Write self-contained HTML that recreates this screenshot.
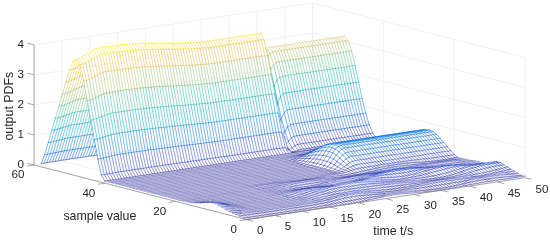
<!DOCTYPE html>
<html><head><meta charset="utf-8"><title>output PDFs</title>
<style>
html,body{margin:0;padding:0;background:#fff;}
body{width:550px;height:240px;overflow:hidden;}
svg{display:block;}
.f0,.f10{stroke-width:0.30}.f1,.f11{stroke-width:0.36}.f2,.f12{stroke-width:0.52}.f3,.f13{stroke-width:0.5}
text{font-family:"Liberation Sans",Arial,Helvetica,sans-serif;fill:#262626;}
</style></head><body>
<svg width="550" height="240" viewBox="0 0 550 240">
<path fill="none" stroke="#efefef" stroke-width="0.8" d="M246.62 219.58 L34.09 165.03M34.09 165.03 L34.09 44.87M274.47 215.39 L61.94 160.84M61.94 160.84 L61.94 40.68M302.31 211.2 L89.78 156.65M89.78 156.65 L89.78 36.49M330.16 207.01 L117.63 152.46M117.63 152.46 L117.63 32.3M358.01 202.82 L145.48 148.27M145.48 148.27 L145.48 28.11M385.86 198.63 L173.32 144.08M173.32 144.08 L173.32 23.92M413.7 194.44 L201.17 139.89M201.17 139.89 L201.17 19.73M441.55 190.25 L229.02 135.7M229.02 135.7 L229.02 15.54M469.4 186.06 L256.86 131.51M256.86 131.51 L256.86 11.35M497.24 181.87 L284.71 127.32M284.71 127.32 L284.71 7.16M525.09 177.68 L312.56 123.13M312.56 123.13 L312.56 2.97M246.62 219.58 L525.09 177.68M525.09 177.68 L525.09 57.52M175.78 201.4 L454.25 159.5M454.25 159.5 L454.25 39.34M104.93 183.21 L383.4 141.31M383.4 141.31 L383.4 21.15M34.09 165.03 L312.56 123.13M312.56 123.13 L312.56 2.97M34.09 165.03 L312.56 123.13M312.56 123.13 L525.09 177.68M34.09 134.99 L312.56 93.09M312.56 93.09 L525.09 147.64M34.09 104.95 L312.56 63.05M312.56 63.05 L525.09 117.6M34.09 74.91 L312.56 33.01M312.56 33.01 L525.09 87.56M34.09 44.87 L312.56 2.97M312.56 2.97 L525.09 57.52"/>
<g fill="none" stroke-linecap="round">
<path class="f0" stroke="#3637a0" d="M189.9 202.5 L186.4 201.8L182.9 201L179.3 200.2L175.8 199.3L172.2 198.4L168.7 197.5L165.1 196.6L161.6 195.7L158.1 194.7L154.5 193.8L151 192.9L147.4 192L143.9 191.1L140.4 190.2L136.8 189.3L133.3 188.4L129.7 187.5L126.2 186.6L122.6 185.7L119.1 184.7L115.6 183.8L112 182.9L108.5 182L104.9 181.1M196.3 202.5 L192.7 202.1L189.2 201.4L185.6 200.6L182.1 199.8L178.6 198.9L175 198L171.5 197.1L167.9 196.1L164.4 195.2L160.8 194.3L157.3 193.4L153.8 192.5L150.2 191.6L146.7 190.7L143.1 189.8L139.6 188.9L136.1 188L132.5 187.1L129 186.1L125.4 185.2L121.9 184.3L118.3 183.4L114.8 182.5L111.3 181.6L107.7 180.6M199.1 202.2 L195.5 201.7L192 201L188.4 200.2L184.9 199.3L181.3 198.4L177.8 197.5L174.3 196.6L170.7 195.7L167.2 194.8L163.6 193.9L160.1 193L156.6 192.1L153 191.2L149.5 190.3L145.9 189.4L142.4 188.5L138.8 187.5L135.3 186.6L131.8 185.7L128.2 184.8L124.7 183.9L121.1 183L117.6 182.1L114 181.2L110.5 180.2M244.3 213.2 L240.8 212M201.8 201.9 L198.3 201.4L194.8 200.6L191.2 199.8L187.7 198.9L184.1 198L180.6 197.1L177 196.2L173.5 195.3L170 194.4L166.4 193.5L162.9 192.6L159.3 191.7L155.8 190.8L152.3 189.9L148.7 188.9L145.2 188L141.6 187.1L138.1 186.2L134.5 185.3L131 184.4L127.5 183.5L123.9 182.6L120.4 181.7L116.8 180.8L113.3 179.8M247.1 212.8 L243.6 211.7L240 210.4M204.6 201.7 L201.1 201L197.5 200.3L194 199.4L190.5 198.5L186.9 197.6L183.4 196.7L179.8 195.8L176.3 194.9L172.7 194L169.2 193.1L165.7 192.2L162.1 191.3L158.6 190.3L155 189.4L151.5 188.5L148 187.6L144.4 186.7L140.9 185.8L137.3 184.9L133.8 184L130.2 183.1L126.7 182.2L123.2 181.3L119.6 180.3L116.1 179.4M249.9 212.5 L246.4 211.4L242.8 210.2L239.3 208.9M210.8 202 L207.4 201.4L203.9 200.7L200.3 199.9L196.8 199L193.2 198.1L189.7 197.2L186.2 196.3L182.6 195.4L179.1 194.5L175.5 193.6L172 192.7L168.4 191.7L164.9 190.8L161.4 189.9L157.8 189L154.3 188.1L150.7 187.2L147.2 186.3L143.7 185.4L140.1 184.5L136.6 183.6L133 182.7L129.5 181.7L125.9 180.8L122.4 179.9L118.9 179M252.7 212.1 L249.2 211.1L245.6 210L242.1 208.8L238.5 207.6M217.3 202.5 L213.7 201.8L210.2 201.1L206.7 200.3L203.1 199.5L199.6 198.6L196 197.7L192.5 196.8L188.9 195.9L185.4 195L181.9 194.1L178.3 193.1L174.8 192.2L171.2 191.3L167.7 190.4L164.1 189.5L160.6 188.6L157.1 187.7L153.5 186.8L150 185.9L146.4 185L142.9 184.1L139.4 183.1L135.8 182.2L132.3 181.3L128.7 180.4L125.2 179.5L121.6 178.5M255.5 211.8 L251.9 210.8L248.4 209.8L244.9 208.7L241.3 207.6L237.8 206.5L234.2 205.5L230.7 204.6L227.1 203.8L223.6 203.1L220.1 202.3L216.5 201.6L213 200.8L209.4 199.9L205.9 199.1L202.4 198.2L198.8 197.3L195.3 196.4L191.7 195.5L188.2 194.5L184.6 193.6L181.1 192.7L177.6 191.8L174 190.9L170.5 190L166.9 189.1L163.4 188.2L159.8 187.3L156.3 186.4L152.8 185.4L149.2 184.5L145.7 183.6L142.1 182.7L138.6 181.8L135.1 180.9L131.5 180L128 179.1L124.4 178.1M258.3 211.4 L254.7 210.4L251.2 209.4L247.6 208.5L244.1 207.4L240.6 206.4L237 205.5L233.5 204.6L229.9 203.7L226.4 202.9L222.8 202.1L219.3 201.3L215.8 200.4L212.2 199.5L208.7 198.7L205.1 197.8L201.6 196.8L198.1 195.9L194.5 195L191 194.1L187.4 193.2L183.9 192.3L180.3 191.4L176.8 190.5L173.3 189.6L169.7 188.7L166.2 187.8L162.6 186.8L159.1 185.9L155.5 185L152 184.1L148.5 183.2L144.9 182.3L141.4 181.4L137.8 180.5L134.3 179.6L130.8 178.7L127.2 177.7M261.1 211 L257.5 210L254 209.1L250.4 208.1L246.9 207.2L243.3 206.2L239.8 205.3L236.3 204.4L232.7 203.5L229.2 202.6L225.6 201.8L222.1 200.9L218.5 200L215 199.1L211.5 198.2L207.9 197.3L204.4 196.4L200.8 195.5L197.3 194.6L193.8 193.7L190.2 192.8L186.7 191.9L183.1 191L179.6 190.1L176 189.2L172.5 188.2L169 187.3L165.4 186.4L161.9 185.5L158.3 184.6L154.8 183.7L151.2 182.8L147.7 181.9L144.2 181L140.6 180.1L137.1 179.2L133.5 178.2L130 177.3M263.8 210.6 L260.3 209.6L256.8 208.7L253.2 207.8L249.7 206.8L246.1 205.9L242.6 205L239 204.1L235.5 203.2L232 202.3L228.4 201.4L224.9 200.5L221.3 199.6L217.8 198.7L214.2 197.8L210.7 196.9L207.2 196L203.6 195.1L200.1 194.2L196.5 193.3L193 192.4L189.5 191.5L185.9 190.6L182.4 189.6L178.8 188.7L175.3 187.8L171.7 186.9L168.2 186L164.7 185.1L161.1 184.2L157.6 183.3L154 182.4L150.5 181.5L146.9 180.6L143.4 179.6L139.9 178.7L136.3 177.8L132.8 176.9M266.6 210.1 L263.1 209.2L259.5 208.3L256 207.4L252.5 206.5L248.9 205.6L245.4 204.6L241.8 203.7L238.3 202.8L234.7 201.9L231.2 201L227.7 200.1L224.1 199.2L220.6 198.3L217 197.4L213.5 196.5L209.9 195.6L206.4 194.7L202.9 193.8L199.3 192.9L195.8 192L192.2 191L188.7 190.1L185.2 189.2L181.6 188.3L178.1 187.4L174.5 186.5L171 185.6L167.4 184.7L163.9 183.8L160.4 182.9L156.8 182L153.3 181L149.7 180.1L146.2 179.2L142.6 178.3L139.1 177.4L135.6 176.4M269.4 209.7 L265.9 208.8L262.3 207.9L258.8 207L255.2 206.1L251.7 205.2L248.2 204.2L244.6 203.3L241.1 202.4L237.5 201.5L234 200.6L230.4 199.7L226.9 198.8L223.4 197.9L219.8 197L216.3 196.1L212.7 195.2L209.2 194.3L205.7 193.4L202.1 192.4L198.6 191.5L195 190.6L191.5 189.7L187.9 188.8L184.4 187.9L180.9 187L177.3 186.1L173.8 185.2L170.2 184.3L166.7 183.4L163.1 182.4L159.6 181.5L156.1 180.6L152.5 179.7L149 178.8L145.4 177.9L141.9 177L138.3 176M272.2 209.3 L268.7 208.4L265.1 207.5L261.6 206.6L258 205.7L254.5 204.8L250.9 203.8L247.4 202.9L243.9 202L240.3 201.1L236.8 200.2L233.2 199.3L229.7 198.4L226.1 197.5L222.6 196.6L219.1 195.7L215.5 194.8L212 193.8L208.4 192.9L204.9 192L201.4 191.1L197.8 190.2L194.3 189.3L190.7 188.4L187.2 187.5L183.6 186.6L180.1 185.7L176.6 184.8L173 183.8L169.5 182.9L165.9 182L162.4 181.1L158.8 180.2L155.3 179.3L151.8 178.4L148.2 177.5L144.7 176.6L141.1 175.6M275 208.9 L271.4 208L267.9 207.1L264.4 206.2L260.8 205.2L257.3 204.3L253.7 203.4L250.2 202.5L246.6 201.6L243.1 200.7L239.6 199.8L236 198.9L232.5 198L228.9 197.1L225.4 196.2L221.8 195.2L218.3 194.3L214.8 193.4L211.2 192.5L207.7 191.6L204.1 190.7L200.6 189.8L197.1 188.9L193.5 188L190 187.1L186.4 186.2L182.9 185.2L179.3 184.3L175.8 183.4L172.3 182.5L168.7 181.6L165.2 180.7L161.6 179.8L158.1 178.9L154.5 178L151 177.1L147.5 176.2L143.9 175.2M277.8 208.5 L274.2 207.6L270.7 206.6L267.1 205.7L263.6 204.8L260.1 203.9L256.5 203L253 202.1L249.4 201.2L245.9 200.3L242.3 199.4L238.8 198.5L235.3 197.6L231.7 196.6L228.2 195.7L224.6 194.8L221.1 193.9L217.5 193L214 192.1L210.5 191.2L206.9 190.3L203.4 189.4L199.8 188.5L196.3 187.6L192.8 186.6L189.2 185.7L185.7 184.8L182.1 183.9L178.6 183L175 182.1L171.5 181.2L168 180.3L164.4 179.4L160.9 178.5L157.3 177.6L153.8 176.6L150.2 175.7L146.7 174.8M280.5 208 L277 207.1L273.5 206.2L269.9 205.3L266.4 204.4L262.8 203.5L259.3 202.6L255.8 201.7L252.2 200.8L248.7 199.9L245.1 199L241.6 198L238 197.1L234.5 196.2L231 195.3L227.4 194.4L223.9 193.5L220.3 192.6L216.8 191.7L213.2 190.8L209.7 189.9L206.2 189L202.6 188L199.1 187.1L195.5 186.2L192 185.3L188.5 184.4L184.9 183.5L181.4 182.6L177.8 181.7L174.3 180.8L170.7 179.9L167.2 179L163.7 178L160.1 177.1L156.6 176.2L153 175.3L149.5 174.3M283.3 207.6 L279.8 206.7L276.2 205.8L272.7 204.9L269.2 204L265.6 203.1L262.1 202.2L258.5 201.3L255 200.4L251.5 199.4L247.9 198.5L244.4 197.6L240.8 196.7L237.3 195.8L233.7 194.9L230.2 194L226.7 193.1L223.1 192.2L219.6 191.3L216 190.4L212.5 189.4L208.9 188.5L205.4 187.6L201.9 186.7L198.3 185.8L194.8 184.9L191.2 184L187.7 183.1L184.2 182.2L180.6 181.3L177.1 180.4L173.5 179.4L170 178.5L166.4 177.6L162.9 176.7L159.4 175.8L155.8 174.9L152.3 173.9M286.1 207.2 L282.6 206.3L279 205.4L275.5 204.5L271.9 203.6L268.4 202.7L264.9 201.8L261.3 200.8L257.8 199.9L254.2 199L250.7 198.1L247.2 197.2L243.6 196.3L240.1 195.4L236.5 194.5L233 193.6L229.4 192.7L225.9 191.8L222.4 190.8L218.8 189.9L215.3 189L211.7 188.1L208.2 187.2L204.6 186.3L201.1 185.4L197.6 184.5L194 183.6L190.5 182.7L186.9 181.8L183.4 180.8L179.9 179.9L176.3 179L172.8 178.1L169.2 177.2L165.7 176.3L162.1 175.4L158.6 174.5L155.1 173.5M288.9 206.8 L285.4 205.9L281.8 205L278.3 204.1L274.7 203.2L271.2 202.2L267.6 201.3L264.1 200.4L260.6 199.5L257 198.6L253.5 197.7L249.9 196.8L246.4 195.9L242.9 195L239.3 194.1L235.8 193.2L232.2 192.2L228.7 191.3L225.1 190.4L221.6 189.5L218.1 188.6L214.5 187.7L211 186.8L207.4 185.9L203.9 185L200.3 184.1L196.8 183.1L193.3 182.2L189.7 181.3L186.2 180.4L182.6 179.5L179.1 178.6L175.6 177.7L172 176.8L168.5 175.9L164.9 175L161.4 174.1L157.8 173.1M291.7 206.4 L288.1 205.5L284.6 204.6L281.1 203.6L277.5 202.7L274 201.8L270.4 200.9L266.9 200L263.3 199.1L259.8 198.2L256.3 197.3L252.7 196.4L249.2 195.5L245.6 194.5L242.1 193.6L238.6 192.7L235 191.8L231.5 190.9L227.9 190L224.4 189.1L220.8 188.2L217.3 187.3L213.8 186.4L210.2 185.5L206.7 184.5L203.1 183.6L199.6 182.7L196 181.8L192.5 180.9L189 180L185.4 179.1L181.9 178.2L178.3 177.3L174.8 176.4L171.3 175.5L167.7 174.5L164.2 173.6L160.6 172.7M294.5 206 L290.9 205L287.4 204.1L283.8 203.2L280.3 202.3L276.8 201.4L273.2 200.5L269.7 199.6L266.1 198.7L262.6 197.8L259.1 196.9L255.5 195.9L252 195L248.4 194.1L244.9 193.2L241.3 192.3L237.8 191.4L234.3 190.5L230.7 189.6L227.2 188.7L223.6 187.8L220.1 186.9L216.5 185.9L213 185L209.5 184.1L205.9 183.2L202.4 182.3L198.8 181.4L195.3 180.5L191.7 179.6L188.2 178.7L184.7 177.8L181.1 176.9L177.6 175.9L174 175L170.5 174.1L167 173.2L163.4 172.3M297.3 205.5 L293.7 204.6L290.2 203.7L286.6 202.8L283.1 201.9L279.5 201L276 200.1L272.5 199.2L268.9 198.3L265.4 197.3L261.8 196.4L258.3 195.5L254.8 194.6L251.2 193.7L247.7 192.8L244.1 191.9L240.6 191L237 190.1L233.5 189.2L230 188.3L226.4 187.3L222.9 186.4L219.3 185.5L215.8 184.6L212.2 183.7L208.7 182.8L205.2 181.9L201.6 181L198.1 180.1L194.5 179.2L191 178.3L187.4 177.3L183.9 176.4L180.4 175.5L176.8 174.6L173.3 173.7L169.7 172.8L166.2 171.8M300 205.1 L296.5 204.2L293 203.3L289.4 202.4L285.9 201.5L282.3 200.5L278.8 199.6L275.2 198.7L271.7 197.8L268.2 196.9L264.6 196L261.1 195.1L257.5 194.2L254 193.3L250.5 192.4L246.9 191.5L243.4 190.6L239.8 189.6L236.3 188.7L232.7 187.8L229.2 186.9L225.7 186L222.1 185.1L218.6 184.2L215 183.3L211.5 182.4L207.9 181.5L204.4 180.6L200.9 179.7L197.3 178.7L193.8 177.8L190.2 176.9L186.7 176L183.1 175.1L179.6 174.2L176.1 173.3L172.5 172.4L169 171.4M302.8 204.7 L299.3 203.7L295.7 202.8L292.2 201.9L288.7 201L285.1 200.1L281.6 199.1M267.4 195.4 L263.9 194.6L260.3 193.7L256.8 192.8L253.2 192L249.7 191L246.2 190.1L242.6 189.2L239.1 188.3L235.5 187.4L232 186.5L228.4 185.6L224.9 184.7L221.4 183.8L217.8 182.9L214.3 182L210.7 181.1L207.2 180.1L203.6 179.2L200.1 178.3L196.6 177.4L193 176.5L189.5 175.6L185.9 174.7L182.4 173.8L178.8 172.9L175.3 172L171.8 171M305.6 204.2 L302.1 203.2L298.5 202.3L295 201.4L291.4 200.5L287.9 199.6M270.2 194.9 L266.6 194L263.1 193.2L259.6 192.4L256 191.5L252.5 190.6L248.9 189.6L245.4 188.7L241.9 187.9L238.3 187L234.8 186.1L231.2 185.2L227.7 184.3L224.1 183.4L220.6 182.5L217.1 181.5L213.5 180.6L210 179.7L206.4 178.8L202.9 177.9L199.3 177L195.8 176.1L192.3 175.2L188.7 174.3L185.2 173.4L181.6 172.5L178.1 171.5L174.5 170.6M308.4 203.8 L304.9 202.7M301.3 201.8 L297.8 200.9L294.2 200M273 194.3 L269.4 193.4L265.9 192.7L262.3 191.9L258.8 191.1L255.3 190.1L251.7 189.1L248.2 188.2L244.6 187.4L241.1 186.6L237.6 185.7L234 184.8L230.5 183.9L226.9 182.9L223.4 182L219.8 181.1L216.3 180.2L212.8 179.3L209.2 178.4L205.7 177.5L202.1 176.6L198.6 175.7L195 174.8L191.5 173.9L188 172.9L184.4 172L180.9 171.1L177.3 170.2M275.8 193.7 L272.2 192.9L268.7 192.2L265.1 191.5L261.6 190.7L258 189.7M254.5 188.6 L251 187.7L247.4 187L243.9 186.2L240.3 185.3L236.8 184.3L233.3 183.4L229.7 182.5L226.2 181.6L222.6 180.7L219.1 179.8L215.5 178.9L212 178L208.5 177.1L204.9 176.2L201.4 175.3L197.8 174.3L194.3 173.4L190.7 172.5L187.2 171.6L183.7 170.7L180.1 169.7M278.5 193.1 L275 192.4L271.5 191.7L267.9 191L264.4 190.2L260.8 189.2M257.3 188.1 L253.7 187.2L250.2 186.5L246.7 185.7L243.1 184.8L239.6 183.9L236 183L232.5 182.1L229 181.2L225.4 180.3L221.9 179.4L218.3 178.5L214.8 177.6L211.2 176.7L207.7 175.7L204.2 174.8L200.6 173.9L197.1 173L193.5 172.1L190 171.2L186.4 170.3L182.9 169.3M277.8 191.9 L274.2 191.2L270.7 190.5L267.2 189.8L263.6 188.7M260.1 187.5 L256.5 186.6L253 186.1L249.4 185.3L245.9 184.4L242.4 183.5L238.8 182.6L235.3 181.7L231.7 180.8L228.2 179.9L224.7 179L221.1 178.1L217.6 177.1L214 176.2L210.5 175.3L206.9 174.4L203.4 173.5L199.9 172.6L196.3 171.7L192.8 170.8L189.2 169.9L185.7 168.9M280.6 191.4 L277 190.7L273.5 190L269.9 189.3M262.9 187 L259.3 186.1L255.8 185.6L252.2 184.9L248.7 184L245.1 183.1L241.6 182.2L238.1 181.3L234.5 180.4L231 179.4L227.4 178.5L223.9 177.6L220.4 176.7L216.8 175.8L213.3 174.9L209.7 174L206.2 173.1L202.6 172.2L199.1 171.3L195.6 170.4L192 169.4L188.5 168.5M283.4 191 L279.8 190.3L276.3 189.5L272.7 188.8M265.6 186.5 L262.1 185.6L258.6 185.2L255 184.5L251.5 183.6L247.9 182.7L244.4 181.8L240.8 180.8L237.3 179.9L233.8 179L230.2 178.1L226.7 177.2L223.1 176.3L219.6 175.4L216.1 174.5L212.5 173.6L209 172.7L205.4 171.8L201.9 170.8L198.3 169.9L194.8 169L191.3 168.1M286.1 190.6 L282.6 189.9L279.1 189L275.5 188.2M268.4 185.9 L264.9 185L261.3 184.7L257.8 184.1L254.3 183.2L250.7 182.2L247.2 181.3L243.6 180.4L240.1 179.5L236.5 178.6L233 177.7L229.5 176.8L225.9 175.9L222.4 175L218.8 174.1L215.3 173.2L211.8 172.2L208.2 171.3L204.7 170.4L201.1 169.5L197.6 168.6L194 167.6M288.9 190.3 L285.4 189.5L281.8 188.5L278.3 187.6M264.1 184.3 L260.6 183.6L257 182.7L253.5 181.8L250 180.9L246.4 180L242.9 179.1L239.3 178.2L235.8 177.3L232.2 176.4L228.7 175.5L225.2 174.6L221.6 173.6L218.1 172.7L214.5 171.8L211 170.9L207.5 170L203.9 169.1L200.4 168.2L196.8 167.2M291.7 190 L288.2 189.1L284.6 188M266.9 183.9 L263.4 183.2L259.8 182.3L256.3 181.4L252.7 180.5L249.2 179.6L245.7 178.7L242.1 177.8L238.6 176.9L235 176L231.5 175L227.9 174.1L224.4 173.2L220.9 172.3L217.3 171.4L213.8 170.5L210.2 169.6L206.7 168.7L203.2 167.8L199.6 166.8M294.5 189.6 L291 188.7M269.7 183.4 L266.2 182.8L262.6 181.9L259.1 181L255.5 180.1L252 179.2L248.4 178.3L244.9 177.4L241.4 176.4L237.8 175.5L234.3 174.6L230.7 173.7L227.2 172.8L223.6 171.9L220.1 171L216.6 170.1L213 169.2L209.5 168.3L205.9 167.4L202.4 166.4M297.3 189.3 L293.7 188.4M272.5 183 L268.9 182.4L265.4 181.5L261.9 180.6L258.3 179.7L254.8 178.8L251.2 177.8L247.7 176.9L244.1 176L240.6 175.1L237.1 174.2L233.5 173.3L230 172.4L226.4 171.5L222.9 170.6L219.3 169.7L215.8 168.8L212.3 167.8L208.7 166.9L205.2 166M300.1 188.9 L296.5 188M275.3 182.6 L271.7 182L268.2 181.1L264.6 180.2L261.1 179.2L257.6 178.3L254 177.4L250.5 176.5L246.9 175.6L243.4 174.7L239.8 173.8L236.3 172.9L232.8 172L229.2 171.1L225.7 170.2L222.1 169.2L218.6 168.3L215.1 167.4L211.5 166.5L208 165.6M302.8 188.6 L299.3 187.6M281.6 182.5 L278.1 182.2L274.5 181.6L271 180.6L267.4 179.7L263.9 178.8L260.3 177.9L256.8 177L253.3 176.1L249.7 175.2L246.2 174.3L242.6 173.4L239.1 172.5L235.5 171.6L232 170.6L228.5 169.7L224.9 168.8L221.4 167.9L217.8 167L214.3 166.1L210.8 165.1M305.6 188.1 L302.1 187.2M284.4 182.2 L280.8 181.8L277.3 181.1L273.8 180.2L270.2 179.3L266.7 178.4L263.1 177.5L259.6 176.6L256 175.7L252.5 174.8L249 173.9L245.4 173L241.9 172L238.3 171.1L234.8 170.2L231.2 169.3L227.7 168.4L224.2 167.5L220.6 166.6L217.1 165.7L213.5 164.7M308.4 187.7 L304.9 186.8M287.2 181.9 L283.6 181.4L280.1 180.7L276.5 179.8L273 178.9L269.5 178L265.9 177.1L262.4 176.2L258.8 175.3L255.3 174.4L251.7 173.4L248.2 172.5L244.7 171.6L241.1 170.7L237.6 169.8L234 168.9L230.5 168L226.9 167.1L223.4 166.2L219.9 165.3L216.3 164.3M311.2 187.2 L307.7 186.3M289.9 181.6 L286.4 181L282.9 180.3L279.3 179.4L275.8 178.5L272.2 177.6L268.7 176.7L265.2 175.7L261.6 174.8L258.1 173.9L254.5 173L251 172.1L247.4 171.2L243.9 170.3L240.4 169.4L236.8 168.5L233.3 167.6L229.7 166.7L226.2 165.7L222.6 164.8L219.1 163.9M314 186.7 L310.4 185.8M292.7 181.3 L289.2 180.6L285.6 179.9L282.1 179L278.6 178.1L275 177.1L271.5 176.2L267.9 175.3L264.4 174.4L260.9 173.5L257.3 172.6L253.8 171.7L250.2 170.8L246.7 169.9L243.1 169L239.6 168.1L236.1 167.1L232.5 166.2L229 165.3L225.4 164.4L221.9 163.5M316.8 186.1 L313.2 185.3M295.5 181 L292 180.3L288.4 179.5L284.9 178.5L281.3 177.6L277.8 176.7L274.3 175.8L270.7 174.9L267.2 174L263.6 173.1L260.1 172.2L256.6 171.3L253 170.4L249.5 169.5L245.9 168.5L242.4 167.6L238.8 166.7L235.3 165.8L231.8 164.9L228.2 164L224.7 163M319.6 185.5 L316 184.8M298.3 180.6 L294.8 179.9L291.2 179L287.7 178.1L284.1 177.2L280.6 176.3L277 175.4L273.5 174.5L270 173.6L266.4 172.7L262.9 171.8L259.3 170.9L255.8 169.9L252.3 169L248.7 168.1L245.2 167.2L241.6 166.3L238.1 165.4L234.5 164.5L231 163.6L227.5 162.6M301.1 180.2 L297.5 179.5L294 178.6L290.5 177.7L286.9 176.8L283.4 175.9L279.8 175L276.3 174.1L272.7 173.2L269.2 172.3L265.7 171.3L262.1 170.4L258.6 169.5L255 168.6L251.5 167.7L248 166.8L244.4 165.9L240.9 165L237.3 164.1L233.8 163.2L230.2 162.2M303.9 179.8 L300.3 179.1L296.8 178.2L293.2 177.3L289.7 176.4L286.2 175.5L282.6 174.6L279.1 173.7L275.5 172.7L272 171.8L268.5 170.9L264.9 170L261.4 169.1L257.8 168.2L254.3 167.3L250.7 166.4L247.2 165.5L243.7 164.6L240.1 163.7L236.6 162.7L233 161.8M306.7 179.4 L303.1 178.7L299.6 177.8L296 176.9L292.5 176L288.9 175.1L285.4 174.1L281.9 173.2L278.3 172.3L274.8 171.4L271.2 170.5L267.7 169.6L264.2 168.7L260.6 167.8L257.1 166.9L253.5 166L250 165.1L246.4 164.1L242.9 163.2L239.4 162.3L235.8 161.4M309.4 179 L305.9 178.3L302.4 177.4L298.8 176.5L295.3 175.5L291.7 174.6L288.2 173.7L284.6 172.8L281.1 171.9L277.6 171L274 170.1L270.5 169.2L266.9 168.3L263.4 167.4L259.9 166.5L256.3 165.5L252.8 164.6L249.2 163.7L245.7 162.8L242.1 161.9L238.6 160.9M312 178.5 L308.7 177.8L305.1 176.9L301.6 176L298.1 175.1L294.5 174.2L291 173.3L287.4 172.4L283.9 171.5L280.3 170.6L276.8 169.7L273.3 168.8L269.7 167.9L266.2 166.9L262.6 166L259.1 165.1L255.6 164.2L252 163.3L248.5 162.4L244.9 161.5L241.4 160.5M385.9 196.4 L382.3 195.4M315 178 L311.5 177.4L307.9 176.5L304.4 175.6L300.8 174.7L297.3 173.8L293.8 172.9L290.2 172L286.7 171.1L283.1 170.2L279.6 169.3L276 168.3L272.5 167.4L269 166.5L265.4 165.6L261.9 164.7L258.3 163.8L254.8 162.9L251.3 162L247.7 161.1L244.2 160.1M388.6 195.9 L385.1 195M317.8 177.5 L314.3 176.9L310.7 176.1L307.2 175.2L303.6 174.3L300.1 173.4L296.5 172.5L293 171.6L289.5 170.7L285.9 169.7L282.4 168.8L278.8 167.9L275.3 167L271.7 166.1L268.2 165.2L264.7 164.3L261.1 163.4L257.6 162.5L254 161.6L250.5 160.6L247 159.7M391.4 195.4 L387.9 194.6L384.3 193.5M320.6 177 L317 176.5L313.5 175.7L310 174.8L306.4 173.9L302.9 173L299.3 172.1L295.8 171.1L292.2 170.2L288.7 169.3L285.2 168.4L281.6 167.5L278.1 166.6L274.5 165.7L271 164.8L267.4 163.9L263.9 163L260.4 162L256.8 161.1L253.3 160.2L249.7 159.3M394.2 195 L390.7 194.1L387.1 193.2L383.6 192M323.4 176.5 L319.8 176L316.3 175.3L312.7 174.4L309.2 173.4L305.7 172.5L302.1 171.6L298.6 170.7L295 169.8L291.5 168.9L287.9 168L284.4 167.1L280.9 166.2L277.3 165.3L273.8 164.4L270.2 163.4L266.7 162.5L263.1 161.6L259.6 160.7L256.1 159.8L252.5 158.9M397 194.6 L393.5 193.7L389.9 192.9L386.4 191.7M333.2 177.8 L329.7 176.7L326.1 176L322.6 175.5L319.1 174.8L315.5 173.9L312 173L308.4 172.1L304.9 171.2L301.4 170.3L297.8 169.4L294.3 168.5L290.7 167.6L287.2 166.7L283.6 165.8L280.1 164.8L276.6 163.9L273 163L269.5 162.1L265.9 161.2L262.4 160.3L258.8 159.4L255.3 158.4M399.8 194.2 L396.2 193.3L392.7 192.5L389.2 191.5M336 177.5 L332.5 176.4L328.9 175.5L325.4 175.1L321.9 174.4L318.3 173.5L314.8 172.6L311.2 171.7L307.7 170.8L304.1 169.9L300.6 169L297.1 168.1L293.5 167.2L290 166.2L286.4 165.3L282.9 164.4L279.3 163.5L275.8 162.6L272.3 161.7L268.7 160.8L265.2 159.9L261.6 159L258.1 158M402.6 193.9 L399 192.9L395.5 192.1L391.9 191.1M342.3 177.7 L338.8 177.3L335.3 176.1L331.7 175L328.2 174.6L324.6 174L321.1 173.1L317.6 172.2L314 171.3L310.5 170.4L306.9 169.5L303.4 168.6L299.8 167.6L296.3 166.7L292.8 165.8L289.2 164.9L285.7 164L282.1 163.1L278.6 162.2L275 161.3L271.5 160.4L268 159.5L264.4 158.6L260.9 157.6M405.3 193.6 L401.8 192.6L398.3 191.7L394.7 190.8M344.6 177.3 L341.6 177M338 175.7 L334.5 174.5M331 174.1 L327.4 173.6L323.9 172.7L320.3 171.8L316.8 170.9L313.3 170L309.7 169L306.2 168.1L302.6 167.2L299.1 166.3L295.5 165.4L292 164.5L288.5 163.6L284.9 162.7L281.4 161.8L277.8 160.9L274.3 160L270.7 159L267.2 158.1L263.7 157.2M408.1 193.4 L404.6 192.2L401 191.2L397.5 190.4M347.9 176.9 L344.4 176.7M333.7 173.6 L330.2 173.2L326.7 172.3L323.1 171.4L319.6 170.4L316 169.5L312.5 168.6L309 167.7L305.4 166.8L301.9 165.9L298.3 165L294.8 164.1L291.2 163.2L287.7 162.3L284.2 161.4L280.6 160.4L277.1 159.5L273.5 158.6L270 157.7L266.4 156.8M410.9 193.1 L407.4 191.9L403.8 190.8L400.3 189.9M350.7 176.5 L347.2 176.3M336.5 173.2 L333 172.8M286.9 160.9 L283.4 160L279.9 159.1L276.3 158.2L272.8 157.3L269.2 156.3M413.7 192.9 L410.2 191.6L406.6 190.3L403.1 189.4M282.6 158.7 L279.1 157.8L275.6 156.9L272 155.9M416.5 192.7 L412.9 191.3M409.4 189.9 L405.9 188.9M285.4 158.2 L281.9 157.4L278.3 156.5L274.8 155.5M419.3 192.5 L415.7 191.1M291.8 158 L288.2 157.6L284.7 156.9L281.1 156L277.6 155.1M291 157 L287.5 156.5L283.9 155.6L280.4 154.7M293.8 156.4 L290.2 156L286.7 155.2L283.2 154.2M296.6 155.9 L293 155.6L289.5 154.8L285.9 153.8M299.3 155.3 L295.8 155.2L292.3 154.4L288.7 153.4M302.1 154.9 L298.6 154.8L295 153.9L291.5 153M304.2 154.4 L301.4 154.3L297.8 153.5L294.3 152.6L291.1 152.3M305.6 154 L304.2 153.9L300.6 153.1L297.1 152.2L295.8 152.2M294.4 152.3 L293.5 152.3L293.4 152.3M306.9 153.5 L303.4 152.7L299.9 151.8L296.3 151.9L292.8 152M308.1 152.7 L306.2 152.3L302.6 151.4L299.3 151.5M298.9 151.5 L295.6 151.2M309.9 152.1 L309 151.9L305.4 150.9L303.7 151M302.4 151 L301.9 151.1L298.3 150.1M311.4 151.3 L308.2 150.5L307.5 150.5M307.2 150.5 L304.7 150.6M431.4 180.2 L427.9 179.2M312.9 150.6 L311 150.1L307.5 150.2M434.2 179.9 L430.7 178.9M314.1 149.8 L313.8 149.7L310.2 149.7M436.8 179.5 L433.5 178.6M315.2 149.3 L313 149.3M439.8 179.1 L436.2 178.2M316.2 148.9 L315.8 148.9M442.6 178.7 L439 177.7M519.5 177 L516 175.9M522.3 176.6 L518.8 175.7M525.1 176.2 L521.5 175.4"/>
<path class="f0" stroke="#353dad" d="M200.6 202.9 L197 203.1L193.5 202.9L189.9 202.5M203.4 202.6 L203 202.6M202.6 202.6 L199.8 202.7L196.3 202.5M205.1 202.4 L202.6 202.5L199.8 202.3M199.2 202.2 L199.1 202.2M233.7 208.8 L230.2 207L226.6 205.3M204.7 202.2 L202.5 202M202.2 202 L201.8 201.9M240 210.4 L236.5 208.9L233 207.3L229.4 205.8L225.9 204.5M208.9 202.2 L208.2 202.2L204.6 201.7M239.3 208.9 L235.7 207.5L232.2 206.2L228.7 205L228.1 204.9M227.4 204.7 L227.1 204.6M226.5 204.5 L226 204.3M225.5 204.2 L225.1 204.1M224.4 204 L224.1 203.9M223 203.7 L222.6 203.7M221.8 203.5 L221.6 203.5L221.4 203.4M212.4 202.2 L212 202.2M238.5 207.6 L235 206.5L231.4 205.4L230.2 205.1M229.9 205 L228.3 204.6M227.9 204.5 L227.4 204.4M226.8 204.2 L226.1 204.1M225.6 204 L224.9 203.8M224.4 203.7 L223.7 203.6M222.9 203.5 L222.1 203.3M221.7 203.2 L220.8 203.1L220.6 203.1M220.3 203 L219.1 202.8M218.7 202.7 L217.6 202.5M282.1 193.7 L278.5 193.1M284.9 193 L281.3 192.5L277.8 191.9M291.2 192.7 L287.7 192.3L284.1 192L280.6 191.4M294 191.9 L290.4 191.6L286.9 191.5L283.4 191M293.2 191 L289.7 191L286.1 190.6M296 190.4 L292.5 190.5L288.9 190.3M271.2 185.4 L267.7 184.6L264.1 184.3M298.8 189.8 L296.5 190M296 190 L295.3 190.1L291.7 190M274 184.9 L270.5 184.1L266.9 183.9M301.6 189.2 L301.2 189.3M300.9 189.3 L299.6 189.5M298.9 189.6 L298 189.7L294.5 189.6M276.8 184.4 L273.2 183.7L269.7 183.4M303.5 188.9 L302.6 189M301.7 189.1 L301 189.2M298.9 189.3 L298.7 189.3M298.3 189.3 L297.3 189.3M279.6 183.9 L276 183.3L272.5 183M306.6 188.4 L305.7 188.5M304.8 188.6 L304.1 188.7M303.1 188.8 L300.1 188.9M285.9 184.2 L282.4 183.5L278.8 182.9L275.3 182.6M341.8 196.3 L338.3 195.5M309.9 187.9 L309 188M308 188.1 L307.5 188.2M306.4 188.4 L304.3 188.5M292.2 184.4 L288.7 183.5L285.1 183L281.6 182.5M344.6 195.6 L341.1 194.9M311.5 187.7 L310.8 187.7M309.7 187.9 L309.2 188L308.5 188M307.4 188.1 L305.6 188.1M295 183.7 L291.5 182.9L287.9 182.6L284.4 182.2M315.5 187.2 L314.8 187.2M313.4 187.4 L312.3 187.5M311.4 187.6 L308.4 187.7M297.8 183.2 L294.2 182.3L290.7 182.1L287.2 181.9M318.3 186.9 L316.5 187M314.9 187.1 L314.7 187.1L311.2 187.2M300.6 182.6 L297 181.8L293.5 181.7L289.9 181.6M321.1 186.6 L317.5 186.7L314 186.7M303.4 182.2 L299.8 181.3L296.3 181.3L292.7 181.3M323.9 186.4 L320.3 186.3L316.8 186.1M306.1 181.8 L302.6 180.8L299.1 180.9L295.5 181M358.5 193.5 L355 192.5M329.7 186.2 L326.6 186.2L323.1 185.9L319.6 185.5M308.9 181.4 L305.4 180.4L301.8 180.5L301.1 180.5M299.7 180.6 L298.3 180.6M361.3 193.2 L357.8 192.1L354.2 191M331.4 185.9 L329.4 185.9L325.9 185.5L322.3 185L318.8 184.2M311.7 181 L308.2 180L304.6 180.1L301.1 180.2M364.1 193 L360.5 191.8L357 190.6M332.9 185.6 L332.2 185.6L328.7 185L325.1 184.4L321.6 183.6M314.5 180.7 L311 179.7L307.4 179.7L305.6 179.7M304.4 179.8 L303.9 179.8M366.9 192.9 L363.3 191.6L359.8 190.2M334.6 185.2 L331.5 184.6L327.9 183.8L324.4 182.9M317.3 180.4 L313.7 179.4L310.7 179.3M309 179.3 L306.7 179.4M369.7 192.7 L366.1 191.3M336.9 184.7 L334.2 184.2L330.7 183.1L327.2 182.3M320.1 180.1 L316.5 179.1L313 178.9L309.4 179M372.4 192.6 L368.9 191.1M339.3 184.2 L337 183.7M333.5 182.5 L329.9 181.7L326.4 180.9L322.9 179.8L319.3 178.9L315.8 178.5L312.9 178.5M342.1 183.7 L339.8 183.2M332.7 181 L329.2 180.4L325.6 179.6L322.1 178.6L318.6 178.1L315 178M344.9 183.2 L342.6 182.7M335.5 180.4 L332 179.9L328.4 179.3L324.9 178.4L321.3 177.8L317.8 177.5M347.3 182.5 L345.4 182.1M338.3 179.8 L334.7 179.4L331.2 179L327.7 178.2L324.1 177.4L320.6 177M350.8 182 L348.2 181.5M341.1 179.2 L337.5 178.9L334 178.7L330.4 178L326.9 177.1L323.4 176.5M354 181.3 L350.9 180.9M343.9 178.6 L340.3 178.4L336.8 178.4L333.2 177.8M346.6 178 L343.1 177.9L341.3 178M340.1 178 L339.6 178.1L336 177.5M345.9 177.4 L345.2 177.5M344.1 177.6 L342.3 177.7M348.7 177 L348.3 177M347.4 177.1 L345.8 177.2M334.5 174.5 L331 174.1M351.5 176.5 L351.3 176.5M350.4 176.6 L349.2 176.7M348.1 176.9 L347.9 176.9M337.3 174 L333.7 173.6M353.4 176.1 L352.3 176.2M351.4 176.4 L350.7 176.5M340.1 173.5 L336.5 173.2M356.8 175.5 L355.4 175.7M354.4 175.9 L353.5 176L349.9 175.9M342.9 173 L339.3 172.5M359.8 175.1 L358.4 175.2M357.3 175.4 L356.3 175.5L352.7 175.4M398 183.2 L394.5 182M362.6 174.6 L361.4 174.7M360.5 174.8 L359.1 175L355.5 174.9M400.8 182.9 L397.3 181.8M393.7 181.1 L390.2 179.9M365.4 174.2 L364.3 174.2M363.1 174.3 L361.8 174.5L358.3 174.4M298.1 157 L294.5 157.2L291 157M403.6 182.7 L400 181.5L396.5 180.9L393 179.8M368.2 173.7 L367.8 173.7M366.7 173.8 L364.6 173.9L361.1 173.8M297.3 156.3 L293.8 156.4M406.4 182.4 L402.8 181.3L399.3 180.7L395.7 179.6M371 173.3 L367.4 173.4L363.9 173.2M300.1 155.5 L299.9 155.5M299.6 155.5 L296.6 155.9M409.2 182.2 L405.6 181.1L402.1 180.4L398.5 179.3M373.7 172.9 L370.2 172.8L366.7 172.6M302.4 154.9 L301.7 155M301.1 155.1 L300.1 155.2M411.9 182 L408.4 180.8L404.9 180.1L401.3 179M376.2 172.5 L373 172.3L369.4 172M303.4 154.7 L303 154.7M421.8 183.7 L418.3 182.9L414.7 181.8L411.2 180.6L407.6 179.7L404.1 178.6M379.3 172.2 L375.8 171.8L372.2 171.3M424.6 183.1 L421.1 182.5L417.5 181.5L414 180.4L410.4 179.4L406.9 178.2M382.1 171.8 L378.5 171.3L375 170.7M430.9 183.5 L427.4 182.6L423.8 182.1L420.3 181.3L416.8 180.2L413.2 179M384.9 171.5 L381.3 170.8L377.8 170M433.7 183 L430.2 182L426.6 181.6L423.1 181.1L419.5 180L416 178.6M386.8 171 L384.1 170.4L380.6 169.4M436.5 182.5 L432.9 181.5L429.4 181.2L425.9 180.8L422.3 179.7M389 170.5 L386.9 170L383.4 168.9M439.3 182 L435.7 181L432.2 180.8L428.6 180.5L425.1 179.5M391.3 170 L389.7 169.6M442.1 181.6 L438.5 180.5L435 180.4L431.4 180.2M394 169.6 L392.5 169.2M444.8 181.2 L441.3 180.1L437.8 179.9L434.2 179.9M396.6 169.2 L395.3 168.8M447.6 180.8 L444.1 179.7L440.5 179.5L440.2 179.5M438.4 179.5 L438.2 179.5M437.9 179.5 L437.7 179.5M437.4 179.5 L437.2 179.5M398.9 168.7 L398 168.5M450.4 180.5 L446.9 179.3L443.3 179.1L439.8 179.1M402.2 168.5 L400.8 168.1M453.2 180.1 L449.7 179L446.1 178.7L442.6 178.7M405.2 168.2 L403.6 167.8M456 179.8 L452.4 178.7L448.9 178.3L445.4 178.2M408 167.8 L406.4 167.4M458.8 179.5 L455.2 178.4L451.7 177.9L448.1 177.6M411.5 167.5 L409.2 167M461.6 179.2 L458 178.1L454.5 177.5L450.9 177.1M417.1 167.4 L415.5 167.4L412 166.6M464.3 178.9 L460.8 177.9L457.3 177.1L453.7 176.5M421.8 167.1 L418.3 166.9L414.7 166.1M467.1 178.6 L463.6 177.7L460 176.7L456.5 175.8M427.8 167.2 L426.2 167M425.9 167 L424.6 166.8L421.1 166.4L417.5 165.7M473.5 179.2 L469.9 178.3L466.4 177.4L462.8 176.3M429.9 167 L427.4 166.5L423.9 165.8L420.3 165.2L416.8 164.3M476.2 178.7 L472.7 177.9L469.2 177.2L465.6 175.9M432.9 166.9 L430.2 166.1L426.6 165.3L423.1 164.7L419.6 164M479 178.2 L475.5 177.5L471.9 176.9M435 166.5 L433 165.8L429.4 164.8L425.9 164.2L422.3 163.7M481.8 177.7 L478.3 177.2L474.7 176.5M437.8 166.2 L435.8 165.4L432.2 164.2L428.7 163.7L425.1 163.3M484.6 177.3 L481 176.7L477.5 176.2M435 163.7 L431.5 163.2L427.9 163L424.4 161.8M487.4 176.8 L483.8 176.3L480.3 175.8M437.8 163.3 L434.2 162.7L430.7 162.7L427.2 161.6M490.2 176.4 L486.6 175.8L483.1 175.3M440.6 162.8 L437 162.3L433.5 162.3L429.9 161.3M492.9 176 L489.4 175.4L485.9 174.8M443.4 162.4 L439.8 161.8L436.3 161.9L432.7 161.1M495.7 175.6 L492.2 174.9L488.6 174.2M446.1 162 L442.6 161.4L440.1 161.5M438.7 161.5 L435.5 160.8M498.5 175.3 L495 174.4L491.4 173.7M456.7 164.8 L456 164.7M448.9 161.6 L445.4 161L445 161M443.6 161.1 L441.8 161.1L438.3 160.4M501.3 174.9 L497.8 173.8L494.2 173M461.8 164.7 L458.8 164.2M451.7 161.3 L448.2 160.6L444.6 160.7L441.1 160.1M504.1 174.6 L500.5 173.3L497 172.4M470.3 164.7 L468.7 164.6L465.1 164.3L461.6 163.7M454.5 161 L450.9 160.3L450.4 160.3M448.6 160.3 L447.4 160.3L443.9 159.7M472.9 164.5 L471.4 164.3L467.9 163.7L464.4 163.1M457.3 160.7 L453.7 159.9L450.2 159.9L446.6 159.3M475.8 164.2 L474.2 163.9L470.7 163.2L467.1 162.5L463.6 161.6M460.1 160.5 L456.5 159.6L453.7 159.5M453 159.5 L449.4 158.8M479 164 L477 163.6L473.5 162.6L469.9 161.9L466.4 161.2L462.8 160.2L459.3 159.4L455.8 159.1L452.2 158.3M481.2 163.5 L479.8 163.2L476.3 162.1L472.7 161.3L469.2 160.8L465.6 160L462.1 159.1L458.5 158.7L455 157.8M484.4 163.2 L482.6 162.8M479 161.5 L475.5 160.8L472 160.4L468.4 159.8L464.9 158.9L461.3 158.3L457.8 157.2"/>
<path class="f0" stroke="#3243ba" d="M204.1 202.5 L200.6 202.9M206.9 202.2 L206 202.3M205.5 202.4 L203.4 202.6M227.4 206.8 L223.9 204.9L220.3 203.4M213.2 202.2 L212.2 202.2M209.3 202.3 L206.7 202.4M226.6 205.3 L223.1 203.9L221.9 203.6M221.3 203.5 L220.8 203.3M220.4 203.2 L219.9 203.1M219.4 203 L218.8 202.9M225.9 204.5 L225.3 204.4M224.8 204.2 L224.3 204.1M223.9 204 L223.4 203.9M222.9 203.7 L222.3 203.6M221.6 203.5 L221.3 203.4M296.8 191.1 L293.2 191M299.6 190.4 L296 190.4M305.9 190.4 L302.3 189.8L298.8 189.8M308.7 189.8 L305.1 189.2L301.6 189.2M311.4 189.2 L307.9 188.6L304.4 188.7M317.8 189.3 L314.2 188.6L310.7 188.2L307.9 188.2M320.6 188.6 L317 188.1L313.5 187.8L312.9 187.8M311.9 187.8 L309.9 187.9M319.8 187.7 L316.3 187.4L312.7 187.5M347.4 195 L343.8 194.3M322.6 187.2 L319 187.1L315.5 187.2M350.2 194.5 L346.6 193.8M325.4 186.8 L321.8 186.9L318.3 186.9M353 194.1 L349.4 193.3L345.9 192.3M328.2 186.4 L326.7 186.5M325.7 186.6 L324.6 186.7L321.1 186.6M355.7 193.8 L352.2 192.9L348.7 191.8M329.9 186.1 L329 186.2M327.9 186.4 L327.4 186.4L323.9 186.4M355 192.5 L351.4 191.4M332.8 185.7 L332.7 185.7M331.4 185.9 L331.2 186M360.8 179.9 L360.6 180M360.1 180.1 L359 180.2M358.7 180.3 L357.6 180.5M357.1 180.5 L353.7 180.2M363.6 179.2 L363.2 179.2M362.9 179.3 L361.5 179.5M361.1 179.5 L360.1 179.7L356.5 179.4M349.4 177.5 L345.9 177.4M377 181.5 L373.5 179.8M362.8 178.8 L359.3 178.7M355.8 177.8 L352.2 177L348.7 177M383.3 182.9 L379.8 181.5L376.3 179.9M365.6 177.9 L362.1 177.8M358.5 177.1 L355 176.4L351.5 176.5M386.1 182.7 L382.6 181.5L379 179.9L375.5 178.1M368.4 177 L364.9 177L361.3 176.5L357.8 175.9L354.2 176M392.4 183.8 L388.9 182.5L385.4 181.5L381.8 179.9M367.7 176.1 L364.1 175.9L360.6 175.5L358.1 175.5M357.4 175.5 L357.2 175.5M395.2 183.5 L391.7 182.3L388.1 181.4L384.6 179.9M370.4 175.3 L366.9 175.2L363.4 175L362.3 175M361.4 175 L359.8 175.1M394.5 182 L390.9 181.3L387.4 179.9M369.7 174.6 L366.1 174.5L365.4 174.5M365.1 174.5 L362.6 174.6M397.3 181.8 L393.7 181.1M372.5 174 L368.9 174.1L365.4 174.2M375.2 173.3 L373.3 173.5M372.6 173.6 L371.7 173.6L368.2 173.7M304.4 154.9 L300.9 155.8L297.3 156.3M377.3 172.8 L376.1 173M375.4 173.1 L374.5 173.2L373.1 173.2M371.7 173.3 L371 173.3M303.6 154.6 L300.1 155.5M376.7 172.8 L373.7 172.9M304.9 154.2 L304.7 154.2M304.2 154.4 L303.9 154.5M303.4 154.6 L303.2 154.7M379.7 172.4 L377.6 172.5M380.9 172.1 L379.3 172.2M423.6 167.2 L421.8 167.1"/>
<path class="f0" stroke="#2c4ac7" d="M214.7 203.4 L211.2 202.5L207.7 202.3L204.1 202.5M221.1 204.8 L217.5 203.2L214 202.3L210.4 202L210.3 202.1M209.2 202.1 L206.9 202.2M220.3 203.4 L218.9 203.1M218.5 203 L216.8 202.5L215.4 202.4M213.8 202.2 L213.2 202.2M324.1 189.1 L320.6 188.6M326.9 188.3 L323.3 187.8L319.8 187.7M329.7 187.5 L326.1 187.2L322.6 187.2M332.5 186.8 L328.9 186.5L325.4 186.8M335.2 186.2 L331.7 185.9L331.2 186M330.6 186.1 L329.4 186.2M328.7 186.3 L328.2 186.4M338 185.6 L334.5 185.4L333.8 185.5M332.9 185.6 L332.4 185.7M331.6 185.9 L330.9 186M340.8 185.1 L337.3 184.8L336.4 185M335.5 185.2 L335.1 185.2M334.1 185.5 L333.9 185.5M343.6 184.6 L340.1 184.2L339.7 184.3M339 184.4 L338.8 184.5M337.9 184.7 L337.7 184.7M346.4 184.1 L342.8 183.6L342.3 183.7M345.6 183 L344.9 183.2M348.4 182.5 L347.7 182.7M351.2 182 L350.7 182.1M350.1 182.2 L350 182.2M357.5 182.5 L354 181.5M360.3 182.2 L356.8 181M363.1 182 L359.5 180.7L358.7 180.7M357.4 180.9 L356 181M365.9 181.8 L362.3 180.4L358.8 180.4L358.6 180.5M368.7 181.7 L365.1 180.1L363.5 180M363.2 180 L361.6 179.9L361 180M360.2 180.2 L360 180.2M371.4 181.6 L367.9 180L364.4 179.4L363.8 179.5M362.9 179.6 L362.2 179.7M361.2 179.9 L360.8 179.9M374.2 181.6 L370.7 179.9L367.1 179L366.8 179M365.7 179.1 L363.6 179.2M373.5 179.8 L369.9 178.6L367.4 178.5M367.1 178.5 L366.4 178.5L363.5 178.7M363.2 178.8 L362.8 178.8M376.3 179.9 L372.7 178.4L369.2 177.8L365.6 177.9M375.5 178.1 L372 177.1L368.4 177M378.3 178 L374.7 176.6M371.2 176.1 L367.7 176.1M373.2 174.5 L369.7 174.6M380.8 172.2 L380.5 172.2M379.6 172.4 L379 172.5M378.3 172.6 L377.6 172.7M383.6 171.6 L383.2 171.7M382.4 171.9 L382 172M380.9 172.2 L380.8 172.2M420.6 167.3 L420.4 167.3M432.5 167 L432.1 167"/>
<path class="f0" stroke="#2053d4" d="M349.2 183.6 L345.6 183M351.9 183.2 L348.4 182.5M354.7 182.8 L351.2 182M354 181.5 L353.4 181.6M352.9 181.7 L352.7 181.7M356.8 181 L355.5 181.2M354.5 181.4 L353.7 181.5"/>
<path class="f0" stroke="#0268e1" d="M284.4 136.9 L280.9 120.3"/>
<path class="f0" stroke="#25b5a9" d="M274.6 93.8 L271 74.7"/>
<path class="f0" stroke="#87bf77" d="M271 74.7 L267.5 55.6"/>
<path class="f0" stroke="#d9ba56" d="M267.5 55.6 L263.9 39.4"/>
<path class="f0" stroke="#e1b952" d="M266.5 47.9 L266.3 48M269.3 47.4 L268.6 47.7M272 47 L271.6 47.2M274.8 46.6 L274.3 46.8M277.6 46.1 L277.1 46.4M280.4 45.7 L279.9 46M283.2 45.3 L282.7 45.5M286 44.9 L285.5 45.1M288.7 44.5 L288.3 44.7M291.5 44 L291 44.3M294.3 43.6 L293.8 43.9M297.1 43.2 L296.6 43.4M299.9 42.8 L299.4 43M302.7 42.4 L302.2 42.6M305.5 42 L305 42.2M308.2 41.5 L307.8 41.8M311 41.1 L310.5 41.4M313.8 40.7 L313.3 40.9M316.6 40.3 L316.1 40.5M319.4 39.9 L318.9 40.1M322.2 39.4 L321.7 39.7M324.9 39 L324.5 39.3M327.7 38.6 L327.2 38.8M330.5 38.2 L330 38.4M333.3 37.8 L332.8 38M336.1 37.3 L335.6 37.6M338.9 36.9 L338.4 37.2M341.7 36.5 L341.2 36.7M344.4 36.1 L344 36.3"/>
<path class="f0" stroke="#f5de21" d="M204.7 41.5 L204.2 41.8M207.5 41.2 L207 41.5M210.3 40.8 L209.8 41.1M213 40.4 L212.6 40.6M215.8 39.9 L215.4 40.2M218.6 39.5 L218 39.9M221.4 39.1 L220.8 39.5M224.2 38.7 L223.7 39M227 38.3 L226.5 38.5M229.8 37.8 L229.3 38.1M232.5 37.4 L232.1 37.7M235.3 37 L234.9 37.3M238.1 36.6 L237.5 37M240.9 36.2 L240.4 36.5M243.7 35.7 L243.2 36M246.5 35.3 L246 35.6M249.2 34.9 L248.8 35.2M252 34.5 L251.6 34.8M254.8 34.1 L254.4 34.4M257.6 33.7 L257.2 33.9"/>
<path class="f0" stroke="#f5e41d" d="M76.6 58.8 L73.1 61.1M79.4 58 L78.8 58.4M76.9 59.7 L75.8 60.4M82.2 56.7 L81.6 57.1"/>
<path class="f0" stroke="#f5eb18" d="M84.9 55.1 L84.4 55.5"/>
<path class="f0" stroke="#f6f313" d="M87.7 53.3 L87.1 53.7M90.5 51.5 L90 51.9"/>
<path class="f0" stroke="#f9fb0e" d="M93.3 49.9 L92.7 50.3M96.1 48.7 L95.5 49.1"/>
<path class="f1" stroke="#363093" d="M246.6 219.6 L243.1 218.1L239.5 216M249.4 219.1 L245.9 217.6L242.3 215.6M252.2 218.7 L248.6 217.2L245.1 215.2M255 218.3 L251.4 216.8L247.9 214.8M257.8 217.9 L254.2 216.4L250.7 214.4M260.5 217.5 L257 216L253.5 214M263.3 217.1 L259.8 215.6L256.2 213.6M266.1 216.6 L262.6 215.2L259 213.2M268.9 216.2 L265.4 214.8L261.8 212.8M271.7 215.8 L268.1 214.4L264.6 212.4M274.5 215.4 L270.9 213.9L267.4 212M277.3 215 L273.7 213.5L270.2 211.6M280 214.6 L276.5 213.1L273 211.2M282.8 214.1 L279.3 212.7L275.7 210.8M285.6 213.7 L282.1 212.3L278.5 210.3M288.4 213.3 L284.8 211.8L281.3 209.9M291.2 212.9 L287.6 211.4L284.1 209.5M294 212.5 L290.4 211L286.9 209.1M296.7 212 L293.2 210.6L289.7 208.7M299.5 211.6 L296 210.2L292.4 208.2M302.3 211.2 L298.8 209.7L295.2 207.8M305.1 210.8 L301.6 209.3L298 207.4M307.9 210.4 L304.3 208.9L300.8 207M310.7 209.9 L307.1 208.5L303.6 206.6M313.5 209.5 L309.9 208.1L306.4 206.1M316.2 209 L312.7 207.6L309.2 205.7M319 208.6 L315.5 207.2L311.9 205.3M321.8 208.1 L318.3 206.7L314.7 204.8M324.6 207.6 L321 206.2L317.5 204.3M327.4 207.2 L323.8 205.7L320.3 203.8M330.2 206.8 L326.6 205.2M332.9 206.3 L329.4 204.7M335.7 205.9 L332.2 204.1M338.5 205.5 L335 203.6M341.3 205.1 L337.8 203M422.1 192.3 L418.5 190.8M424.8 192 L421.3 190.5M427.6 191.8 L424.1 190.3M430.4 191.5 L426.9 190M433.2 191.2 L429.7 189.7M436 190.9 L432.4 189.4M438.8 190.5 L435.2 189M441.5 190.1 L438 188.7M444.3 189.6 L440.8 188.3M447.1 189.2 L443.6 187.8M449.9 188.7 L446.4 187.3M452.7 188.1 L449.1 186.8M455.5 187.6 L451.9 186.3M458.3 187.1 L454.7 185.7M461 186.5 L457.5 185.1M463.8 185.9 L460.3 184.5"/>
<path class="f1" stroke="#3637a0" d="M239.5 216 L236 214.3L232.5 212.9M242.3 215.6 L238.8 213.9L235.2 212.5L231.7 210.9M245.1 215.2 L241.6 213.5L238 212.2L234.5 210.6M247.9 214.8 L244.3 213.2M240.8 212 L237.3 210.5M250.7 214.4 L247.1 212.8M253.5 214 L249.9 212.5M256.2 213.6 L252.7 212.1M259 213.2 L255.5 211.8M261.8 212.8 L258.3 211.4M264.6 212.4 L261.1 211M267.4 212 L263.8 210.6M270.2 211.6 L266.6 210.1M273 211.2 L269.4 209.7M275.7 210.8 L272.2 209.3M278.5 210.3 L275 208.9M281.3 209.9 L277.8 208.5M284.1 209.5 L280.5 208M286.9 209.1 L283.3 207.6M289.7 208.7 L286.1 207.2M292.4 208.2 L288.9 206.8M295.2 207.8 L291.7 206.4M298 207.4 L294.5 206M300.8 207 L297.3 205.5M303.6 206.6 L300 205.1M306.4 206.1 L302.8 204.7M281.6 199.1 L278 198.2L274.5 197.3L270.9 196.3L267.4 195.4M309.2 205.7 L305.6 204.2M287.9 199.6 L284.4 198.6L280.8 197.6L277.3 196.6L273.7 195.7L270.2 194.9M311.9 205.3 L308.4 203.8M304.9 202.7 L301.3 201.8M294.2 200 L290.7 199L287.1 197.9L283.6 196.9L280.1 196L276.5 195.1L273 194.3M314.7 204.8 L311.2 203.3L307.6 202.2L304.1 201.2L300.6 200.3L297 199.4L293.5 198.4L289.9 197.2L286.4 196.1M279.3 194.4 L275.8 193.7M258 189.7 L254.5 188.6M317.5 204.3 L314 202.8L310.4 201.7L306.9 200.6L303.3 199.7L299.8 198.8L296.3 197.7L292.7 196.5M260.8 189.2 L257.3 188.1M320.3 203.8 L316.7 202.3L313.2 201.1L309.7 200L306.1 199M302.6 198.1 L299 197M263.6 188.7 L260.1 187.5M323.1 203.2 L319.5 201.7L316 200.5L312.4 199.3M269.9 189.3 L266.4 188.2L262.9 187M325.9 202.6 L322.3 201.1L318.8 200M272.7 188.8 L269.2 187.7L265.6 186.5M328.6 202 L325.1 200.5L321.6 199.4M275.5 188.2 L272 187.2L268.4 185.9M331.4 201.3 L327.9 199.8M278.3 187.6 L274.8 186.6L271.2 185.4M334.2 200.7 L330.7 199.1M284.6 188 L281.1 187L277.5 186L274 184.9M291 188.7 L287.4 187.4L283.9 186.3M293.7 188.4 L290.2 186.9M296.5 188 L293 186.4M299.3 187.6 L295.8 185.9M302.1 187.2 L298.5 185.4M304.9 186.8 L301.3 184.9M307.7 186.3 L304.1 184.5M310.4 185.8 L306.9 184M313.2 185.3 L309.7 183.6M316 184.8 L312.5 183.2M371.9 199.3 L368.4 197.7M318.8 184.2 L315.3 182.7M374.7 198.7 L371.2 197.2M377.5 198.1 L374 196.8L370.4 194.8M380.3 197.5 L376.7 196.3L373.2 194.5M383.1 196.9 L379.5 195.9L376 194.3L372.4 192.6M382.3 195.4 L378.8 194.1L375.2 192.5M385.1 195 L381.6 193.8L378 192.3M384.3 193.5 L380.8 192.2L377.3 190.5M383.6 192 L380 190.3M386.4 191.7 L382.8 190M389.2 191.5 L385.6 189.8M391.9 191.1 L388.4 189.5L384.9 187.2M394.7 190.8 L391.2 189.2M341.6 177 L338 175.7M397.5 190.4 L394 188.8M344.4 176.7 L340.8 175.4L337.3 174M400.3 189.9 L396.7 188.5M347.2 176.3 L343.6 175L340.1 173.5M333 172.8 L329.4 171.8L325.9 170.9L322.4 170L318.8 169.1L315.3 168.2L311.7 167.3L308.2 166.4L304.7 165.5L301.1 164.6L297.6 163.7L294 162.8L290.5 161.8L286.9 160.9M403.1 189.4 L399.5 188M349.9 175.9 L346.4 174.6L342.9 173M339.3 172.5 L335.8 172.1M293.3 161.2 L289.7 160.4L286.2 159.5L282.6 158.7M412.9 191.3 L409.4 189.9M405.9 188.9 L402.3 187.6M352.7 175.4 L349.2 174.1L345.6 172.3M292.5 159.5 L289 158.9L285.4 158.2M415.7 191.1 L412.2 189.4L408.6 188.3L405.1 187.1M355.5 174.9 L352 173.6M418.5 190.8 L415 188.9L411.4 187.7L407.9 186.6L404.3 184.8M358.3 174.4 L354.8 173M421.3 190.5 L417.8 188.5L414.2 187.1L410.7 186M361.1 173.8 L357.5 172.4M424.1 190.3 L420.5 188L417 186.5M363.9 173.2 L360.3 171.7M423.3 187.6 L419.8 185.9M366.7 172.6 L363.1 171.1M426.1 187.1 L422.6 185.3M428.9 186.7 L425.4 184.7M304.7 150.6 L301.1 149.4M307.5 150.2 L303.9 148.9M430.7 178.9 L427.1 176.9M310.2 149.7 L306.7 148.5M433.5 178.6 L429.9 176.4M313 149.3 L309.5 148.1M315.8 148.9 L312.3 147.6M317.6 148.1 L315.1 147.2M466.6 185.4 L463.1 183.9M459.5 181.8 L456 179.8M445.4 178.2 L441.8 177.2M319.2 147.3 L317.8 146.8M469.4 184.8 L465.9 183.2M462.3 181.3 L458.8 179.5M448.1 177.6 L444.6 176.6M321 146.5 L320.6 146.4M472.2 184.3 L468.6 182.6M475 183.8 L471.4 182L467.9 180.2M477.8 183.3 L474.2 181.4L470.7 179.7M480.5 182.8 L477 180.8L473.5 179.2M483.3 182.3 L479.8 180.3L476.2 178.7M486.1 181.9 L482.6 179.8L479 178.2M485.3 179.3 L481.8 177.7M474.7 176.5 L471.2 175M488.1 178.9 L484.6 177.3M477.5 176.2 L474 174.5M494.5 180.6 L490.9 178.5L487.4 176.8M480.3 175.8 L476.7 174M497.2 180.2 L493.7 178.1L490.2 176.4M483.1 175.3 L479.5 173.4M500 179.8 L496.5 177.8L492.9 176M502.8 179.4 L499.3 177.5L495.7 175.6M505.6 179.1 L502.1 177.2L498.5 175.3M508.4 178.7 L504.8 176.9L501.3 174.9M511.2 178.2 L507.6 176.7L504.1 174.6M514 177.8 L510.4 176.4L506.9 174.3M516.7 177.4 L513.2 176.2L509.7 174.1M516 175.9 L512.4 173.8L508.9 171.9M518.8 175.7 L515.2 173.5L511.7 171.5M521.5 175.4 L518 173.3L514.5 171"/>
<path class="f1" stroke="#353dad" d="M232.5 212.9 L228.9 211.2L225.4 209.2L221.8 207M231.7 210.9 L228.2 208.9L224.6 206.8M234.5 210.6 L230.9 208.8L227.4 206.8M237.3 210.5 L233.7 208.8M286.4 196.1 L282.8 195.2L279.3 194.4M292.7 196.5 L289.2 195.3L285.6 194.4L282.1 193.7M306.1 199 L302.6 198.1M299 197 L295.5 195.7L292 194.5L288.4 193.6L284.9 193M312.4 199.3 L308.9 198.3L305.4 197.3L301.8 196.3L298.3 194.9L294.7 193.6L291.2 192.7M318.8 200 L315.2 198.7L311.7 197.5L308.2 196.5L304.6 195.4M301.1 194.1 L297.5 192.8L294 191.9M321.6 199.4 L318 198L314.5 196.7L310.9 195.7L307.4 194.6M303.9 193.2 L300.3 191.9M327.9 199.8 L324.3 198.7L320.8 197.4L317.3 195.9L313.7 194.8L310.2 193.7M330.7 199.1 L327.1 198.1L323.6 196.7L320 195.2L316.5 193.8M337 200 L333.5 198.4L329.9 197.5L326.4 196.1L322.8 194.4M283.9 186.3 L280.3 185.4L276.8 184.4M339.8 199.3 L336.2 197.7L332.7 196.8L329.2 195.4M290.2 186.9 L286.7 185.7L283.1 184.8L279.6 183.9M342.6 198.6 L339 197L335.5 196.2L331.9 194.8M293 186.4 L289.4 185L285.9 184.2M345.4 198 L341.8 196.3M338.3 195.5 L334.7 194.2M295.8 185.9 L292.2 184.4M348.1 197.4 L344.6 195.6M341.1 194.9 L337.5 193.7M298.5 185.4 L295 183.7M350.9 196.9 L347.4 195M343.8 194.3 L340.3 193.2M301.3 184.9 L297.8 183.2M353.7 196.4 L350.2 194.5M304.1 184.5 L300.6 182.6M356.5 196.1 L353 194.1M306.9 184 L303.4 182.2M359.3 195.7 L355.7 193.8M309.7 183.6 L306.1 181.8M362.1 195.5 L358.5 193.5M312.5 183.2 L308.9 181.4M364.8 195.2 L361.3 193.2M315.3 182.7 L311.7 181M367.6 195 L364.1 193M321.6 183.6 L318 182.3L314.5 180.7M370.4 194.8 L366.9 192.9M324.4 182.9 L320.8 181.8L317.3 180.4M373.2 194.5 L369.7 192.7M366.1 191.3 L362.6 189.9M327.2 182.3 L323.6 181.4L320.1 180.1M368.9 191.1 L365.4 189.5M337 183.7 L333.5 182.5M375.2 192.5 L371.7 190.9L368.1 189.1L364.6 187.2M339.8 183.2 L336.3 181.9L332.7 181M378 192.3 L374.5 190.7L370.9 188.8L367.4 186.8M342.6 182.7 L339 181.3L335.5 180.4M377.3 190.5 L373.7 188.5L370.2 186.4M345.4 182.1 L341.8 180.8L338.3 179.8M380 190.3 L376.5 188.1L373 186.1M348.2 181.5 L344.6 180.2L341.1 179.2M382.8 190 L379.3 187.8L375.7 185.7M350.9 180.9 L347.4 179.6L343.9 178.6M385.6 189.8 L382.1 187.5L378.5 185.4M353.7 180.2 L350.2 179L346.6 178M384.9 187.2 L381.3 185.1M356.5 179.4 L353 178.4M387.6 186.8 L384.1 184.7M390.4 186.5 L386.9 184.4M393.2 186.2 L389.7 184.1M396 185.8 L392.4 183.8M398.8 185.5 L395.2 183.5M345.6 172.3 L342.1 171.5M401.6 185.1 L398 183.2M295.3 158.3 L291.8 158M404.3 184.8 L400.8 182.9M410.7 186 L407.1 184.4L403.6 182.7M393 179.8 L389.4 177.5M417 186.5 L413.5 185.5L409.9 184L406.4 182.4M395.7 179.6 L392.2 177.3M419.8 185.9 L416.2 184.9L412.7 183.7L409.2 182.2M398.5 179.3 L395 177.1M422.6 185.3 L419 184.3L415.5 183.3L411.9 182M401.3 179 L397.8 176.8M369.4 172 L365.9 170.5M425.4 184.7 L421.8 183.7M372.2 171.3 L368.7 169.9M428.1 184.1 L424.6 183.1M375 170.7 L371.5 169.3M413.2 179 L409.7 177.7M377.8 170 L374.2 168.7M416 178.6 L412.5 177.1M380.6 169.4 L377 168.1M422.3 179.7 L418.8 178.2L415.2 176.6M383.4 168.9 L379.8 167.5M425.1 179.5 L421.6 177.8L418 175.9M389.7 169.6 L386.1 168.3L382.6 166.9L379.1 165.1M427.9 179.2 L424.4 177.4M392.5 169.2 L388.9 167.8L385.4 166.4L381.8 164.6M395.3 168.8 L391.7 167.3L388.2 165.9M398 168.5 L394.5 166.9L391 165.4M400.8 168.1 L397.3 166.5L393.7 164.9M403.6 167.8 L400.1 166.1L396.5 164.5M406.4 167.4 L402.9 165.8L399.3 164.1M409.2 167 L405.6 165.5L402.1 163.7M465.1 180.8 L461.6 179.2M450.9 177.1 L447.4 176M412 166.6 L408.4 165.2L404.9 163.4M467.9 180.2 L464.3 178.9M453.7 176.5 L450.2 175.2M414.7 166.1 L411.2 164.9L407.7 163.1L404.1 161.3M470.7 179.7 L467.1 178.6M456.5 175.8 L453 174.5M417.5 165.7 L414 164.6L410.4 162.8L406.9 161M462.8 176.3 L459.3 175.1L455.7 173.6M416.8 164.3 L413.2 162.6L409.7 160.6M465.6 175.9 L462.1 174.4M419.6 164 L416 162.4L412.5 160.2M471.9 176.9 L468.4 175.4L464.9 173.7M422.3 163.7 L418.8 162.2L415.3 159.9M425.1 163.3 L421.6 162L418 159.6M440.5 165.9 L438.5 165.1L435 163.7M424.4 161.8 L420.8 159.2M442.9 165.4 L441.3 164.7L437.8 163.3M446 165.2 L444.1 164.3L440.6 162.8M449.6 165.2 L446.9 164L443.4 162.4M452.7 165 L449.7 163.6L446.1 162M456 164.7 L452.5 163.2L448.9 161.6M458.8 164.2 L455.2 162.8L451.7 161.3M461.6 163.7 L458 162.4L454.5 161M506.9 174.3 L503.3 172.8L499.8 171.7M464.4 163.1 L460.8 162L457.3 160.7M509.7 174.1 L506.1 172.4L502.6 171.1M463.6 161.6 L460.1 160.5M508.9 171.9 L505.4 170.4M511.7 171.5 L508.1 169.8M514.5 171 L510.9 169.2M482.6 162.8 L479 161.5"/>
<path class="f1" stroke="#3243ba" d="M221.8 207 L218.3 205M224.6 206.8 L221.1 204.8M300.3 191.9 L296.8 191.1M306.6 192.4 L303.1 191.2L299.6 190.4M316.5 193.8 L313 192.7L309.4 191.6L305.9 190.4M322.8 194.4 L319.3 192.9L315.7 191.8L312.2 190.8L308.7 189.8M322.1 192 L318.5 190.9L315 190L311.4 189.2M324.9 191.1 L321.3 190L317.8 189.3M346.6 193.8 L343.1 192.7L339.5 190.7M345.9 192.3 L342.3 190.3M348.7 191.8 L345.1 189.9M351.4 191.4 L347.9 189.5M354.2 191 L350.7 189.1M357 190.6 L353.5 188.7M359.8 190.2 L356.2 188.3M362.6 189.9 L359 187.9M365.4 189.5 L361.8 187.5M370.2 186.4 L366.6 184.2M373 186.1 L369.4 183.9M375.7 185.7 L372.2 183.7L368.7 181.7M378.5 185.4 L375 183.5L371.4 181.6M381.3 185.1 L377.8 183.3L374.2 181.6M353 178.4 L349.4 177.5M384.1 184.7 L380.6 183.1L377 181.5M359.3 178.7 L355.8 177.8M386.9 184.4 L383.3 182.9M362.1 177.8 L358.5 177.1M389.7 184.1 L386.1 182.7M381.8 179.9 L378.3 178M384.6 179.9 L381.1 177.8M387.4 179.9 L383.8 177.7L380.3 175.6M390.2 179.9 L386.6 177.6L383.1 175.2M301.6 156.7 L298.1 157M388.2 165.9 L384.6 164.2M391 165.4 L387.4 163.8M393.7 164.9 L390.2 163.4M396.5 164.5 L393 162.9M399.3 164.1 L395.8 162.5M402.1 163.7 L398.6 162.1M404.9 163.4 L401.3 161.7"/>
<path class="f1" stroke="#2c4ac7" d="M218.3 205 L214.7 203.4M327.6 190.3 L324.1 189.1M330.4 189.5 L326.9 188.3M333.2 188.9 L329.7 187.5M336 188.3 L332.5 186.8M338.8 187.8 L335.2 186.2M341.6 187.4 L338 185.6M344.4 187 L340.8 185.1M347.1 186.5 L343.6 184.6M349.9 186.2 L346.4 184.1M352.7 185.8 L349.2 183.6M355.5 185.4 L351.9 183.2M358.3 185.1 L354.7 182.8M361.1 184.7 L357.5 182.5M363.8 184.5 L360.3 182.2M366.6 184.2 L363.1 182M369.4 183.9 L365.9 181.8M381.1 177.8 L377.5 176"/>
<path class="f1" stroke="#1389d3" d="M280.9 120.3 L277.3 103.2"/>
<path class="f1" stroke="#079ccf" d="M278.1 112.9 L274.6 93.8"/>
<path class="f1" stroke="#f5de21" d="M188 42.8 L187.5 43.1M190.8 42.7 L190.3 42.9M193.6 42.5 L193.1 42.8M196.3 42.3 L195.9 42.6M199.1 42.1 L198.5 42.5M201.9 41.8 L201.5 42.1"/>
<path class="f1" stroke="#f5e41d" d="M171.3 43.1 L170.8 43.4M174.1 43.1 L173.6 43.4M176.8 43.1 L176.4 43.4M179.6 43 L179.2 43.3M182.4 43 L182 43.3M185.2 42.9 L184.8 43.2"/>
<path class="f1" stroke="#f5eb18" d="M160.1 43.1 L159.7 43.4M162.9 43.1 L162.5 43.4M165.7 43.1 L165.3 43.4M168.5 43.1 L168 43.4"/>
<path class="f1" stroke="#f6f313" d="M143.4 43.2 L143 43.5M146.2 43.2 L145.8 43.5M149 43.1 L148.6 43.4M151.8 43.1 L151.3 43.4M154.6 43.1 L154.1 43.4M157.4 43.1 L156.9 43.4"/>
<path class="f1" stroke="#f9fb0e" d="M98.9 47.9 L98.3 48.3M101.7 47.5 L101.1 47.9M104.4 47.1 L103.9 47.5M107.2 46.7 L106.8 47M110 46.2 L109.6 46.6M112.8 45.8 L112.4 46.1M115.6 45.4 L115.2 45.7M118.4 45 L117.8 45.4M121.1 44.7 L120.7 45M123.9 44.4 L123.5 44.7M126.7 44.1 L126.3 44.4M129.5 43.9 L129.1 44.2M132.3 43.7 L131.9 44M135.1 43.5 L134.5 43.9M137.9 43.4 L137.4 43.7M140.6 43.3 L140.2 43.6"/>
<path class="f2" stroke="#363093" d="M326.6 205.2 L323.1 203.2M344.1 204.7 L340.5 202.5M346.9 204.3 L343.3 201.9M349.7 203.8 L346.1 201.4M352.4 203.3 L348.9 200.9M355.2 202.8 L351.7 200.4M358 202.2 L354.5 199.9M360.8 201.7 L357.3 199.4M363.6 201.1 L360 199M429.7 189.7 L426.1 187.1M432.4 189.4 L428.9 186.7M435.2 189 L431.7 186.3M438 188.7 L434.5 185.8M292.8 152 L289.2 149.5M440.8 188.3 L437.2 185.4M295.6 151.2 L292 147.8M443.6 187.8 L440 185M446.4 187.3 L442.8 184.5M449.1 186.8 L445.6 184.1M451.9 186.3 L448.4 183.7"/>
<path class="f2" stroke="#3637a0" d="M104.9 181.1 L101.4 175M107.7 180.6 L104.2 174.5M110.5 180.2 L107 174.1M113.3 179.8 L109.7 173.6M116.1 179.4 L112.5 173.1M118.9 179 L115.3 172.6M121.6 178.5 L118.1 172.1M124.4 178.1 L120.9 171.6M127.2 177.7 L123.7 171.2M130 177.3 L126.5 170.8M132.8 176.9 L129.2 170.4M135.6 176.4 L132 169.9M138.3 176 L134.8 169.5M141.1 175.6 L137.6 169.1M143.9 175.2 L140.4 168.7M146.7 174.8 L143.2 168.3M149.5 174.3 L145.9 167.9M152.3 173.9 L148.7 167.4M155.1 173.5 L151.5 167M157.8 173.1 L154.3 166.6M160.6 172.7 L157.1 166.2M163.4 172.3 L159.9 165.8M166.2 171.8 L162.7 165.4M169 171.4 L165.4 165M171.8 171 L168.2 164.6M174.5 170.6 L171 164.2M177.3 170.2 L173.8 163.8M180.1 169.7 L176.6 163.4M182.9 169.3 L179.4 163M185.7 168.9 L182.1 162.6M188.5 168.5 L184.9 162.2M329.4 204.7 L325.9 202.6M191.3 168.1 L187.7 161.8M332.2 204.1 L328.6 202M194 167.6 L190.5 161.4M335 203.6 L331.4 201.3M196.8 167.2 L193.3 161M337.8 203 L334.2 200.7M199.6 166.8 L196.1 160.6M340.5 202.5 L337 200M202.4 166.4 L198.9 160.2M343.3 201.9 L339.8 199.3M205.2 166 L201.6 159.8M346.1 201.4 L342.6 198.6M208 165.6 L204.4 159.4M348.9 200.9 L345.4 198M210.8 165.1 L207.2 159M351.7 200.4 L348.1 197.4M213.5 164.7 L210 158.6M354.5 199.9 L350.9 196.9M216.3 164.3 L212.8 158.2M357.3 199.4 L353.7 196.4M219.1 163.9 L215.6 157.8M360 199 L356.5 196.1M221.9 163.5 L218.3 157.4M366.4 200.5 L362.8 198.5L359.3 195.7M224.7 163 L221.1 157M369.1 199.9 L365.6 198.1L362.1 195.5M227.5 162.6 L223.9 156.6M368.4 197.7 L364.8 195.2M230.2 162.2 L226.7 156.2M371.2 197.2 L367.6 195M233 161.8 L229.5 155.8M235.8 161.4 L232.3 155.4M238.6 160.9 L235.1 155M241.4 160.5 L237.8 154.5M244.2 160.1 L240.6 154.1M247 159.7 L243.4 153.7M249.7 159.3 L246.2 153.3M252.5 158.9 L249 152.9M255.3 158.4 L251.8 152.4M258.1 158 L254.5 152M260.9 157.6 L257.3 151.6M391.2 189.2 L387.6 186.8M263.7 157.2 L260.1 151.2M394 188.8 L390.4 186.5M266.4 156.8 L262.9 150.8M396.7 188.5 L393.2 186.2M269.2 156.3 L265.7 150.3M399.5 188 L396 185.8M335.8 172.1 L332.2 171L328.7 170L325.1 169L321.6 168.1L318.1 167.1L314.5 166.2L311 165.4L307.4 164.5L303.9 163.7L300.4 162.9L296.8 162L293.3 161.2M272 155.9 L268.5 149.9M402.3 187.6 L398.8 185.5M274.8 155.5 L271.3 149.5M405.1 187.1 L401.6 185.1M352 173.6 L348.4 171.4M277.6 155.1 L274 149.1M354.8 173 L351.2 170.5M280.4 154.7 L276.8 148.7M283.2 154.2 L279.6 148.3M285.9 153.8 L282.4 147.9M426.9 190 L423.3 187.6M288.7 153.4 L285.2 147.6M291.5 153 L288 149.2M431.7 186.3 L428.1 184.1M434.5 185.8 L430.9 183.5M289.2 149.5 L287.3 146.7M437.2 185.4 L433.7 183M292 147.8 L288.5 141.4M440 185 L436.5 182.5M298.3 150.1 L294.8 145.7M442.8 184.5 L439.3 182M301.1 149.4 L297.6 144.5M445.6 184.1 L442.1 181.6M303.9 148.9 L300.4 144M448.4 183.7 L444.8 181.2M306.7 148.5 L303.2 143.5M454.7 185.7 L451.2 183.2L447.6 180.8M309.5 148.1 L305.9 143.1M457.5 185.1 L454 182.7L450.4 180.5M436.2 178.2 L432.7 175.9M312.3 147.6 L308.7 142.7M460.3 184.5 L456.7 182.3L453.2 180.1M439 177.7 L435.5 175.4M315.1 147.2 L311.5 142.3M463.1 183.9 L459.5 181.8M441.8 177.2 L438.3 174.8M317.8 146.8 L314.3 141.9M465.9 183.2 L462.3 181.3M320.6 146.4 L317.1 141.4M468.6 182.6 L465.1 180.8M323.2 145.7 L319.9 141M325.7 144.8 L322.7 140.6M328.2 144 L325.4 140.2M330.9 143.4 L328.2 139.8M333.5 142.9 L331 139.3M336.4 142.6 L333.8 138.9M488.9 181.5 L485.3 179.3M339.2 142.2 L336.6 138.5M491.7 181 L488.1 178.9M341.9 141.6 L339.4 138.1M344.7 141.2 L342.1 137.7M347.6 140.9 L344.9 137.3M350.2 140.4 L347.7 136.8M353 139.9 L350.5 136.4M438.3 160.4 L434.8 157.6M355.9 139.7 L353.3 136M441.1 160.1 L437.5 157.2M358.6 139.1 L356.1 135.6M443.9 159.7 L440.3 156.8M361.5 138.8 L358.9 135.2M446.6 159.3 L443.1 156.4M364.3 138.4 L361.6 134.7M449.4 158.8 L445.9 156M367.1 138 L364.4 134.3M452.2 158.3 L448.7 155.6M369.7 137.4 L367.2 133.9M372.6 137.2 L370 133.5M375.4 136.7 L372.8 133.1"/>
<path class="f2" stroke="#353dad" d="M304.6 195.4 L301.1 194.1M307.4 194.6 L303.9 193.2M310.2 193.7 L306.6 192.4M329.2 195.4 L325.6 193.6M331.9 194.8 L328.4 192.9M334.7 194.2 L331.2 192.3M342.1 171.5 L338.6 170.7L335 169.3L331.5 167.9L327.9 166.6L324.4 165.4M313.8 162.8 L310.2 162.1L306.7 161.6L303.1 161L299.6 160.5L296.1 160L292.5 159.5M348.4 171.4 L344.9 170.1L341.3 168.8L337.8 166.8M298.8 158.4 L295.3 158.3M351.2 170.5 L347.7 168.6M357.5 172.4 L354 169.6M360.3 171.7 L356.8 168.8M363.1 171.1 L359.6 168.1M365.9 170.5 L362.4 167.6M404.1 178.6 L400.6 176.5M368.7 169.9 L365.1 167.2M406.9 178.2 L403.3 176.1M371.5 169.3 L367.9 166.8M409.7 177.7 L406.1 175.6M374.2 168.7 L370.7 166.3M412.5 177.1 L408.9 175.1M377 168.1 L373.5 165.9M415.2 176.6 L411.7 174.5M379.8 167.5 L376.3 165.5M294.8 145.7 L291.3 138M418 175.9 L414.5 173.9M424.4 177.4 L420.8 175.3M427.1 176.9 L423.6 174.6M429.9 176.4 L426.4 173.9M432.7 175.9 L429.2 173.2M435.5 175.4 L431.9 172.5M438.3 174.8 L434.7 171.7M444.6 176.6 L441.1 174.1L437.5 171M447.4 176 L443.8 173.5L440.3 170.3M450.2 175.2 L446.6 172.7M453 174.5 L449.4 172M455.7 173.6 L452.2 171.2M462.1 174.4 L458.5 172.7L455 170.4M464.9 173.7 L461.3 171.8M471.2 175 L467.6 172.9L464.1 170.9M474 174.5 L470.4 172.2M476.7 174 L473.2 171.4M427.2 161.6 L423.6 158.9M479.5 173.4 L476 170.6M429.9 161.3 L426.4 158.6M485.9 174.8 L482.3 172.8L478.8 169.9M432.7 161.1 L429.2 158.3M488.6 174.2 L485.1 172.2L481.6 169.2M435.5 160.8 L432 157.9L428.4 154M491.4 173.7 L487.9 171.6L484.3 168.5M434.8 157.6 L431.2 153.6M494.2 173 L490.7 171L487.1 167.9M437.5 157.2 L434 153.2M497 172.4 L493.5 170.3L489.9 167.2M440.3 156.8 L436.8 152.8M499.8 171.7 L496.2 169.7M443.1 156.4 L439.6 152.3M502.6 171.1 L499 169M445.9 156 L442.3 151.9M505.4 170.4 L501.8 168.4M448.7 155.6 L445.1 151.5M508.1 169.8 L504.6 167.7M455 157.8 L451.5 155.1L447.9 151.1M510.9 169.2 L507.4 167.1M457.8 157.2 L454.2 154.6L450.7 150.6"/>
<path class="f2" stroke="#3243ba" d="M325.6 193.6 L322.1 192M328.4 192.9 L324.9 191.1M331.2 192.3 L327.6 190.3M337.5 193.7 L334 191.7L330.4 189.5M340.3 193.2 L336.8 191.1L333.2 188.9M339.5 190.7 L336 188.3M342.3 190.3 L338.8 187.8M345.1 189.9 L341.6 187.4M347.9 189.5 L344.4 187M350.7 189.1 L347.1 186.5M353.5 188.7 L349.9 186.2M356.2 188.3 L352.7 185.8M359 187.9 L355.5 185.4M361.8 187.5 L358.3 185.1M364.6 187.2 L361.1 184.7M367.4 186.8 L363.8 184.5M324.4 165.4 L320.8 164.4L317.3 163.5L313.8 162.8M337.8 166.8 L334.3 164.9L330.7 163.1M309.5 158.6 L305.9 158.5L302.4 158.5L298.8 158.4M347.7 168.6 L344.1 166.7L340.6 164.1M389.4 177.5 L385.9 174.8M354 169.6 L350.5 167.1L346.9 164.5M392.2 177.3 L388.7 174.5M356.8 168.8 L353.2 165.8M395 177.1 L391.4 174.2M359.6 168.1 L356 164.8M397.8 176.8 L394.2 173.8M362.4 167.6 L358.8 164.2M288 149.2 L284.4 136.9M400.6 176.5 L397 173.5M365.1 167.2 L361.6 163.8M403.3 176.1 L399.8 173.2M367.9 166.8 L364.4 163.5M406.1 175.6 L402.6 172.8M370.7 166.3 L367.2 163.1M408.9 175.1 L405.4 172.4M373.5 165.9 L369.9 162.7M411.7 174.5 L408.2 171.9M376.3 165.5 L372.7 162.3M414.5 173.9 L410.9 171.5M379.1 165.1 L375.5 162M297.6 144.5 L294 136.4M420.8 175.3 L417.3 173.2L413.7 171M381.8 164.6 L378.3 161.6M300.4 144 L296.8 135.7M423.6 174.6 L420.1 172.5L416.5 170.4M384.6 164.2 L381.1 161.2M303.2 143.5 L299.6 135.3M426.4 173.9 L422.8 171.7L419.3 169.9M387.4 163.8 L383.9 160.8M305.9 143.1 L302.4 134.9M429.2 173.2 L425.6 170.9M390.2 163.4 L386.7 160.4M308.7 142.7 L305.2 134.4M431.9 172.5 L428.4 170.1M393 162.9 L389.4 160M311.5 142.3 L308 134M434.7 171.7 L431.2 169.4M395.8 162.5 L392.2 159.6M314.3 141.9 L310.8 133.6M437.5 171 L434 168.6M398.6 162.1 L395 159.2M317.1 141.4 L313.5 133.2M401.3 161.7 L397.8 158.8M319.9 141 L316.3 132.8M446.6 172.7 L443.1 169.6M404.1 161.3 L400.6 158.4M322.7 140.6 L319.1 132.3M449.4 172 L445.9 168.9M406.9 161 L403.4 158M325.4 140.2 L321.9 131.9M452.2 171.2 L448.7 168.2M409.7 160.6 L406.1 157.5M328.2 139.8 L324.7 131.5M455 170.4 L451.4 167.6M412.5 160.2 L408.9 157.1M331 139.3 L327.5 131.1M461.3 171.8 L457.8 169.5L454.2 167M415.3 159.9 L411.7 156.7M333.8 138.9 L330.2 130.7M464.1 170.9 L460.6 168.7M418 159.6 L414.5 156.2M336.6 138.5 L333 130.2M470.4 172.2 L466.9 169.9L463.3 167.9M420.8 159.2 L417.3 155.8M339.4 138.1 L335.8 129.8M473.2 171.4 L469.7 169L466.1 167.1M423.6 158.9 L420.1 155.4M342.1 137.7 L338.6 129.4M476 170.6 L472.4 168.1M426.4 158.6 L422.9 154.9M344.9 137.3 L341.4 129M478.8 169.9 L475.2 167.2M429.2 158.3 L425.6 154.5M347.7 136.8 L344.2 128.6M481.6 169.2 L478 166.5M350.5 136.4 L347 128.1M484.3 168.5 L480.8 165.7M353.3 136 L349.7 127.7M487.1 167.9 L483.6 165.1M356.1 135.6 L352.5 127.3M358.9 135.2 L355.3 126.9M496.2 169.7 L492.7 166.7M361.6 134.7 L358.1 126.5M499 169 L495.5 166.1M364.4 134.3 L360.9 126.1M501.8 168.4 L498.3 165.6M367.2 133.9 L363.7 125.6M504.6 167.7 L501.1 165.2M370 133.5 L366.4 125.2M507.4 167.1 L503.8 164.7M372.8 133.1 L369.2 124.8"/>
<path class="f2" stroke="#2c4ac7" d="M101.4 175 L97.8 159M104.2 174.5 L100.6 158.5M107 174.1 L103.4 157.9M109.7 173.6 L106.2 157.3M112.5 173.1 L109 156.6M115.3 172.6 L111.8 155.9M118.1 172.1 L114.6 155.2M120.9 171.6 L117.3 154.7M123.7 171.2 L120.1 154.2M126.5 170.8 L122.9 153.8M129.2 170.4 L125.7 153.3M132 169.9 L128.5 152.9M134.8 169.5 L131.3 152.5M137.6 169.1 L134 152.1M140.4 168.7 L136.8 151.7M143.2 168.3 L139.6 151.3M145.9 167.9 L142.4 150.9M148.7 167.4 L145.2 150.5M151.5 167 L148 150.1M154.3 166.6 L150.8 149.7M157.1 166.2 L153.5 149.3M159.9 165.8 L156.3 148.9M162.7 165.4 L159.1 148.6M165.4 165 L161.9 148.2M168.2 164.6 L164.7 147.9M171 164.2 L167.5 147.5M173.8 163.8 L170.2 147.2M176.6 163.4 L173 146.8M179.4 163 L175.8 146.5M182.1 162.6 L178.6 146.1M184.9 162.2 L181.4 145.8M187.7 161.8 L184.2 145.5M190.5 161.4 L187 145.1M193.3 161 L189.7 144.8M196.1 160.6 L192.5 144.5M198.9 160.2 L195.3 144.1M201.6 159.8 L198.1 143.8M204.4 159.4 L200.9 143.4M207.2 159 L203.7 143.1M210 158.6 L206.5 142.7M212.8 158.2 L209.2 142.4M215.6 157.8 L212 142M218.3 157.4 L214.8 141.6M221.1 157 L217.6 141.3M223.9 156.6 L220.4 140.9M226.7 156.2 L223.2 140.5M229.5 155.8 L225.9 140.1M232.3 155.4 L228.7 139.7M235.1 155 L231.5 139.3M237.8 154.5 L234.3 138.8M240.6 154.1 L237.1 138.4M243.4 153.7 L239.9 138M246.2 153.3 L242.7 137.6M249 152.9 L245.4 137.2M251.8 152.4 L248.2 136.8M254.5 152 L251 136.3M257.3 151.6 L253.8 135.9M260.1 151.2 L256.6 135.5M262.9 150.8 L259.4 135.1M265.7 150.3 L262.1 134.7M268.5 149.9 L264.9 134.2M271.3 149.5 L267.7 133.8M274 149.1 L270.5 133.4M305.2 156.2 L301.6 156.7M276.8 148.7 L273.3 133M279.6 148.3 L276.1 132.6M353.2 165.8 L349.7 162.6M282.4 147.9 L278.9 132.2M285.2 147.6 L281.6 132.1M399.8 173.2 L396.3 170.6M402.6 172.8 L399 170.3M405.4 172.4 L401.8 169.9M288.5 141.4 L284.9 131.5M408.2 171.9 L404.6 169.6M425.6 170.9 L422.1 169.3M440.3 170.3 L436.8 167.9M443.1 169.6 L439.5 167.2M460.6 168.7 L457 166.5M472.4 168.1 L468.9 166.4M489.9 167.2 L486.4 164.5M492.7 166.7 L489.2 164M495.5 166.1 L491.9 163.6M498.3 165.6 L494.7 163.2M501.1 165.2 L497.5 162.8M503.8 164.7 L500.3 162.5"/>
<path class="f2" stroke="#0f5cdd" d="M291.3 138 L287.7 126.9M294 136.4 L290.5 124.7M296.8 135.7 L293.3 124M299.6 135.3 L296.1 123.6M302.4 134.9 L298.9 123.1M305.2 134.4 L301.6 122.7M308 134 L304.4 122.3M310.8 133.6 L307.2 121.9M313.5 133.2 L310 121.5M316.3 132.8 L312.8 121M319.1 132.3 L315.6 120.6M321.9 131.9 L318.4 120.2M324.7 131.5 L321.1 119.8M327.5 131.1 L323.9 119.4M330.2 130.7 L326.7 118.9M333 130.2 L329.5 118.5M335.8 129.8 L332.3 118.1M338.6 129.4 L335.1 117.7M341.4 129 L337.8 117.3M344.2 128.6 L340.6 116.9M347 128.1 L343.4 116.4M349.7 127.7 L346.2 116M352.5 127.3 L349 115.6M355.3 126.9 L351.8 115.2M358.1 126.5 L354.6 114.8M360.9 126.1 L357.3 114.3M363.7 125.6 L360.1 113.9M366.4 125.2 L362.9 113.5M369.2 124.8 L365.7 113.1"/>
<path class="f2" stroke="#0363e1" d="M44.7 154.6 L41.2 163.6M47.5 154.2 L44 163.1M50.3 153.7 L46.7 162.7M53.1 153.1 L49.5 162.2M55.9 152.5 L52.3 161.8M58.6 152 L55.1 161.3M61.4 151.4 L57.9 160.9M64.2 150.9 L60.7 160.4M67 150.4 L63.5 160M69.8 150 L66.2 159.6M72.6 149.6 L69 159.2M75.3 149.2 L71.8 158.7M78.1 148.8 L74.6 158.3M80.9 148.3 L77.4 157.9M83.7 147.9 L80.2 157.5M86.5 147.5 L82.9 157.1M89.3 147.1 L85.7 156.7M92.1 146.7 L88.5 156.2M94.8 146.3 L91.3 155.8M96.2 149.8 L94.1 155.4M97 154.7 L96.9 155"/>
<path class="f2" stroke="#046de0" d="M284.9 131.5 L281.4 118.4"/>
<path class="f2" stroke="#0d75dc" d="M97.8 159 L94.3 139.5M100.6 158.5 L97.1 139M103.4 157.9 L99.9 138.3M106.2 157.3 L102.7 137.4M187 145.1 L183.4 125.3M189.7 144.8 L186.2 125M192.5 144.5 L189 124.8M195.3 144.1 L191.8 124.5M198.1 143.8 L194.6 124.2M200.9 143.4 L197.3 123.9M203.7 143.1 L200.1 123.6M206.5 142.7 L202.9 123.3M209.2 142.4 L205.7 123M212 142 L208.5 122.7M214.8 141.6 L211.3 122.4M217.6 141.3 L214 122M220.4 140.9 L216.8 121.7M223.2 140.5 L219.6 121.3M225.9 140.1 L222.4 121M228.7 139.7 L225.2 120.6M231.5 139.3 L228 120.1M234.3 138.8 L230.8 119.7M237.1 138.4 L233.5 119.3M239.9 138 L236.3 118.9M242.7 137.6 L239.1 118.5M245.4 137.2 L241.9 118.1M248.2 136.8 L244.7 117.6M251 136.3 L247.5 117.2M253.8 135.9 L250.2 116.8M256.6 135.5 L253 116.4M259.4 135.1 L255.8 116M262.1 134.7 L258.6 115.5M264.9 134.2 L261.4 115.1M267.7 133.8 L264.2 114.7M270.5 133.4 L267 114.3M273.3 133 L269.7 113.9M276.1 132.6 L272.5 113.4M278.9 132.2 L275.3 113M281.6 132.1 L278.1 112.9M287.7 126.9 L284.2 112.6"/>
<path class="f2" stroke="#1079da" d="M109 156.6 L105.4 136.5M111.8 155.9 L108.2 135.6M114.6 155.2 L111 134.8M117.3 154.7 L113.8 134.1M120.1 154.2 L116.6 133.5M122.9 153.8 L119.4 133.1M125.7 153.3 L122.2 132.7M128.5 152.9 L124.9 132.3M131.3 152.5 L127.7 131.9M134 152.1 L130.5 131.4M136.8 151.7 L133.3 131M139.6 151.3 L136.1 130.6M142.4 150.9 L138.9 130.2M145.2 150.5 L141.6 129.8M148 150.1 L144.4 129.5M150.8 149.7 L147.2 129.1M153.5 149.3 L150 128.8M156.3 148.9 L152.8 128.5M159.1 148.6 L155.6 128.1M161.9 148.2 L158.4 127.8M164.7 147.9 L161.1 127.5M167.5 147.5 L163.9 127.2M170.2 147.2 L166.7 127M173 146.8 L169.5 126.7M175.8 146.5 L172.3 126.4M178.6 146.1 L175.1 126.1M181.4 145.8 L177.8 125.9M184.2 145.5 L180.6 125.6M290.5 124.7 L287 110.2M293.3 124 L289.7 109.4M296.1 123.6 L292.5 108.9M298.9 123.1 L295.3 108.5M301.6 122.7 L298.1 108.1M304.4 122.3 L300.9 107.6M307.2 121.9 L303.7 107.2M310 121.5 L306.5 106.8M312.8 121 L309.2 106.4M315.6 120.6 L312 106M318.4 120.2 L314.8 105.5M321.1 119.8 L317.6 105.1M323.9 119.4 L320.4 104.7M326.7 118.9 L323.2 104.3M329.5 118.5 L325.9 103.9M332.3 118.1 L328.7 103.4M335.1 117.7 L331.5 103M337.8 117.3 L334.3 102.6M340.6 116.9 L337.1 102.2M343.4 116.4 L339.9 101.8M346.2 116 L342.7 101.4M349 115.6 L345.4 100.9M351.8 115.2 L348.2 100.5M354.6 114.8 L351 100.1M357.3 114.3 L353.8 99.7M360.1 113.9 L356.6 99.3M362.9 113.5 L359.4 98.8M365.7 113.1 L362.1 98.4"/>
<path class="f2" stroke="#127dd8" d="M48.3 142.6 L44.7 154.6M51 142.1 L47.5 154.2M53.8 141.5 L50.3 153.7M56.6 140.8 L53.1 153.1"/>
<path class="f2" stroke="#1481d6" d="M59.4 140 L55.9 152.5M62.2 139.3 L58.6 152M65 138.6 L61.4 151.4M67.7 138 L64.2 150.9M70.5 137.5 L67 150.4M73.3 137.1 L69.8 150M76.1 136.7 L72.6 149.6M78.9 136.3 L75.3 149.2M81.7 135.9 L78.1 148.8M84.5 135.4 L80.9 148.3M87.2 135 L83.7 147.9M90 134.6 L86.5 147.5M92.8 134.2 L89.3 147.1M94.2 138.9 L92.1 146.7M95.2 144.8 L94.8 146.3"/>
<path class="f2" stroke="#1485d4" d="M281.4 118.4 L277.9 102.7"/>
<path class="f2" stroke="#0c93d2" d="M284.2 112.6 L280.6 96.4"/>
<path class="f2" stroke="#0998d1" d="M287 110.2 L283.4 93.7M289.7 109.4 L286.2 92.9M292.5 108.9 L289 92.4M295.3 108.5 L291.8 92M298.1 108.1 L294.6 91.6M300.9 107.6 L297.3 91.2M303.7 107.2 L300.1 90.7M306.5 106.8 L302.9 90.3M309.2 106.4 L305.7 89.9M312 106 L308.5 89.5M314.8 105.5 L311.3 89.1M317.6 105.1 L314.1 88.7M320.4 104.7 L316.8 88.2M323.2 104.3 L319.6 87.8M325.9 103.9 L322.4 87.4M328.7 103.4 L325.2 87M331.5 103 L328 86.6M334.3 102.6 L330.8 86.1M337.1 102.2 L333.5 85.7M339.9 101.8 L336.3 85.3M342.7 101.4 L339.1 84.9M345.4 100.9 L341.9 84.5M348.2 100.5 L344.7 84M351 100.1 L347.5 83.6M353.8 99.7 L350.3 83.2M356.6 99.3 L353 82.8M359.4 98.8 L355.8 82.4M362.1 98.4 L358.6 81.9"/>
<path class="f2" stroke="#079ccf" d="M51.8 130.5 L48.3 142.6M54.6 129.9 L51 142.1M57.4 129.2 L53.8 141.5M60.2 128.4 L56.6 140.8M62.9 127.5 L59.4 140M65.7 126.7 L62.2 139.3M202.9 123.3 L199.4 104M205.7 123 L202.2 103.7M208.5 122.7 L204.9 103.4M211.3 122.4 L207.7 103.1M214 122 L210.5 102.8M216.8 121.7 L213.3 102.5M219.6 121.3 L216.1 102.2M222.4 121 L218.9 101.8M225.2 120.6 L221.6 101.4M228 120.1 L224.4 101M230.8 119.7 L227.2 100.6M233.5 119.3 L230 100.2M236.3 118.9 L232.8 99.8M239.1 118.5 L235.6 99.4M241.9 118.1 L238.4 98.9M244.7 117.6 L241.1 98.5M247.5 117.2 L243.9 98.1M250.2 116.8 L246.7 97.7M253 116.4 L249.5 97.3M255.8 116 L252.3 96.8M258.6 115.5 L255.1 96.4M261.4 115.1 L257.8 96M264.2 114.7 L260.6 95.6M267 114.3 L263.4 95.2M269.7 113.9 L266.2 94.7M272.5 113.4 L269 94.3M275.3 113 L271.8 93.9"/>
<path class="f2" stroke="#06a0cd" d="M94.3 139.5 L90.8 120.1M97.1 139 L93.5 119.5M99.9 138.3 L96.3 118.6M102.7 137.4 L99.1 117.6M105.4 136.5 L101.9 116.5M108.2 135.6 L104.7 115.4M68.5 125.8 L65 138.6M71.3 125.1 L67.7 138M74.1 124.6 L70.5 137.5M76.9 124.2 L73.3 137.1M79.6 123.8 L76.1 136.7M82.4 123.4 L78.9 136.3M85.2 122.9 L81.7 135.9M88 122.5 L84.5 135.4M90.8 122.1 L87.2 135M92 127.6 L90 134.6M93 133.4 L92.8 134.2M163.9 127.2 L160.4 107M166.7 127 L163.2 106.8M169.5 126.7 L166 106.5M172.3 126.4 L168.7 106.3M175.1 126.1 L171.5 106.1M177.8 125.9 L174.3 105.9M180.6 125.6 L177.1 105.7M183.4 125.3 L179.9 105.5M186.2 125 L182.7 105.3M189 124.8 L185.4 105.1M191.8 124.5 L188.2 104.9M194.6 124.2 L191 104.7M197.3 123.9 L193.8 104.4M200.1 123.6 L196.6 104.2"/>
<path class="f2" stroke="#06a4ca" d="M111 134.8 L107.5 114.3M113.8 134.1 L110.3 113.5M116.6 133.5 L113 112.9M119.4 133.1 L115.8 112.5M122.2 132.7 L118.6 112.1M124.9 132.3 L121.4 111.6M127.7 131.9 L124.2 111.2M130.5 131.4 L127 110.8M133.3 131 L129.7 110.4M136.1 130.6 L132.5 110M138.9 130.2 L135.3 109.6M141.6 129.8 L138.1 109.2M144.4 129.5 L140.9 108.9M147.2 129.1 L143.7 108.6M150 128.8 L146.5 108.3M152.8 128.5 L149.2 108M155.6 128.1 L152 107.7M158.4 127.8 L154.8 107.5M161.1 127.5 L157.6 107.2M277.9 102.7 L274.3 86"/>
<path class="f2" stroke="#07a9c2" d="M277.3 103.2 L273.8 85.4"/>
<path class="f2" stroke="#0aacbe" d="M280.6 96.4 L277.1 79.7"/>
<path class="f2" stroke="#0faeb9" d="M55.3 118.4 L51.8 130.5M58.1 117.8 L54.6 129.9M60.9 117 L57.4 129.2M283.4 93.7 L279.9 77.1"/>
<path class="f2" stroke="#15b1b4" d="M63.7 116.1 L60.2 128.4M66.5 115 L62.9 127.5M69.3 114 L65.7 126.7M286.2 92.9 L282.7 76.3M289 92.4 L285.4 75.9M291.8 92 L288.2 75.4M294.6 91.6 L291 75M297.3 91.2 L293.8 74.6M300.1 90.7 L296.6 74.2M302.9 90.3 L299.4 73.8M305.7 89.9 L302.2 73.3M308.5 89.5 L304.9 72.9M311.3 89.1 L307.7 72.5M314.1 88.7 L310.5 72.1M316.8 88.2 L313.3 71.7M319.6 87.8 L316.1 71.2M322.4 87.4 L318.9 70.8M325.2 87 L321.6 70.4M328 86.6 L324.4 70M330.8 86.1 L327.2 69.6M333.5 85.7 L330 69.2M336.3 85.3 L332.8 68.7M339.1 84.9 L335.6 68.3M341.9 84.5 L338.4 67.9M344.7 84 L341.1 67.5M347.5 83.6 L343.9 67.1M350.3 83.2 L346.7 66.6M353 82.8 L349.5 66.2M355.8 82.4 L352.3 65.8M358.6 81.9 L355.1 65.4"/>
<path class="f2" stroke="#1db3af" d="M72 113.1 L68.5 125.8M74.8 112.3 L71.3 125.1M77.6 111.7 L74.1 124.6M80.4 111.3 L76.9 124.2M83.2 110.9 L79.6 123.8M86 110.5 L82.4 123.4M88.8 110 L85.2 122.9M89.9 115.7 L88 122.5M91 121.5 L90.8 122.1"/>
<path class="f2" stroke="#25b5a9" d="M210.5 102.8 L207 83.6M213.3 102.5 L209.7 83.3M216.1 102.2 L212.5 83M218.9 101.8 L215.3 82.7M221.6 101.4 L218.1 82.3M224.4 101 L220.9 81.9M227.2 100.6 L223.7 81.5M230 100.2 L226.5 81.1M232.8 99.8 L229.2 80.6M235.6 99.4 L232 80.2M238.4 98.9 L234.8 79.8M241.1 98.5 L237.6 79.4M243.9 98.1 L240.4 79M246.7 97.7 L243.2 78.6M249.5 97.3 L245.9 78.1M252.3 96.8 L248.7 77.7M255.1 96.4 L251.5 77.3M257.8 96 L254.3 76.9M260.6 95.6 L257.1 76.5M263.4 95.2 L259.9 76M266.2 94.7 L262.7 75.6M269 94.3 L265.4 75.2M271.8 93.9 L268.2 74.8"/>
<path class="f2" stroke="#2eb7a4" d="M90.8 120.1 L87.2 100.6M93.5 119.5 L90 100M96.3 118.6 L92.8 99M99.1 117.6 L95.6 97.8M179.9 105.5 L176.3 85.7M182.7 105.3 L179.1 85.6M185.4 105.1 L181.9 85.4M188.2 104.9 L184.7 85.3M191 104.7 L187.5 85.1M193.8 104.4 L190.3 84.9M196.6 104.2 L193 84.8M199.4 104 L195.8 84.6M202.2 103.7 L198.6 84.4M204.9 103.4 L201.4 84.1M207.7 103.1 L204.2 83.9M274.3 86 L272.5 77.8M272.4 77.3 L272.3 76.9M272.1 76.2 L272 75.7M271.8 74.9 L271.8 74.5M271.6 73.7 L271.5 73.4"/>
<path class="f2" stroke="#38b99e" d="M101.9 116.5 L98.4 96.4M104.7 115.4 L101.1 95.1M107.5 114.3 L103.9 93.9M149.2 108 L145.7 87.5M152 107.7 L148.5 87.3M154.8 107.5 L151.3 87.1M157.6 107.2 L154.1 86.9M160.4 107 L156.8 86.7M163.2 106.8 L159.6 86.6M166 106.5 L162.4 86.4M168.7 106.3 L165.2 86.2M171.5 106.1 L168 86.1M174.3 105.9 L170.8 86M177.1 105.7 L173.5 85.8"/>
<path class="f2" stroke="#42bb98" d="M110.3 113.5 L106.7 92.9M113 112.9 L109.5 92.3M115.8 112.5 L112.3 91.8M118.6 112.1 L115.1 91.4M121.4 111.6 L117.9 91M124.2 111.2 L120.6 90.6M127 110.8 L123.4 90.2M129.7 110.4 L126.2 89.7M132.5 110 L129 89.3M135.3 109.6 L131.8 89M138.1 109.2 L134.6 88.6M140.9 108.9 L137.3 88.3M143.7 108.6 L140.1 88M146.5 108.3 L142.9 87.8"/>
<path class="f2" stroke="#4dbc92" d="M58.9 106.3 L55.3 118.4M61.7 105.7 L58.1 117.8M64.5 104.8 L60.9 117M67.2 103.7 L63.7 116.1M273.8 85.4 L270.3 67.1M277.1 79.7 L273.6 64.6"/>
<path class="f2" stroke="#59bd8c" d="M70 102.6 L66.5 115M72.8 101.4 L69.3 114M75.6 100.3 L72 113.1M279.9 77.1 L276.3 62.5M282.7 76.3 L279.1 61.8M285.4 75.9 L281.9 61.3M288.2 75.4 L284.7 60.9M291 75 L287.5 60.5M293.8 74.6 L290.3 60M296.6 74.2 L293 59.6M299.4 73.8 L295.8 59.2M302.2 73.3 L298.6 58.8M304.9 72.9 L301.4 58.4M307.7 72.5 L304.2 58M310.5 72.1 L307 57.5M313.3 71.7 L309.8 57.1M316.1 71.2 L312.5 56.7M318.9 70.8 L315.3 56.3M321.6 70.4 L318.1 55.9M324.4 70 L320.9 55.4M327.2 69.6 L323.7 55M330 69.2 L326.5 54.6M332.8 68.7 L329.2 54.2M335.6 68.3 L332 53.8M338.4 67.9 L334.8 53.3M341.1 67.5 L337.6 52.9M343.9 67.1 L340.4 52.5M346.7 66.6 L343.2 52.1M349.5 66.2 L346 51.7M352.3 65.8 L348.7 51.2M355.1 65.4 L351.5 50.8"/>
<path class="f2" stroke="#65be86" d="M78.4 99.4 L74.8 112.3M81.2 98.8 L77.6 111.7M83.9 98.4 L80.4 111.3M86.7 98 L83.2 110.9M87.7 104.1 L86 110.5"/>
<path class="f2" stroke="#87bf77" d="M212.5 83 L209 63.9M215.3 82.7 L211.8 63.5M218.1 82.3 L214.6 63.2M220.9 81.9 L217.3 62.8M223.7 81.5 L220.1 62.4M226.5 81.1 L222.9 61.9M229.2 80.6 L225.7 61.5M232 80.2 L228.5 61.1M234.8 79.8 L231.3 60.7M237.6 79.4 L234.1 60.3M240.4 79 L236.8 59.9M243.2 78.6 L239.6 59.4M245.9 78.1 L242.4 59M248.7 77.7 L245.2 58.6M251.5 77.3 L248 58.2M254.3 76.9 L250.8 57.8M257.1 76.5 L253.5 57.3M259.9 76 L256.3 56.9M262.7 75.6 L259.1 56.5M265.4 75.2 L261.9 56.1M268.2 74.8 L264.7 55.7"/>
<path class="f2" stroke="#92bf73" d="M87.2 100.6 L83.7 81.1M62.4 94.2 L58.9 106.3M90 100 L86.5 80.5M65.2 93.6 L61.7 105.7M184.7 85.3 L181.1 65.6M187.5 85.1 L183.9 65.6M190.3 84.9 L186.7 65.4M193 84.8 L189.5 65.3M195.8 84.6 L192.3 65.2M198.6 84.4 L195.1 65M201.4 84.1 L197.9 64.9M204.2 83.9 L200.6 64.6M207 83.6 L203.4 64.4M209.7 83.3 L206.2 64.2"/>
<path class="f2" stroke="#9cbf6f" d="M92.8 99 L89.2 79.3M68 92.6 L64.5 104.8M95.6 97.8 L92 77.9M70.8 91.4 L67.2 103.7M98.4 96.4 L94.8 76.4M73.6 90.1 L70 102.6M165.2 86.2 L161.7 66.2M168 86.1 L164.4 66.1M170.8 86 L167.2 66M173.5 85.8 L170 65.9M176.3 85.7 L172.8 65.9M179.1 85.6 L175.6 65.8M181.9 85.4 L178.4 65.7M273.6 64.6 L270 53.4"/>
<path class="f2" stroke="#a5be6b" d="M101.1 95.1 L97.6 74.8M76.3 88.7 L72.8 101.4M103.9 93.9 L100.4 73.4M79.1 87.5 L75.6 100.3M140.1 88 L136.6 67.5M142.9 87.8 L139.4 67.2M145.7 87.5 L142.2 67M148.5 87.3 L144.9 66.9M151.3 87.1 L147.7 66.7M154.1 86.9 L150.5 66.6M156.8 86.7 L153.3 66.5M159.6 86.6 L156.1 66.3M162.4 86.4 L158.9 66.3M270.3 67.1 L269.3 62.5M269.2 62.2 L268.8 60M268.7 59.7 L268.3 57.7M268.2 57.4 L268 56.5M268 56.2 L267.8 55.2M267.7 54.9 L267 51.7M267 51.4 L266.7 50.2M276.3 62.5 L272.8 52M279.1 61.8 L275.6 51.4M281.9 61.3 L278.4 50.9M284.7 60.9 L281.1 50.5M287.5 60.5 L283.9 50.1M290.3 60 L286.7 49.7M293 59.6 L289.5 49.2M295.8 59.2 L292.3 48.8M298.6 58.8 L295.1 48.4M301.4 58.4 L297.9 48M304.2 58 L300.6 47.6M307 57.5 L303.4 47.2M309.8 57.1 L306.2 46.7M312.5 56.7 L309 46.3M315.3 56.3 L311.8 45.9M318.1 55.9 L314.6 45.5M320.9 55.4 L317.3 45.1M323.7 55 L320.1 44.6M326.5 54.6 L322.9 44.2M329.2 54.2 L325.7 43.8M332 53.8 L328.5 43.4M334.8 53.3 L331.3 43M337.6 52.9 L334.1 42.5M340.4 52.5 L336.8 42.1M343.2 52.1 L339.6 41.7M346 51.7 L342.4 41.3M348.7 51.2 L345.2 40.9M351.5 50.8 L348 40.4"/>
<path class="f2" stroke="#aebe67" d="M106.7 92.9 L103.2 72.3M81.9 86.5 L78.4 99.4M109.5 92.3 L106 71.6M84.5 86.7 L81.2 98.8M112.3 91.8 L108.7 71.2M85.6 92.3 L83.9 98.4M115.1 91.4 L111.5 70.8M117.9 91 L114.3 70.4M120.6 90.6 L117.1 69.9M123.4 90.2 L119.9 69.5M126.2 89.7 L122.7 69.1M129 89.3 L125.4 68.7M131.8 89 L128.2 68.3M134.6 88.6 L131 68M137.3 88.3 L133.8 67.7"/>
<path class="f2" stroke="#c8bc5d" d="M270 53.4 L266.5 47.9"/>
<path class="f2" stroke="#d1bb59" d="M66 82.1 L62.4 94.2M68.8 81.5 L65.2 93.6M71.5 80.4 L68 92.6M272.8 52 L269.3 47.4M275.6 51.4 L272 47M278.4 50.9 L274.8 46.6M281.1 50.5 L277.6 46.1M283.9 50.1 L280.4 45.7M286.7 49.7 L283.2 45.3M289.5 49.2 L286 44.9M292.3 48.8 L288.7 44.5M295.1 48.4 L291.5 44M297.9 48 L294.3 43.6M300.6 47.6 L297.1 43.2M303.4 47.2 L299.9 42.8M306.2 46.7 L302.7 42.4M309 46.3 L305.5 42M311.8 45.9 L308.2 41.5M314.6 45.5 L311 41.1M317.3 45.1 L313.8 40.7M320.1 44.6 L316.6 40.3M322.9 44.2 L319.4 39.9M325.7 43.8 L322.2 39.4M328.5 43.4 L324.9 39M331.3 43 L327.7 38.6M334.1 42.5 L330.5 38.2M336.8 42.1 L333.3 37.8M339.6 41.7 L336.1 37.3M342.4 41.3 L338.9 36.9M345.2 40.9 L341.7 36.5M348 40.4 L344.4 36.1"/>
<path class="f2" stroke="#d9ba56" d="M74.3 79 L70.8 91.4M77.1 77.6 L73.6 90.1"/>
<path class="f2" stroke="#e1b952" d="M83.7 81.1 L80.1 64.9M79.9 76.1 L76.3 88.7M82.4 75.5 L79.1 87.5M83.5 80.8 L81.9 86.5M189.5 65.3 L186 49.1M192.3 65.2 L188.7 49M195.1 65 L191.5 48.9M197.9 64.9 L194.3 48.7M200.6 64.6 L197.1 48.5M203.4 64.4 L199.9 48.3M206.2 64.2 L202.7 48.1M209 63.9 L205.4 47.8M211.8 63.5 L208.2 47.5M214.6 63.2 L211 47.2M217.3 62.8 L213.8 46.8M220.1 62.4 L216.6 46.4M222.9 61.9 L219.4 46M225.7 61.5 L222.2 45.5M228.5 61.1 L224.9 45.1M231.3 60.7 L227.7 44.7M234.1 60.3 L230.5 44.3M236.8 59.9 L233.3 43.9M239.6 59.4 L236.1 43.4M242.4 59 L238.9 43M245.2 58.6 L241.6 42.6M248 58.2 L244.4 42.2M250.8 57.8 L247.2 41.8M253.5 57.3 L250 41.3M256.3 56.9 L252.8 40.9M259.1 56.5 L255.6 40.5M261.9 56.1 L258.4 40.1M264.7 55.7 L261.1 39.7"/>
<path class="f2" stroke="#e9b94e" d="M86.5 80.5 L82.9 64.1M89.2 79.3 L85.7 62.9M92 77.9 L88.5 61.3M172.8 65.9 L169.2 49.3M175.6 65.8 L172 49.3M178.4 65.7 L174.8 49.3M181.1 65.6 L177.6 49.2M183.9 65.6 L180.4 49.2M186.7 65.4 L183.2 49.1M266.7 50.2 L266.5 49.8"/>
<path class="f2" stroke="#f1b94a" d="M94.8 76.4 L91.3 59.6M156.1 66.3 L152.5 49.4M158.9 66.3 L155.3 49.4M161.7 66.2 L158.1 49.4M164.4 66.1 L160.9 49.4M167.2 66 L163.7 49.3M170 65.9 L166.5 49.3"/>
<path class="f2" stroke="#f8bb44" d="M97.6 74.8 L94.1 57.9M100.4 73.4 L96.8 56.3M103.2 72.3 L99.6 55.1M128.2 68.3 L124.7 51.1M131 68 L127.5 50.8M133.8 67.7 L130.3 50.5M136.6 67.5 L133 50.3M139.4 67.2 L135.8 50.1M142.2 67 L138.6 49.9M144.9 66.9 L141.4 49.8M147.7 66.7 L144.2 49.7M150.5 66.6 L147 49.6M153.3 66.5 L149.8 49.5"/>
<path class="f2" stroke="#fdbe3d" d="M69.5 70.1 L66 82.1M72.3 69.4 L68.8 81.5M106 71.6 L102.4 54.4M108.7 71.2 L105.2 53.9M111.5 70.8 L108 53.5M114.3 70.4 L110.8 53.1M117.1 69.9 L113.6 52.7M119.9 69.5 L116.3 52.3M122.7 69.1 L119.1 51.9M125.4 68.7 L121.9 51.5"/>
<path class="f2" stroke="#ffc337" d="M75.1 68.2 L71.5 80.4M77.9 66.7 L74.3 79"/>
<path class="f2" stroke="#fec832" d="M80.3 66.4 L77.1 77.6M81.4 70.8 L79.9 76.1"/>
<path class="f2" stroke="#fcce2e" d="M197.1 48.5 L193.6 42.5M199.9 48.3 L196.3 42.3M202.7 48.1 L199.1 42.1M205.4 47.8 L201.9 41.8M208.2 47.5 L204.7 41.5M211 47.2 L207.5 41.2M213.8 46.8 L210.3 40.8M216.6 46.4 L213 40.4M219.4 46 L215.8 39.9M222.2 45.5 L218.6 39.5M224.9 45.1 L221.4 39.1M227.7 44.7 L224.2 38.7M230.5 44.3 L227 38.3M233.3 43.9 L229.8 37.8M236.1 43.4 L232.5 37.4M238.9 43 L235.3 37M241.6 42.6 L238.1 36.6M244.4 42.2 L240.9 36.2M247.2 41.8 L243.7 35.7M250 41.3 L246.5 35.3M252.8 40.9 L249.2 34.9M255.6 40.5 L252 34.5M258.4 40.1 L254.8 34.1M261.1 39.7 L257.6 33.7M263.9 39.4 L260.4 33.2"/>
<path class="f2" stroke="#fad32a" d="M80.1 64.9 L76.6 58.8M82.9 64.1 L79.4 58M180.4 49.2 L176.8 43.1M183.2 49.1 L179.6 43M186 49.1 L182.4 43M188.7 49 L185.2 42.9M191.5 48.9 L188 42.8M194.3 48.7 L190.8 42.7"/>
<path class="f2" stroke="#f7d826" d="M73.1 61.1 L69.5 70.1M75.8 60.4 L72.3 69.4M85.7 62.9 L82.2 56.7M88.5 61.3 L84.9 55.1M166.5 49.3 L162.9 43.1M169.2 49.3 L165.7 43.1M172 49.3 L168.5 43.1M174.8 49.3 L171.3 43.1M177.6 49.2 L174.1 43.1"/>
<path class="f2" stroke="#f5de21" d="M77.9 61.1 L75.1 68.2M79.2 63.3 L77.9 66.7M91.3 59.6 L87.7 53.3M152.5 49.4 L149 43.1M155.3 49.4 L151.8 43.1M158.1 49.4 L154.6 43.1M160.9 49.4 L157.4 43.1M163.7 49.3 L160.1 43.1M260.4 33.2 L259.9 33.5"/>
<path class="f2" stroke="#f5e41d" d="M94.1 57.9 L90.5 51.5M96.8 56.3 L93.3 49.9M133 50.3 L129.5 43.9M135.8 50.1 L132.3 43.7M138.6 49.9 L135.1 43.5M141.4 49.8 L137.9 43.4M144.2 49.7 L140.6 43.3M147 49.6 L143.4 43.2M149.8 49.5 L146.2 43.2"/>
<path class="f2" stroke="#f5eb18" d="M99.6 55.1 L96.1 48.7M102.4 54.4 L98.9 47.9M105.2 53.9 L101.7 47.5M108 53.5 L104.4 47.1M110.8 53.1 L107.2 46.7M113.6 52.7 L110 46.2M116.3 52.3 L112.8 45.8M119.1 51.9 L115.6 45.4M121.9 51.5 L118.4 45M124.7 51.1 L121.1 44.7M127.5 50.8 L123.9 44.4M130.3 50.5 L126.7 44.1"/>
<path class="f3" stroke="#2c4ac7" d="M374.7 176.6 L371.2 176.1M377.5 176 L374 175.3L370.4 175.3M380.3 175.6 L376.8 174.5L373.2 174.5M330.7 163.1 L327.2 161.6L323.6 160.5L320.1 159.7L316.5 159.1L313 158.8L309.5 158.6M383.1 175.2 L379.5 173.8L376 173.7L372.5 174M340.6 164.1 L337 161.5M308.7 155.7 L305.2 156.2M385.9 174.8 L382.3 173.2L378.8 172.9L376 173.3M375.6 173.3 L375.2 173.3M346.9 164.5 L343.4 161.3M307.9 153.9 L304.4 154.9M388.7 174.5 L385.1 172.6L381.6 172.2L379.8 172.5M379.1 172.6 L378.2 172.7M307.2 153.3 L306.2 153.7M305.8 153.8 L303.6 154.6M391.4 174.2 L387.9 172M384.4 171.5 L383.3 171.7M382.6 171.9 L381.9 172M381.2 172.1 L380.8 172.2M356 164.8 L352.5 161.2M310 152.1 L309.8 152.2M309.5 152.3 L309.2 152.5M308.2 152.9 L308 153M307.7 153.1 L307.6 153.2M394.2 173.8 L390.7 171.5M387.1 170.9 L386.8 171M385.9 171.2 L385.6 171.2M384.8 171.4 L384.3 171.5M358.8 164.2 L355.3 160.6M397 173.5 L393.5 171.1M389.9 170.4 L389.4 170.5M388.3 170.7 L388.2 170.7M361.6 163.8 L358.1 160.1M364.4 163.5 L360.8 159.7M367.2 163.1 L363.6 159.3M369.9 162.7 L366.4 158.9M404.6 169.6 L401.1 168.6M372.7 162.3 L369.2 158.5M410.9 171.5 L407.4 169.2L403.9 168.3L403.3 168.4M375.5 162 L372 158M413.7 171 L410.2 168.9L406.6 168L406.3 168.1M378.3 161.6 L374.8 157.6M416.5 170.4 L413 168.6L409.4 167.8L408.9 167.9M381.1 161.2 L377.5 157.2M419.3 169.9 L415.8 168.3L412.2 167.6L411.1 167.7M383.9 160.8 L380.3 156.8M422.1 169.3 L418.5 168L415 167.5L414.6 167.5M386.7 160.4 L383.1 156.4M428.4 170.1 L424.9 168.7L421.3 167.8L417.8 167.4L416.4 167.5M389.4 160 L385.9 155.9M431.2 169.4 L427.6 168.1L424.1 167.5L420.6 167.3M392.2 159.6 L388.7 155.5M434 168.6 L430.4 167.5L426.9 167.3L426.4 167.3M395 159.2 L391.5 155.1M436.8 167.9 L433.2 167L432.5 167M432.2 167 L429.7 167.1L427.5 167.2M397.8 158.8 L394.3 154.7M439.5 167.2 L436 166.5L434.2 166.7M433.3 166.8 L432.5 167M400.6 158.4 L397 154.3M445.9 168.9 L442.3 166.6M438.8 166.1 L438.3 166.2M403.4 158 L399.8 153.9M448.7 168.2 L445.1 166.1M441.6 165.8 L441 165.9M406.1 157.5 L402.6 153.4M451.4 167.6 L447.9 165.7M408.9 157.1 L405.4 153M454.2 167 L450.7 165.3M447.1 165.3 L447 165.4M411.7 156.7 L408.2 152.6M457 166.5 L453.5 165.1L452.8 165.1M452.4 165.1 L449.9 165.2L449.8 165.2M414.5 156.2 L411 152.2M463.3 167.9 L459.8 166L456.3 164.9L454.7 165M417.3 155.8 L413.7 151.8M466.1 167.1 L462.6 165.6L459 164.8L458.5 164.9M456.7 165 L456.6 165M420.1 155.4 L416.5 151.3M468.9 166.4 L465.4 165.3L461.8 164.8L461.6 164.8M422.9 154.9 L419.3 150.9M475.2 167.2 L471.7 165.7L468.1 165L464.6 164.8M425.6 154.5 L422.1 150.5M478 166.5 L474.5 165L470.9 164.7L468.6 164.7M428.4 154 L424.9 150.1M480.8 165.7 L477.3 164.4L473.7 164.4L473 164.5M471.4 164.6 L470.5 164.7M431.2 153.6 L427.7 149.7M483.6 165.1 L480 163.9M476.5 164.2 L476 164.2M434 153.2 L430.5 149.2M486.4 164.5 L482.8 163.4M479.3 163.9 L478.8 164M436.8 152.8 L433.2 148.8M439.6 152.3 L436 148.4M442.3 151.9 L438.8 148M445.1 151.5 L441.6 147.6M497.5 162.8 L494 161.9M447.9 151.1 L444.4 147.1M500.3 162.5 L496.8 161.5L496.2 161.6M450.7 150.6 L447.2 146.7"/>
<path class="f3" stroke="#2053d4" d="M337 161.5 L333.5 159.1M315.8 155 L312.2 155.2L308.7 155.7M343.4 161.3 L339.8 158.1M311.5 152.8 L307.9 153.9M349.7 162.6 L346.2 158.9M310.7 151.8 L307.2 153.3M387.9 172 L384.4 171.5M352.5 161.2 L348.9 157.1M390.7 171.5 L387.1 170.9M355.3 160.6 L351.7 156.3M393.5 171.1 L389.9 170.4M358.1 160.1 L354.5 155.9M396.3 170.6 L392.7 169.8L392.2 170M360.8 159.7 L357.3 155.5M399 170.3 L395.5 169.4L395.1 169.5M363.6 159.3 L360.1 155.1M401.8 169.9 L398.3 169L397.9 169M366.4 158.9 L362.9 154.6M401.1 168.6 L400.4 168.7M369.2 158.5 L365.6 154.2M372 158 L368.4 153.8M374.8 157.6 L371.2 153.4M377.5 157.2 L374 153M380.3 156.8 L376.8 152.5M383.1 156.4 L379.6 152.1M385.9 155.9 L382.4 151.7M388.7 155.5 L385.1 151.3M391.5 155.1 L387.9 150.9M394.3 154.7 L390.7 150.4M397 154.3 L393.5 150M442.3 166.6 L438.8 166.1M399.8 153.9 L396.3 149.6M445.1 166.1 L441.6 165.8M402.6 153.4 L399.1 149.2M447.9 165.7 L444.4 165.5M405.4 153 L401.8 148.8M450.7 165.3 L450 165.3M449.6 165.3 L447.1 165.3M408.2 152.6 L404.6 148.3M411 152.2 L407.4 147.9M413.7 151.8 L410.2 147.5M416.5 151.3 L413 147.1M419.3 150.9 L415.8 146.7M422.1 150.5 L418.6 146.3M424.9 150.1 L421.3 145.8M427.7 149.7 L424.1 145.4M480 163.9 L479 164M478.1 164 L476.5 164.2M430.5 149.2 L426.9 145M482.8 163.4 L482.3 163.5M481.4 163.6 L480.3 163.7M479.5 163.9 L479.3 163.9M433.2 148.8 L429.7 144.6M489.2 164 L485.6 163L485.1 163.1M484.4 163.2 L484.2 163.2M483 163.4 L482.8 163.5M436 148.4 L432.5 144.2M491.9 163.6 L488.4 162.6L487.7 162.7M438.8 148 L435.3 143.7M494.7 163.2 L491.2 162.2L490.8 162.3M441.6 147.6 L438.1 143.3M494 161.9 L493.3 162M444.4 147.1 L440.8 142.9M447.2 146.7 L443.6 142.5"/>
<path class="f3" stroke="#0f5cdd" d="M333.5 159.1 L330 157.2L326.4 156L322.9 155.3L319.3 155L315.8 155M339.8 158.1 L336.3 155.1M315 151.8 L311.5 152.8M346.2 158.9 L342.6 155.1M313.4 150.4 L313.2 150.5M312.9 150.7 L312.7 150.7M312.4 150.9 L312.2 151M311.9 151.1 L311.7 151.2M311.4 151.4 L311.3 151.5M310.9 151.6 L310.8 151.7M310.5 151.9 L310.3 152"/>
<path class="f3" stroke="#0363e1" d="M318.6 151.1 L315 151.8M314.3 150.3 L310.7 151.8M348.9 157.1 L345.4 153M317.1 148.5 L315.7 149.2M315.4 149.4 L315.2 149.4M314.9 149.6 L314.7 149.7M314.4 149.8 L314.3 149.9M314 150.1 L313.7 150.2M351.7 156.3 L348.2 152.1M354.5 155.9 L351 151.6M357.3 155.5 L353.8 151.2M360.1 155.1 L356.5 150.8M362.9 154.6 L359.3 150.4M365.6 154.2 L362.1 150M368.4 153.8 L364.9 149.5M371.2 153.4 L367.7 149.1M374 153 L370.5 148.7M376.8 152.5 L373.2 148.3M379.6 152.1 L376 147.9M382.4 151.7 L378.8 147.5M385.1 151.3 L381.6 147M387.9 150.9 L384.4 146.6M390.7 150.4 L387.2 146.2M393.5 150 L390 145.8M396.3 149.6 L392.7 145.4M399.1 149.2 L395.5 144.9M401.8 148.8 L398.3 144.5M404.6 148.3 L401.1 144.1M407.4 147.9 L403.9 143.7M410.2 147.5 L406.7 143.3M413 147.1 L409.4 142.8M415.8 146.7 L412.2 142.4M418.6 146.3 L415 142M421.3 145.8 L417.8 141.6M424.1 145.4 L420.6 141.2M426.9 145 L423.4 140.7M429.7 144.6 L426.2 140.3M432.5 144.2 L428.9 139.9M435.3 143.7 L431.7 139.5M438.1 143.3 L434.5 139.1M440.8 142.9 L437.3 138.7M443.6 142.5 L440.1 138.2"/>
<path class="f3" stroke="#0268e1" d="M336.3 155.1 L332.7 152.9L329.2 151.5L325.7 150.9L322.1 150.8L318.6 151.1M342.6 155.1 L339.1 151.6M317.8 148.9 L314.3 150.3"/>
<path class="f3" stroke="#046de0" d="M339.1 151.6 L335.5 149.1M324.9 147.1 L321.4 147.8L317.8 148.9M345.4 153 L341.9 149.1M320.6 146.8 L317.1 148.5M348.2 152.1 L344.6 148.1M351 151.6 L347.4 147.7M353.8 151.2 L350.2 147.3M356.5 150.8 L353 146.9M359.3 150.4 L355.8 146.4M362.1 150 L358.6 146M364.9 149.5 L361.3 145.6M367.7 149.1 L364.1 145.2M370.5 148.7 L366.9 144.8M373.2 148.3 L369.7 144.3M376 147.9 L372.5 143.9M378.8 147.5 L375.3 143.5M381.6 147 L378.1 143.1M384.4 146.6 L380.8 142.7M387.2 146.2 L383.6 142.3M390 145.8 L386.4 141.8M392.7 145.4 L389.2 141.4M395.5 144.9 L392 141M398.3 144.5 L394.8 140.6M401.1 144.1 L397.5 140.2M403.9 143.7 L400.3 139.7M406.7 143.3 L403.1 139.3M409.4 142.8 L405.9 138.9M412.2 142.4 L408.7 138.5M415 142 L411.5 138.1M417.8 141.6 L414.3 137.6M420.6 141.2 L417 137.2M423.4 140.7 L419.8 136.8M426.2 140.3 L422.6 136.4M428.9 139.9 L425.4 136M431.7 139.5 L428.2 135.5M434.5 139.1 L431 135.1M437.3 138.7 L433.8 134.7M440.1 138.2 L436.5 134.3"/>
<path class="f3" stroke="#0871de" d="M335.5 149.1 L332 147.6L328.4 147.1L324.9 147.1M341.9 149.1 L338.3 146.4M324.1 145.4 L320.6 146.8M344.6 148.1 L341.1 145.4M326.4 144.6 L326.3 144.7M325.7 144.9 L325.6 145M347.4 147.7 L343.9 144.9M350.2 147.3 L346.7 144.5M353 146.9 L349.5 144.1M355.8 146.4 L352.2 143.7M358.6 146 L355 143.3M361.3 145.6 L357.8 142.8M364.1 145.2 L360.6 142.4M366.9 144.8 L363.4 142M369.7 144.3 L366.2 141.6M372.5 143.9 L368.9 141.2M375.3 143.5 L371.7 140.7M378.1 143.1 L374.5 140.3M380.8 142.7 L377.3 139.9M383.6 142.3 L380.1 139.5M386.4 141.8 L382.9 139.1M389.2 141.4 L385.7 138.7M392 141 L388.4 138.2M394.8 140.6 L391.2 137.8M397.5 140.2 L394 137.4M400.3 139.7 L396.8 137M403.1 139.3 L399.6 136.6M405.9 138.9 L402.4 136.1M408.7 138.5 L405.1 135.7M411.5 138.1 L407.9 135.3M414.3 137.6 L410.7 134.9M417 137.2 L413.5 134.5M419.8 136.8 L416.3 134M422.6 136.4 L419.1 133.6M425.4 136 L421.9 133.2M428.2 135.5 L424.6 132.8M431 135.1 L427.4 132.4M433.8 134.7 L430.2 131.9M436.5 134.3 L433 131.5"/>
<path class="f3" stroke="#0d75dc" d="M338.3 146.4 L334.8 144.9L331.2 144.4L327.7 144.6L324.1 145.4M341.1 145.4 L337.6 143.8M334 143.3 L330.5 143.5L329.8 143.7M329.4 143.8 L328.7 144M328.3 144.1 L327.8 144.2M327.5 144.3 L326.9 144.4M343.9 144.9 L340.3 143.4M336.8 142.9 L335.2 143M334.1 143.1 L333.3 143.1L332.9 143.2M346.7 144.5 L343.1 143M339.6 142.5 L339.2 142.5M338.2 142.6 L336 142.7L335.9 142.7M349.5 144.1 L345.9 142.6M342.4 142.1 L339.4 142.2M352.2 143.7 L348.7 142.2M345.2 141.6 L343.4 141.7M342.1 141.8 L341.6 141.9L341.1 142M355 143.3 L351.5 141.7M347.9 141.2 L347.4 141.2M346.2 141.3 L344.4 141.4L344.2 141.5M357.8 142.8 L354.3 141.3M350.7 140.8 L347.7 141M360.6 142.4 L357 140.9M353.5 140.4 L351.7 140.5M350.7 140.6 L350 140.6L349.4 140.7M363.4 142 L359.8 140.5M356.3 140 L355.8 140M354.3 140.1 L352.7 140.2L352.6 140.2M366.2 141.6 L362.6 140.1M359.1 139.5 L355.9 139.7M368.9 141.2 L365.4 139.6M361.9 139.1 L359.9 139.2M358.7 139.3 L358.3 139.4L357.8 139.5M371.7 140.7 L368.2 139.2M364.6 138.7 L363.9 138.7M362.9 138.8 L361.1 138.9L360.9 139M374.5 140.3 L371 138.8M367.4 138.3 L364.2 138.5M377.3 139.9 L373.8 138.4M370.2 137.9 L368.3 138M366.8 138.1 L366.7 138.1L366.1 138.2M380.1 139.5 L376.5 138M373 137.4 L372.3 137.5M370.9 137.6 L369.5 137.7L369.3 137.7M382.9 139.1 L379.3 137.5M375.8 137 L375.3 137.1M374.9 137.1 L372.4 137.2M385.7 138.7 L382.1 137.1M378.6 136.6 L376.4 136.7M375.2 136.8 L375 136.8L374.5 137M388.4 138.2 L384.9 136.7M381.4 136.2 L380.5 136.2M379.4 136.3 L377.8 136.4L377.6 136.5M391.2 137.8 L387.7 136.3M384.1 135.8 L383.4 135.8M383.1 135.8 L380.6 136M394 137.4 L390.5 135.9M386.9 135.3 L384.6 135.5M383.4 135.6 L382.8 135.7M396.8 137 L393.2 135.4M389.7 134.9 L388.6 135M387.4 135.1 L386.2 135.2L385.8 135.2M399.6 136.6 L396 135M392.5 134.5 L392 134.5M391.4 134.6 L388.9 134.7M402.4 136.1 L398.8 134.6M395.3 134.1 L393 134.2M391.9 134.3 L391.7 134.3L391.2 134.5M405.1 135.7 L401.6 134.2M398.1 133.7 L397 133.7M395.6 133.8 L394.5 133.9L394.2 134M407.9 135.3 L404.4 133.8M400.8 133.3 L400.3 133.3M399.6 133.3 L397.3 133.5M410.7 134.9 L407.2 133.4M403.6 132.8 L401.2 133M399.9 133.1 L399.4 133.2M413.5 134.5 L410 132.9M406.4 132.4 L405.2 132.5M403.9 132.6 L402.9 132.6L402.5 132.7M416.3 134 L412.7 132.5M409.2 132 L408.7 132M408.1 132.1 L405.7 132.2M419.1 133.6 L415.5 132.1M412 131.6 L409.5 131.7M408.1 131.9 L407.7 132M421.9 133.2 L418.3 131.7M414.8 131.2 L413.5 131.2M412.1 131.3 L411.2 131.4L410.9 131.5M424.6 132.8 L421.1 131.3M417.6 130.7 L417.2 130.8M416.1 130.8 L414 131M427.4 132.4 L423.9 130.8M420.3 130.3 L417.7 130.5M416.4 130.6 L416.1 130.7M430.2 131.9 L426.7 130.4M423.1 129.9 L421.7 130M420.6 130.1 L419.6 130.1L419.2 130.2M433 131.5 L429.5 130M425.9 129.5 L425.6 129.5M424.7 129.6 L422.4 129.7"/>
<path class="f3" stroke="#1079da" d="M337.6 143.8 L334 143.3M340.3 143.4 L336.8 142.9M343.1 143 L339.6 142.5M345.9 142.6 L342.4 142.1M348.7 142.2 L345.2 141.6M351.5 141.7 L347.9 141.2M354.3 141.3 L350.7 140.8M357 140.9 L353.5 140.4M359.8 140.5 L356.3 140M362.6 140.1 L359.1 139.5M365.4 139.6 L361.9 139.1M368.2 139.2 L364.6 138.7M371 138.8 L367.4 138.3M373.8 138.4 L370.2 137.9M376.5 138 L373 137.4M379.3 137.5 L375.8 137M382.1 137.1 L378.6 136.6M384.9 136.7 L381.4 136.2M387.7 136.3 L384.1 135.8M390.5 135.9 L386.9 135.3M393.2 135.4 L389.7 134.9M396 135 L392.5 134.5M398.8 134.6 L395.3 134.1M401.6 134.2 L398.1 133.7M404.4 133.8 L400.8 133.3M407.2 133.4 L403.6 132.8M410 132.9 L406.4 132.4M412.7 132.5 L409.2 132M415.5 132.1 L412 131.6M418.3 131.7 L414.8 131.2M421.1 131.3 L417.6 130.7M423.9 130.8 L420.3 130.3M426.7 130.4 L423.1 129.9M429.5 130 L425.9 129.5"/>
<path class="f10" stroke="#3637a0" d="M237.8 206.5 L240.6 206.4L243.3 206.2M234.2 205.5 L237 205.5L239.8 205.3M230.7 204.6 L233.5 204.6L236.3 204.4M227.1 203.8 L229.9 203.7L232.7 203.5M223.6 203.1 L226.4 202.9L229.2 202.6M217.3 202.5 L220.1 202.3L222.8 202.1L225.6 201.8M211.5 202 L213.7 201.8L216.5 201.6L219.3 201.3M277.8 191.9 L280.6 191.4L283.4 191L286.1 190.6L288.9 190.3L291.7 190M196.3 202.5 L199.1 202.2L201.1 202M201.5 202 L201.8 201.9L204.6 201.7L207.4 201.4L210.2 201.1L213 200.8M274.2 191.2 L277 190.7L279.8 190.3M189.9 202.5 L192.7 202.1L195.5 201.7L198.3 201.4L201.1 201L203.9 200.7M342.3 177.7 L343.1 177.6M343.8 177.5 L344.9 177.3M345.7 177.2 L346.4 177.1M347.4 177 L347.9 176.9L348.1 176.9M348.8 176.7 L349.6 176.6M350.5 176.5 L350.7 176.5L351.1 176.4M352 176.2 L352.7 176.1M329.7 176.7 L332.5 176.4M256.5 186.6 L259.3 186.1L262.1 185.6L264.9 185L267.7 184.6M281.6 182.5 L284.4 182.2L287.2 181.9L289.9 181.6L290.7 181.5M291.1 181.5 L292.7 181.3L292.9 181.3M293.3 181.2 L294.8 181.1M295.3 181 L295.5 181L296.6 180.8M297.4 180.7 L298.3 180.6L298.7 180.6M299.2 180.5 L300.3 180.3M301.1 180.2 L302.2 180.1M302.8 180 L303.9 179.8M317.8 177.5 L320.6 177L323.4 176.5L326.1 176L328.9 175.5L331.7 175L334.5 174.5M261.3 184.7 L264.1 184.3L266.9 183.9L269.7 183.4L272.5 183L275.3 182.6L278.1 182.2L280.8 181.8L283.6 181.4L286.4 181L289.2 180.6L292 180.3M325.4 175.1 L328.2 174.6L331 174.1L333.7 173.6L336.5 173.2L339.3 172.5M291 157 L293.8 156.4L296.6 155.9L296.9 155.8M297.3 155.7 L298 155.6M298.6 155.5 L299.3 155.3M300.1 155.2 L300.6 155.1M301.6 155 L302.1 154.9M303.2 154.7 L303.4 154.7M294.3 152.6 L297.1 152.2L299.9 151.8L302.6 151.4L305.4 150.9L308.2 150.5L311 150.1L313.8 149.7L314.7 149.5M293.5 152.3 L293.7 152.3M294.3 152.2 L295.4 152.1M295.9 152 L296.3 151.9L297.1 151.8M297.6 151.7 L298.7 151.6M299.3 151.5 L300.4 151.3M300.8 151.2 L301.9 151.1"/>
<path class="f10" stroke="#353dad" d="M481.8 177.7 L484.6 177.3L487.4 176.8L490.2 176.4L492.9 176L495.7 175.6L498.5 175.3M472.7 177.9 L475.5 177.5L478.3 177.2L481 176.7L483.8 176.3L486.6 175.8L489.4 175.4L492.2 174.9L495 174.4M427.4 182.6 L430.2 182L432.9 181.5L435.7 181L438.5 180.5L441.3 180.1L444.1 179.7L446.9 179.3L449.7 179L452.4 178.7L455.2 178.4L458 178.1L460.8 177.9L463.6 177.7M426.6 181.6 L429.4 181.2L432.2 180.8L435 180.4L437.8 179.9L440.5 179.5L443.3 179.1L446.1 178.7L448.9 178.3L451.7 177.9L454.5 177.5L457.3 177.1L460 176.7M233 207.3 L235.7 207.5L238.5 207.6L241.3 207.6M400 181.5 L402.8 181.3L405.6 181.1L408.4 180.8L411.2 180.6L414 180.4M229.4 205.8 L232.2 206.2L235 206.5L237.8 206.5M228.7 205 L231.4 205.4L234.2 205.5M225.1 204.1 L226 204.2M226.6 204.3 L227.9 204.5L230.7 204.6M221.4 203.4 L221.6 203.5L222 203.5M222.9 203.6 L224.4 203.7L227.1 203.8M294 191.9 L296.8 191.1M220.3 203.1 L220.8 203.1L223.6 203.1M287.7 192.3 L290.4 191.6L293.2 191L296 190.4L298.8 189.8L301.6 189.2L302.7 189M303.1 189 L304.4 188.7L305.5 188.5M305.8 188.5 L307 188.3M307.3 188.2 L308.6 188M309 188 L309.9 187.9L310.1 187.8M310.9 187.7 L312.2 187.6M312.7 187.5 L314.2 187.3M314.8 187.2 L315.5 187.2L316.4 187.1M317.2 187 L318.3 186.9L318.8 186.8M320 186.7 L321.1 186.6L322 186.6M322.9 186.5 L323.9 186.4L325 186.3M325.7 186.2 L326.6 186.2L327.6 186.1M328.5 186 L329.4 185.9L330.2 185.8M331.1 185.7 L332.2 185.6L332.6 185.6M333.3 185.5 L334.1 185.4M467.7 164.7 L468.7 164.6L471.4 164.3L474.2 163.9L477 163.6M200.6 202.9 L202.6 202.6M203.2 202.6 L203.4 202.6L205.2 202.5M211.3 202.5 L211.7 202.5M216.4 202.5 L217.3 202.5M284.1 192 L286.9 191.5L289.7 191L292.5 190.5L294 190.3M294.5 190.2 L295.3 190.1L295.4 190.1M296 190 L296.9 189.9M297.7 189.7 L298 189.7L298.4 189.6M299.3 189.5 L300.1 189.4M301 189.2 L301.7 189.1M302.5 189 L303.2 188.9M304.2 188.7 L304.7 188.7M305.8 188.5 L306.4 188.4M307.5 188.2 L307.9 188.2M309 188 L309.2 188L309.7 187.9M310.7 187.7 L311.4 187.6M312.3 187.5 L313.1 187.4M314 187.2 L314.7 187.1M315.7 187 L316.6 186.8M317.3 186.7 L317.5 186.7L318.6 186.5M319 186.5 L320.3 186.3M320.7 186.2 L323.1 185.9L325.9 185.5L328.7 185L331.5 184.6M197 203.1 L198.7 202.8M199.4 202.7 L199.8 202.7L200.9 202.6M202.2 202.5 L202.6 202.5L204.6 202.4M206.7 202.2 L208.2 202.2L208.9 202.1M472.7 161.3 L475.5 160.8M193.5 202.9 L194.6 202.8M195 202.7 L196.3 202.5M335.5 180.4 L338.3 179.8L341.1 179.2L343.9 178.6L346.6 178L349.4 177.5M421.1 167.2 L421.8 167.1L424.6 166.8L427.4 166.5L430.2 166.1M332 179.9 L334.7 179.4L337.5 178.9L340.3 178.4L343.1 177.9L345.9 177.4L348.7 177L351.1 176.5M351.5 176.5 L354.2 176L355.4 175.8M355.7 175.7 L356.8 175.6M357.2 175.5 L358.3 175.3M358.7 175.2 L359.8 175.1L361.5 174.8M361.9 174.7 L362.6 174.6L363 174.5M363.3 174.5 L365.4 174.2L366.1 174M366.5 174 L367.6 173.8M368.2 173.7 L369.5 173.5M369.8 173.5 L371 173.3L371.1 173.3M371.5 173.2 L372.8 173.1M373.4 173 L373.7 172.9L374.5 172.8M375 172.7 L376.3 172.6M376.9 172.5 L378.2 172.3M378.7 172.2 L379.3 172.2L380.2 172.1M380.8 172 L382.1 171.8M382.8 171.7 L383.6 171.6M426.6 165.3 L429.4 164.8L432.2 164.2L435 163.7L437.8 163.3L440.6 162.8L443.4 162.4L446.1 162L448.9 161.6L451.7 161.3L454.5 161L457.3 160.7L460.1 160.5L462.8 160.2L465.6 160L468.4 159.8M328.4 179.3 L331.2 179L334 178.7L336.8 178.4L337.7 178.3M338.1 178.2 L339.6 178.1L339.7 178M340.1 178 L341.4 177.8M342 177.7 L342.3 177.7M353.5 176 L354.2 175.9M355 175.7 L355.7 175.6M356.3 175.5 L357.2 175.3M357.8 175.2 L358.5 175.1M359.1 175 L359.9 174.8M360.3 174.7 L361.1 174.6M361.7 174.5 L361.8 174.5L362.7 174.3M363.1 174.2 L363.9 174M364.3 174 L364.6 173.9L365.1 173.8M365.5 173.7 L366.5 173.5M366.9 173.5 L367.4 173.4L370.2 172.8L373 172.3L375.8 171.8L378.5 171.3L381.3 170.8M425.9 164.2 L428.7 163.7L431.5 163.2L434.2 162.7L437 162.3L439.8 161.8L442.6 161.4L445.4 161L448.2 160.6L450.9 160.3L453.7 159.9L456.5 159.6L459.3 159.4L462.1 159.1L464.9 158.9M291.5 182.9 L294.2 182.3L297 181.8L299.8 181.3L302.6 180.8L305.4 180.4L308.2 180L311 179.7L313.7 179.4L316.5 179.1L319.3 178.9L322.1 178.6L324.9 178.4L327.7 178.2L330.4 178L333.2 177.8M441.8 161.1 L442.4 161.1M443 161 L444.1 160.8M444.6 160.7 L445.9 160.5M446.3 160.5 L447.4 160.3L447.6 160.3M448 160.2 L449.3 160M449.6 160 L450.2 159.9L453 159.5L455.8 159.1M282.4 183.5 L285.1 183L287.9 182.6L290.7 182.1L293.5 181.7L294.6 181.5M295 181.5 L296.3 181.3L297.9 181M298.3 181 L299.1 180.9L299.6 180.8M300 180.7 L301.8 180.5L303 180.3M303.3 180.2 L304.6 180.1M305.2 180 L306.5 179.8M306.9 179.7 L307.4 179.7L310 179.3M310.4 179.2 L313 178.9L315.8 178.5L318.6 178.1L321.3 177.8L324.1 177.4L326.9 177.1L329.7 176.7M267.7 184.6 L270.5 184.1L273.2 183.7L276 183.3L278.8 182.9L281.6 182.5M334.5 174.5 L337.3 174L340.1 173.5L342.9 173M294.5 157.2 L297.3 156.3L298.9 155.8M299.2 155.7 L300.1 155.5L300.6 155.4M301.2 155.2 L301.5 155.1M302.2 155 L302.4 154.9M303.3 154.7 L303.4 154.7"/>
<path class="f10" stroke="#3243ba" d="M353 194.1 L355.7 193.8L358.5 193.5M391.7 182.3 L394.5 182L397.3 181.8L400 181.5M223.9 204.9 L226.6 205.3L229.4 205.8M223.1 203.9 L225.9 204.5L228.7 205M220.1 203.1 L220.6 203.2M221.3 203.4 L221.8 203.5M222.3 203.6 L223 203.7M223.6 203.8 L224.4 204M311.4 189.2 L314.2 188.6L317 188.1L319.8 187.7L322.6 187.2L323.7 187M324.1 187 L325.4 186.8M325.7 186.7 L326.7 186.6M327.4 186.5 L328.2 186.4L328.3 186.4M329.3 186.2 L329.8 186.1M330.9 186 L331.5 185.9M332.4 185.7 L333 185.7M213.2 202.2 L213.6 202.2M215.3 202.5 L215.5 202.5M296.8 191.1 L299.6 190.4L302.3 189.8L305.1 189.2L307.9 188.6L310.7 188.2L313.5 187.8L316.3 187.4L319 187.1L320 187M320.5 187 L321.8 186.9L322.4 186.8M323.5 186.7 L324.6 186.7L325.2 186.6M326.7 186.5 L327.4 186.4L328 186.4M329.4 186.2 L329.6 186.2M359.8 180.2 L360.1 180.1M360.6 180 L360.8 179.9L361.2 179.8M361.7 179.7 L362.2 179.6M362.6 179.5 L363.1 179.3M363.4 179.2 L363.6 179.2L366.4 178.5M204.1 202.5 L205.6 202.4M206.2 202.3 L206.9 202.2L209.5 202.3M362.8 178.8 L365.6 177.9L368.4 177L371.2 176.1M370.4 175.3 L373.2 174.5M364.1 175.9 L366.9 175.2L369.7 174.6L372.5 174L373.2 173.8M373.5 173.7 L375.2 173.3L375.4 173.3M375.8 173.2 L376.5 173.1M377 173 L377.7 172.8M378.2 172.7 L378.7 172.6M379.4 172.5 L379.9 172.4M380.6 172.2 L380.8 172.2M349.4 177.5 L352.2 177L355 176.4L357.8 175.9L360.6 175.5L363.4 175L366.1 174.5L368.9 174.1L369.1 174M369.5 174 L370.6 173.8M371 173.7 L371.7 173.6L372.1 173.6M372.6 173.5 L373.7 173.3M374.3 173.2 L374.5 173.2L375.2 173.1M376 173 L376.7 172.9M377.6 172.7 L378.2 172.7M379.5 172.5 L379.7 172.5M304.4 154.9 L307.2 153.3M300.9 155.8 L301.8 155.3M302.2 155.2 L303.6 154.6M304 154.5 L304.2 154.4M305.6 154 L305.7 153.9"/>
<path class="f10" stroke="#2c4ac7" d="M329.7 187.5 L332.5 186.8L335.2 186.2L338 185.6L340.8 185.1L343.6 184.6L346.4 184.1L349.2 183.6M214.7 203.4 L217.5 203.2L220.3 203.4L223.1 203.9M323.3 187.8 L326.1 187.2L328.9 186.5L331.7 185.9L334.5 185.4L337.3 184.8L340.1 184.2L342.8 183.6L345.6 183L348.4 182.5L351.2 182L354 181.5M359.5 180.7 L362.3 180.4L365.1 180.1L367.9 180L370.7 179.9L373.5 179.8L376.3 179.9M211.2 202.5 L214 202.3L216.8 202.5L218.1 202.7M218.6 202.8 L219.4 203M351.3 182 L351.5 181.9M352.5 181.7 L352.9 181.6M353.6 181.5 L354.1 181.4M354.8 181.2 L355.5 181.1M356 181 L356.9 180.8M357.2 180.7 L358.1 180.5M358.4 180.5 L358.8 180.4L361.6 179.9L364.4 179.4L367.1 179L369.9 178.6L372.7 178.4L375.5 178.1L378.3 178M207.7 202.3 L210.4 202L210.6 202.1M211.9 202.1 L213.2 202.2M366.4 178.5 L369.2 177.8L372 177.1L374.7 176.6M371.2 176.1 L374 175.3M432.5 167 L433 166.9M373.2 174.5 L376 173.7M420.6 167.3 L421.1 167.3M380.8 172.2 L381.2 172.1M381.9 172 L382.4 171.9M383.1 171.7 L383.6 171.6M384.5 171.5 L384.9 171.4"/>
<path class="f10" stroke="#2053d4" d="M349.2 183.6 L351.9 183.2L354.7 182.8M354 181.5 L356.8 181L359.5 180.7"/>
<path class="f10" stroke="#0268e1" d="M284.4 136.9 L284.9 139"/>
<path class="f10" stroke="#d9ba56" d="M267.5 55.6 L270.3 67.1"/>
<path class="f10" stroke="#e1b952" d="M266.5 47.9 L269.3 47.4L272 47L274.8 46.6L277.6 46.1L280.4 45.7L283.2 45.3L286 44.9L288.7 44.5L291.5 44L294.3 43.6L297.1 43.2L299.9 42.8L302.7 42.4L305.5 42L308.2 41.5L311 41.1L313.8 40.7L316.6 40.3L319.4 39.9L322.2 39.4L324.9 39L327.7 38.6L330.5 38.2L333.3 37.8L336.1 37.3L338.9 36.9L341.7 36.5L344.4 36.1"/>
<path class="f10" stroke="#f5e41d" d="M79.4 58 L82.2 56.7L84.9 55.1"/>
<path class="f10" stroke="#f5eb18" d="M84.9 55.1 L87.7 53.3"/>
<path class="f10" stroke="#f6f313" d="M87.7 53.3 L90.5 51.5L93.3 49.9"/>
<path class="f10" stroke="#f9fb0e" d="M93.3 49.9 L96.1 48.7"/>
<path class="f11" stroke="#363093" d="M422.1 192.3 L424.8 192"/>
<path class="f11" stroke="#3637a0" d="M383.1 196.9 L385.9 196.4L388.6 195.9L391.4 195.4L394.2 195L397 194.6L399.8 194.2L402.6 193.9L405.3 193.6L408.1 193.4L410.9 193.1L413.7 192.9L416.5 192.7L419.3 192.5L422.1 192.3M516.7 177.4 L519.5 177L522.3 176.6L525.1 176.2M385.1 195 L387.9 194.6L390.7 194.1L393.5 193.7L396.2 193.3L399 192.9L401.8 192.6L404.6 192.2L407.4 191.9L410.2 191.6L412.9 191.3L415.7 191.1M384.3 193.5 L387.1 193.2L389.9 192.9L392.7 192.5L395.5 192.1L398.3 191.7L401 191.2L403.8 190.8L406.6 190.3L409.4 189.9L412.2 189.4L415 188.9M241.6 213.5 L244.3 213.2L247.1 212.8L249.9 212.5L252.7 212.1L255.5 211.8L258.3 211.4L261.1 211L263.8 210.6L266.6 210.1L269.4 209.7L272.2 209.3L275 208.9L277.8 208.5L280.5 208L283.3 207.6L286.1 207.2L288.9 206.8L291.7 206.4L294.5 206L297.3 205.5L300 205.1L302.8 204.7L305.6 204.2L308.4 203.8L311.2 203.3L314 202.8L316.7 202.3M414.2 187.1 L417 186.5M240.8 212 L243.6 211.7L246.4 211.4L249.2 211.1L251.9 210.8L254.7 210.4L257.5 210L260.3 209.6L263.1 209.2L265.9 208.8L268.7 208.4L271.4 208L274.2 207.6L277 207.1L279.8 206.7L282.6 206.3L285.4 205.9L288.1 205.5L290.9 205L293.7 204.6L296.5 204.2L299.3 203.7L302.1 203.2L304.9 202.7L307.6 202.2L310.4 201.7L313.2 201.1M242.8 210.2 L245.6 210L248.4 209.8L251.2 209.4L254 209.1L256.8 208.7L259.5 208.3L262.3 207.9L265.1 207.5L267.9 207.1L270.7 206.6L273.5 206.2L276.2 205.8L279 205.4L281.8 205L284.6 204.6L287.4 204.1L290.2 203.7L293 203.3L295.7 202.8L298.5 202.3L301.3 201.8L304.1 201.2L306.9 200.6L309.7 200L312.4 199.3M242.1 208.8 L244.9 208.7L247.6 208.5L250.4 208.1L253.2 207.8L256 207.4L258.8 207L261.6 206.6L264.4 206.2L267.1 205.7L269.9 205.3L272.7 204.9L275.5 204.5L278.3 204.1L281.1 203.6L283.8 203.2L286.6 202.8L289.4 202.4L292.2 201.9L295 201.4L297.8 200.9L300.6 200.3L303.3 199.7L306.1 199M431.4 180.2 L433.1 180M433.5 180 L434.2 179.9L435.1 179.8M435.5 179.7 L436.8 179.6M437.2 179.5 L438.7 179.3M439 179.2 L439.8 179.1L441.8 178.8M442.2 178.7 L442.6 178.7L443.3 178.5M443.7 178.5 L445.4 178.2L448.1 177.6L450.9 177.1M241.3 207.6 L244.1 207.4L246.9 207.2L249.7 206.8L252.5 206.5L255.2 206.1L258 205.7L260.8 205.2L263.6 204.8L266.4 204.4L269.2 204L271.9 203.6L274.7 203.2L277.5 202.7L280.3 202.3L283.1 201.9L285.9 201.5L288.7 201L291.4 200.5L294.2 200L297 199.4L299.8 198.8M243.3 206.2 L246.1 205.9L248.9 205.6L251.7 205.2L254.5 204.8L257.3 204.3L260.1 203.9L262.8 203.5L265.6 203.1L268.4 202.7L271.2 202.2L274 201.8L276.8 201.4L279.5 201L282.3 200.5L285.1 200.1L287.9 199.6L290.7 199L293.5 198.4M239.8 205.3 L242.6 205L245.4 204.6L248.2 204.2L250.9 203.8L253.7 203.4L256.5 203L259.3 202.6L262.1 202.2L264.9 201.8L267.6 201.3L270.4 200.9L273.2 200.5L276 200.1L278.8 199.6L281.6 199.1L284.4 198.6L287.1 197.9M236.3 204.4 L239 204.1L241.8 203.7L244.6 203.3L247.4 202.9L250.2 202.5L253 202.1L255.8 201.7L258.5 201.3L261.3 200.8L264.1 200.4L266.9 200L269.7 199.6L272.5 199.2L275.2 198.7L278 198.2L280.8 197.6L283.6 196.9M232.7 203.5 L235.5 203.2L238.3 202.8L241.1 202.4L243.9 202L246.6 201.6L249.4 201.2L252.2 200.8L255 200.4L257.8 199.9L260.6 199.5L263.3 199.1L266.1 198.7L268.9 198.3L271.7 197.8L274.5 197.3L277.3 196.6L280.1 196L282.8 195.2M229.2 202.6 L232 202.3L234.7 201.9L237.5 201.5L240.3 201.1L243.1 200.7L245.9 200.3L248.7 199.9L251.5 199.4L254.2 199L257 198.6L259.8 198.2L262.6 197.8L265.4 197.3L268.2 196.9L270.9 196.3L273.7 195.7L276.5 195.1L279.3 194.4L282.1 193.7M225.6 201.8 L228.4 201.4L231.2 201L234 200.6L236.8 200.2L239.6 199.8L242.3 199.4L245.1 199L247.9 198.5L250.7 198.1L253.5 197.7L256.3 197.3L259.1 196.9L261.8 196.4L264.6 196L267.4 195.4L270.2 194.9L273 194.3L275.8 193.7L278.5 193.1L281.3 192.5M219.3 201.3 L222.1 200.9L224.9 200.5L227.7 200.1L230.4 199.7L233.2 199.3L236 198.9L238.8 198.5L241.6 198L244.4 197.6L247.2 197.2L249.9 196.8L252.7 196.4L255.5 195.9L258.3 195.5L261.1 195.1L263.9 194.6L266.6 194L269.4 193.4L272.2 192.9L275 192.4L277.8 191.9M291.7 190 L294.5 189.6L295.2 189.5M295.6 189.5 L297.3 189.3L299.1 189.1M299.7 189 L300.1 188.9L301 188.8M301.5 188.7 L302.8 188.6M303.4 188.5 L304.3 188.3M305.1 188.2 L305.6 188.1L306.2 188.1M306.6 188 L307.7 187.8M308 187.7 L308.4 187.7L309.2 187.6M309.5 187.5 L310.6 187.3M311 187.2 L311.2 187.2L314 186.7L316.8 186.1L319.6 185.5L322.3 185M213 200.8 L215.8 200.4L218.5 200L221.3 199.6L224.1 199.2L226.9 198.8L229.7 198.4L232.5 198L235.3 197.6L238 197.1L240.8 196.7L243.6 196.3L246.4 195.9L249.2 195.5L252 195L254.8 194.6L257.5 194.2L260.3 193.7L263.1 193.2L265.9 192.7L268.7 192.2L271.5 191.7L274.2 191.2M279.8 190.3 L282.6 189.9L285.4 189.5L288.2 189.1L291 188.7L293.7 188.4M203.9 200.7 L206.7 200.3L209.4 199.9L212.2 199.5L215 199.1L217.8 198.7L220.6 198.3L223.4 197.9L226.1 197.5L228.9 197.1L231.7 196.6L234.5 196.2L237.3 195.8L240.1 195.4L242.9 195L245.6 194.5L248.4 194.1L251.2 193.7L254 193.3L256.8 192.8L259.6 192.4L262.3 191.9L265.1 191.5L267.9 191L270.7 190.5L273.5 190L276.3 189.5L279.1 189L281.8 188.5L284.6 188L287.4 187.4L290.2 186.9M186.4 201.8 L189.2 201.4L192 201L194.8 200.6L197.5 200.3L200.3 199.9L203.1 199.5L205.9 199.1L208.7 198.7L211.5 198.2L214.2 197.8L217 197.4L219.8 197L222.6 196.6L225.4 196.2L228.2 195.7L231 195.3L233.7 194.9L236.5 194.5L239.3 194.1L242.1 193.6L244.9 193.2L247.7 192.8L250.5 192.4L253.2 192L256 191.5L258.8 191.1L261.6 190.7L264.4 190.2L267.2 189.8L269.9 189.3L272.7 188.8L275.5 188.2L278.3 187.6L281.1 187L283.9 186.3M182.9 201 L185.6 200.6L188.4 200.2L191.2 199.8L194 199.4L196.8 199L199.6 198.6L202.4 198.2L205.1 197.8L207.9 197.3L210.7 196.9L213.5 196.5L216.3 196.1L219.1 195.7L221.8 195.2L224.6 194.8L227.4 194.4L230.2 194L233 193.6L235.8 193.2L238.6 192.7L241.3 192.3L244.1 191.9L246.9 191.5L249.7 191L252.5 190.6L255.3 190.1L258 189.7L260.8 189.2L263.6 188.7M333.2 177.8 L336 177.5L338.8 177.3L341.6 177L344.4 176.7L347.2 176.3M179.3 200.2 L182.1 199.8L184.9 199.3L187.7 198.9L190.5 198.5L193.2 198.1L196 197.7L198.8 197.3L201.6 196.8L204.4 196.4L207.2 196L209.9 195.6L212.7 195.2L215.5 194.8L218.3 194.3L221.1 193.9L223.9 193.5L226.7 193.1L229.4 192.7L232.2 192.2L235 191.8L237.8 191.4L240.6 191L243.4 190.6L246.2 190.1L248.9 189.6L251.7 189.1L254.5 188.6L257.3 188.1L260.1 187.5L262.9 187L265.6 186.5L268.4 185.9L271.2 185.4M332.5 176.4 L335.3 176.1L338 175.7L340.8 175.4M175.8 199.3 L178.6 198.9L181.3 198.4L184.1 198L186.9 197.6L189.7 197.2L192.5 196.8L195.3 196.4L198.1 195.9L200.8 195.5L203.6 195.1L206.4 194.7L209.2 194.3L212 193.8L214.8 193.4L217.5 193L220.3 192.6L223.1 192.2L225.9 191.8L228.7 191.3L231.5 190.9L234.3 190.5L237 190.1L239.8 189.6L242.6 189.2L245.4 188.7L248.2 188.2L251 187.7L253.7 187.2L256.5 186.6M304.6 179.7 L305.7 179.6M306.1 179.5 L306.7 179.4L307.4 179.3M307.8 179.2 L308.9 179.1M309.3 179 L309.4 179L310.4 178.8M310.9 178.7 L311.9 178.6M312.4 178.5 L315 178L317.8 177.5M172.2 198.4 L175 198L177.8 197.5L180.6 197.1L183.4 196.7L186.2 196.3L188.9 195.9L191.7 195.5L194.5 195L197.3 194.6L200.1 194.2L202.9 193.8L205.7 193.4L208.4 192.9L211.2 192.5L214 192.1L216.8 191.7L219.6 191.3L222.4 190.8L225.1 190.4L227.9 190L230.7 189.6L233.5 189.2L236.3 188.7L239.1 188.3L241.9 187.9L244.6 187.4L247.4 187L250.2 186.5L253 186.1L255.8 185.6L258.6 185.2L261.3 184.7M292 180.3 L294.8 179.9L297.5 179.5L300.3 179.1L303.1 178.7L305.9 178.3L308.7 177.8L311.5 177.4L314.3 176.9L317 176.5L319.8 176L322.6 175.5L325.4 175.1M339.3 172.5 L342.1 171.5M168.7 197.5 L171.5 197.1L174.3 196.6L177 196.2L179.8 195.8L182.6 195.4L185.4 195L188.2 194.5L191 194.1L193.8 193.7L196.5 193.3L199.3 192.9L202.1 192.4L204.9 192L207.7 191.6L210.5 191.2L213.2 190.8L216 190.4L218.8 189.9L221.6 189.5L224.4 189.1L227.2 188.7L230 188.3L232.7 187.8L235.5 187.4L238.3 187L241.1 186.6L243.9 186.2L246.7 185.7L249.4 185.3L252.2 184.9L255 184.5L257.8 184.1L260.6 183.6L263.4 183.2L266.2 182.8L268.9 182.4L271.7 182L274.5 181.6L277.3 181.1L280.1 180.7L282.9 180.3L285.6 179.9L288.4 179.5L291.2 179L294 178.6L296.8 178.2L299.6 177.8L302.4 177.4L305.1 176.9L307.9 176.5L310.7 176.1L313.5 175.7L316.3 175.3L319.1 174.8L321.9 174.4L324.6 174L327.4 173.6L330.2 173.2L333 172.8L335.8 172.1M165.1 196.6 L167.9 196.1L170.7 195.7L173.5 195.3L176.3 194.9L179.1 194.5L181.9 194.1L184.6 193.6L187.4 193.2L190.2 192.8L193 192.4L195.8 192L198.6 191.5L201.4 191.1L204.1 190.7L206.9 190.3L209.7 189.9L212.5 189.4L215.3 189L218.1 188.6L220.8 188.2L223.6 187.8L226.4 187.3L229.2 186.9L232 186.5L234.8 186.1L237.6 185.7L240.3 185.3L243.1 184.8L245.9 184.4L248.7 184L251.5 183.6L254.3 183.2L257 182.7L259.8 182.3L262.6 181.9L265.4 181.5L268.2 181.1L271 180.6L273.8 180.2L276.5 179.8L279.3 179.4L282.1 179L284.9 178.5L287.7 178.1L290.5 177.7L293.2 177.3L296 176.9L298.8 176.5L301.6 176L304.4 175.6L307.2 175.2L310 174.8L312.7 174.4L315.5 173.9L318.3 173.5L321.1 173.1L323.9 172.7L326.7 172.3L329.4 171.8M161.6 195.7 L164.4 195.2L167.2 194.8L170 194.4L172.7 194L175.5 193.6L178.3 193.1L181.1 192.7L183.9 192.3L186.7 191.9L189.5 191.5L192.2 191L195 190.6L197.8 190.2L200.6 189.8L203.4 189.4L206.2 189L208.9 188.5L211.7 188.1L214.5 187.7L217.3 187.3L220.1 186.9L222.9 186.4L225.7 186L228.4 185.6L231.2 185.2L234 184.8L236.8 184.3L239.6 183.9L242.4 183.5L245.1 183.1L247.9 182.7L250.7 182.2L253.5 181.8L256.3 181.4L259.1 181L261.9 180.6L264.6 180.2L267.4 179.7L270.2 179.3L273 178.9L275.8 178.5L278.6 178.1L281.3 177.6L284.1 177.2L286.9 176.8L289.7 176.4L292.5 176L295.3 175.5L298.1 175.1L300.8 174.7L303.6 174.3L306.4 173.9L309.2 173.4L312 173L314.8 172.6L317.6 172.2L320.3 171.8L323.1 171.4L325.9 170.9M158.1 194.7 L160.8 194.3L163.6 193.9L166.4 193.5L169.2 193.1L172 192.7L174.8 192.2L177.6 191.8L180.3 191.4L183.1 191L185.9 190.6L188.7 190.1L191.5 189.7L194.3 189.3L197.1 188.9L199.8 188.5L202.6 188L205.4 187.6L208.2 187.2L211 186.8L213.8 186.4L216.5 185.9L219.3 185.5L222.1 185.1L224.9 184.7L227.7 184.3L230.5 183.9L233.3 183.4L236 183L238.8 182.6L241.6 182.2L244.4 181.8L247.2 181.3L250 180.9L252.7 180.5L255.5 180.1L258.3 179.7L261.1 179.2L263.9 178.8L266.7 178.4L269.5 178L272.2 177.6L275 177.1L277.8 176.7L280.6 176.3L283.4 175.9L286.2 175.5L288.9 175.1L291.7 174.6L294.5 174.2L297.3 173.8L300.1 173.4L302.9 173L305.7 172.5L308.4 172.1L311.2 171.7L314 171.3L316.8 170.9L319.6 170.4L322.4 170M154.5 193.8 L157.3 193.4L160.1 193L162.9 192.6L165.7 192.2L168.4 191.7L171.2 191.3L174 190.9L176.8 190.5L179.6 190.1L182.4 189.6L185.2 189.2L187.9 188.8L190.7 188.4L193.5 188L196.3 187.6L199.1 187.1L201.9 186.7L204.6 186.3L207.4 185.9L210.2 185.5L213 185L215.8 184.6L218.6 184.2L221.4 183.8L224.1 183.4L226.9 182.9L229.7 182.5L232.5 182.1L235.3 181.7L238.1 181.3L240.8 180.8L243.6 180.4L246.4 180L249.2 179.6L252 179.2L254.8 178.8L257.6 178.3L260.3 177.9L263.1 177.5L265.9 177.1L268.7 176.7L271.5 176.2L274.3 175.8L277 175.4L279.8 175L282.6 174.6L285.4 174.1L288.2 173.7L291 173.3L293.8 172.9L296.5 172.5L299.3 172.1L302.1 171.6L304.9 171.2L307.7 170.8L310.5 170.4L313.3 170L316 169.5L318.8 169.1M151 192.9 L153.8 192.5L156.6 192.1L159.3 191.7L162.1 191.3L164.9 190.8L167.7 190.4L170.5 190L173.3 189.6L176 189.2L178.8 188.7L181.6 188.3L184.4 187.9L187.2 187.5L190 187.1L192.8 186.6L195.5 186.2L198.3 185.8L201.1 185.4L203.9 185L206.7 184.5L209.5 184.1L212.2 183.7L215 183.3L217.8 182.9L220.6 182.5L223.4 182L226.2 181.6L229 181.2L231.7 180.8L234.5 180.4L237.3 179.9L240.1 179.5L242.9 179.1L245.7 178.7L248.4 178.3L251.2 177.8L254 177.4L256.8 177L259.6 176.6L262.4 176.2L265.2 175.7L267.9 175.3L270.7 174.9L273.5 174.5L276.3 174.1L279.1 173.7L281.9 173.2L284.6 172.8L287.4 172.4L290.2 172L293 171.6L295.8 171.1L298.6 170.7L301.4 170.3L304.1 169.9L306.9 169.5L309.7 169L312.5 168.6L315.3 168.2M147.4 192 L150.2 191.6L153 191.2L155.8 190.8L158.6 190.3L161.4 189.9L164.1 189.5L166.9 189.1L169.7 188.7L172.5 188.2L175.3 187.8L178.1 187.4L180.9 187L183.6 186.6L186.4 186.2L189.2 185.7L192 185.3L194.8 184.9L197.6 184.5L200.3 184.1L203.1 183.6L205.9 183.2L208.7 182.8L211.5 182.4L214.3 182L217.1 181.5L219.8 181.1L222.6 180.7L225.4 180.3L228.2 179.9L231 179.4L233.8 179L236.5 178.6L239.3 178.2L242.1 177.8L244.9 177.4L247.7 176.9L250.5 176.5L253.3 176.1L256 175.7L258.8 175.3L261.6 174.8L264.4 174.4L267.2 174L270 173.6L272.7 173.2L275.5 172.7L278.3 172.3L281.1 171.9L283.9 171.5L286.7 171.1L289.5 170.7L292.2 170.2L295 169.8L297.8 169.4L300.6 169L303.4 168.6L306.2 168.1L309 167.7L311.7 167.3M143.9 191.1 L146.7 190.7L149.5 190.3L152.3 189.9L155 189.4L157.8 189L160.6 188.6L163.4 188.2L166.2 187.8L169 187.3L171.7 186.9L174.5 186.5L177.3 186.1L180.1 185.7L182.9 185.2L185.7 184.8L188.5 184.4L191.2 184L194 183.6L196.8 183.1L199.6 182.7L202.4 182.3L205.2 181.9L207.9 181.5L210.7 181.1L213.5 180.6L216.3 180.2L219.1 179.8L221.9 179.4L224.7 179L227.4 178.5L230.2 178.1L233 177.7L235.8 177.3L238.6 176.9L241.4 176.4L244.1 176L246.9 175.6L249.7 175.2L252.5 174.8L255.3 174.4L258.1 173.9L260.9 173.5L263.6 173.1L266.4 172.7L269.2 172.3L272 171.8L274.8 171.4L277.6 171L280.3 170.6L283.1 170.2L285.9 169.7L288.7 169.3L291.5 168.9L294.3 168.5L297.1 168.1L299.8 167.6L302.6 167.2L305.4 166.8L308.2 166.4M140.4 190.2 L143.1 189.8L145.9 189.4L148.7 188.9L151.5 188.5L154.3 188.1L157.1 187.7L159.8 187.3L162.6 186.8L165.4 186.4L168.2 186L171 185.6L173.8 185.2L176.6 184.8L179.3 184.3L182.1 183.9L184.9 183.5L187.7 183.1L190.5 182.7L193.3 182.2L196 181.8L198.8 181.4L201.6 181L204.4 180.6L207.2 180.1L210 179.7L212.8 179.3L215.5 178.9L218.3 178.5L221.1 178.1L223.9 177.6L226.7 177.2L229.5 176.8L232.2 176.4L235 176L237.8 175.5L240.6 175.1L243.4 174.7L246.2 174.3L249 173.9L251.7 173.4L254.5 173L257.3 172.6L260.1 172.2L262.9 171.8L265.7 171.3L268.5 170.9L271.2 170.5L274 170.1L276.8 169.7L279.6 169.3L282.4 168.8L285.2 168.4L287.9 168L290.7 167.6L293.5 167.2L296.3 166.7L299.1 166.3L301.9 165.9L304.7 165.5M136.8 189.3 L139.6 188.9L142.4 188.5L145.2 188L148 187.6L150.7 187.2L153.5 186.8L156.3 186.4L159.1 185.9L161.9 185.5L164.7 185.1L167.4 184.7L170.2 184.3L173 183.8L175.8 183.4L178.6 183L181.4 182.6L184.2 182.2L186.9 181.8L189.7 181.3L192.5 180.9L195.3 180.5L198.1 180.1L200.9 179.7L203.6 179.2L206.4 178.8L209.2 178.4L212 178L214.8 177.6L217.6 177.1L220.4 176.7L223.1 176.3L225.9 175.9L228.7 175.5L231.5 175L234.3 174.6L237.1 174.2L239.8 173.8L242.6 173.4L245.4 173L248.2 172.5L251 172.1L253.8 171.7L256.6 171.3L259.3 170.9L262.1 170.4L264.9 170L267.7 169.6L270.5 169.2L273.3 168.8L276 168.3L278.8 167.9L281.6 167.5L284.4 167.1L287.2 166.7L290 166.2L292.8 165.8L295.5 165.4L298.3 165L301.1 164.6M133.3 188.4 L136.1 188L138.8 187.5L141.6 187.1L144.4 186.7L147.2 186.3L150 185.9L152.8 185.4L155.5 185L158.3 184.6L161.1 184.2L163.9 183.8L166.7 183.4L169.5 182.9L172.3 182.5L175 182.1L177.8 181.7L180.6 181.3L183.4 180.8L186.2 180.4L189 180L191.7 179.6L194.5 179.2L197.3 178.7L200.1 178.3L202.9 177.9L205.7 177.5L208.5 177.1L211.2 176.7L214 176.2L216.8 175.8L219.6 175.4L222.4 175L225.2 174.6L227.9 174.1L230.7 173.7L233.5 173.3L236.3 172.9L239.1 172.5L241.9 172L244.7 171.6L247.4 171.2L250.2 170.8L253 170.4L255.8 169.9L258.6 169.5L261.4 169.1L264.2 168.7L266.9 168.3L269.7 167.9L272.5 167.4L275.3 167L278.1 166.6L280.9 166.2L283.6 165.8L286.4 165.3L289.2 164.9L292 164.5L294.8 164.1L297.6 163.7M129.7 187.5 L132.5 187.1L135.3 186.6L138.1 186.2L140.9 185.8L143.7 185.4L146.4 185L149.2 184.5L152 184.1L154.8 183.7L157.6 183.3L160.4 182.9L163.1 182.4L165.9 182L168.7 181.6L171.5 181.2L174.3 180.8L177.1 180.4L179.9 179.9L182.6 179.5L185.4 179.1L188.2 178.7L191 178.3L193.8 177.8L196.6 177.4L199.3 177L202.1 176.6L204.9 176.2L207.7 175.7L210.5 175.3L213.3 174.9L216.1 174.5L218.8 174.1L221.6 173.6L224.4 173.2L227.2 172.8L230 172.4L232.8 172L235.5 171.6L238.3 171.1L241.1 170.7L243.9 170.3L246.7 169.9L249.5 169.5L252.3 169L255 168.6L257.8 168.2L260.6 167.8L263.4 167.4L266.2 166.9L269 166.5L271.7 166.1L274.5 165.7L277.3 165.3L280.1 164.8L282.9 164.4L285.7 164L288.5 163.6L291.2 163.2L294 162.8L296.8 162M126.2 186.6 L129 186.1L131.8 185.7L134.5 185.3L137.3 184.9L140.1 184.5L142.9 184.1L145.7 183.6L148.5 183.2L151.2 182.8L154 182.4L156.8 182L159.6 181.5L162.4 181.1L165.2 180.7L168 180.3L170.7 179.9L173.5 179.4L176.3 179L179.1 178.6L181.9 178.2L184.7 177.8L187.4 177.3L190.2 176.9L193 176.5L195.8 176.1L198.6 175.7L201.4 175.3L204.2 174.8L206.9 174.4L209.7 174L212.5 173.6L215.3 173.2L218.1 172.7L220.9 172.3L223.6 171.9L226.4 171.5L229.2 171.1L232 170.6L234.8 170.2L237.6 169.8L240.4 169.4L243.1 169L245.9 168.5L248.7 168.1L251.5 167.7L254.3 167.3L257.1 166.9L259.9 166.5L262.6 166L265.4 165.6L268.2 165.2L271 164.8L273.8 164.4L276.6 163.9L279.3 163.5L282.1 163.1L284.9 162.7L287.7 162.3L290.5 161.8L293.3 161.2M122.6 185.7 L125.4 185.2L128.2 184.8L131 184.4L133.8 184L136.6 183.6L139.4 183.1L142.1 182.7L144.9 182.3L147.7 181.9L150.5 181.5L153.3 181L156.1 180.6L158.8 180.2L161.6 179.8L164.4 179.4L167.2 179L170 178.5L172.8 178.1L175.6 177.7L178.3 177.3L181.1 176.9L183.9 176.4L186.7 176L189.5 175.6L192.3 175.2L195 174.8L197.8 174.3L200.6 173.9L203.4 173.5L206.2 173.1L209 172.7L211.8 172.2L214.5 171.8L217.3 171.4L220.1 171L222.9 170.6L225.7 170.2L228.5 169.7L231.2 169.3L234 168.9L236.8 168.5L239.6 168.1L242.4 167.6L245.2 167.2L248 166.8L250.7 166.4L253.5 166L256.3 165.5L259.1 165.1L261.9 164.7L264.7 164.3L267.4 163.9L270.2 163.4L273 163L275.8 162.6L278.6 162.2L281.4 161.8L284.2 161.4L286.9 160.9L289.7 160.4M119.1 184.7 L121.9 184.3L124.7 183.9L127.5 183.5L130.2 183.1L133 182.7L135.8 182.2L138.6 181.8L141.4 181.4L144.2 181L146.9 180.6L149.7 180.1L152.5 179.7L155.3 179.3L158.1 178.9L160.9 178.5L163.7 178L166.4 177.6L169.2 177.2L172 176.8L174.8 176.4L177.6 175.9L180.4 175.5L183.1 175.1L185.9 174.7L188.7 174.3L191.5 173.9L194.3 173.4L197.1 173L199.9 172.6L202.6 172.2L205.4 171.8L208.2 171.3L211 170.9L213.8 170.5L216.6 170.1L219.3 169.7L222.1 169.2L224.9 168.8L227.7 168.4L230.5 168L233.3 167.6L236.1 167.1L238.8 166.7L241.6 166.3L244.4 165.9L247.2 165.5L250 165.1L252.8 164.6L255.6 164.2L258.3 163.8L261.1 163.4L263.9 163L266.7 162.5L269.5 162.1L272.3 161.7L275 161.3L277.8 160.9L280.6 160.4L283.4 160L286.2 159.5L289 158.9L291.8 158L294.5 157.2M115.6 183.8 L118.3 183.4L121.1 183L123.9 182.6L126.7 182.2L129.5 181.7L132.3 181.3L135.1 180.9L137.8 180.5L140.6 180.1L143.4 179.6L146.2 179.2L149 178.8L151.8 178.4L154.5 178L157.3 177.6L160.1 177.1L162.9 176.7L165.7 176.3L168.5 175.9L171.3 175.5L174 175L176.8 174.6L179.6 174.2L182.4 173.8L185.2 173.4L188 172.9L190.7 172.5L193.5 172.1L196.3 171.7L199.1 171.3L201.9 170.8L204.7 170.4L207.5 170L210.2 169.6L213 169.2L215.8 168.8L218.6 168.3L221.4 167.9L224.2 167.5L226.9 167.1L229.7 166.7L232.5 166.2L235.3 165.8L238.1 165.4L240.9 165L243.7 164.6L246.4 164.1L249.2 163.7L252 163.3L254.8 162.9L257.6 162.5L260.4 162L263.1 161.6L265.9 161.2L268.7 160.8L271.5 160.4L274.3 160L277.1 159.5L279.9 159.1L282.6 158.7L285.4 158.2L288.2 157.6L291 157M112 182.9 L114.8 182.5L117.6 182.1L120.4 181.7L123.2 181.3L125.9 180.8L128.7 180.4L131.5 180L134.3 179.6L137.1 179.2L139.9 178.7L142.6 178.3L145.4 177.9L148.2 177.5L151 177.1L153.8 176.6L156.6 176.2L159.4 175.8L162.1 175.4L164.9 175L167.7 174.5L170.5 174.1L173.3 173.7L176.1 173.3L178.8 172.9L181.6 172.5L184.4 172L187.2 171.6L190 171.2L192.8 170.8L195.6 170.4L198.3 169.9L201.1 169.5L203.9 169.1L206.7 168.7L209.5 168.3L212.3 167.8L215.1 167.4L217.8 167L220.6 166.6L223.4 166.2L226.2 165.7L229 165.3L231.8 164.9L234.5 164.5L237.3 164.1L240.1 163.7L242.9 163.2L245.7 162.8L248.5 162.4L251.3 162L254 161.6L256.8 161.1L259.6 160.7L262.4 160.3L265.2 159.9L268 159.5L270.7 159L273.5 158.6L276.3 158.2L279.1 157.8L281.9 157.4L284.7 156.9L287.5 156.5L290.2 156L293 155.6L295.8 155.2L298.6 154.8L301.4 154.3L304.2 153.9L306.2 153.6M108.5 182 L111.3 181.6L114 181.2L116.8 180.8L119.6 180.3L122.4 179.9L125.2 179.5L128 179.1L130.8 178.7L133.5 178.2L136.3 177.8L139.1 177.4L141.9 177L144.7 176.6L147.5 176.2L150.2 175.7L153 175.3L155.8 174.9L158.6 174.5L161.4 174.1L164.2 173.6L167 173.2L169.7 172.8L172.5 172.4L175.3 172L178.1 171.5L180.9 171.1L183.7 170.7L186.4 170.3L189.2 169.9L192 169.4L194.8 169L197.6 168.6L200.4 168.2L203.2 167.8L205.9 167.4L208.7 166.9L211.5 166.5L214.3 166.1L217.1 165.7L219.9 165.3L222.6 164.8L225.4 164.4L228.2 164L231 163.6L233.8 163.2L236.6 162.7L239.4 162.3L242.1 161.9L244.9 161.5L247.7 161.1L250.5 160.6L253.3 160.2L256.1 159.8L258.8 159.4L261.6 159L264.4 158.6L267.2 158.1L270 157.7L272.8 157.3L275.6 156.9L278.3 156.5L281.1 156L283.9 155.6L286.7 155.2L289.5 154.8L292.3 154.4L295 153.9L297.8 153.5L300.6 153.1L303.4 152.7L306.2 152.3L309 151.9L310.8 151.6M302.3 151 L303.4 150.8M303.7 150.7 L304.7 150.6L304.9 150.6M305.4 150.5 L307.5 150.2L308.2 150M308.6 150 L309.9 149.8M310.2 149.7 L311.5 149.5M311.9 149.5 L313 149.3L313.2 149.3M313.6 149.2 L314.9 149M315.3 149 L315.8 148.9L316.2 148.8"/>
<path class="f11" stroke="#353dad" d="M470.7 179.7 L473.5 179.2L476.2 178.7L479 178.2L481.8 177.7M498.5 175.3 L501.3 174.9L504.1 174.6L506.9 174.3M336.2 197.7 L339 197L341.8 196.3L344.6 195.6L347.4 195M358.5 193.5 L361.3 193.2L364.1 193L366.9 192.9L369.7 192.7L372.4 192.6L375.2 192.5L378 192.3M417 186.5 L419.8 185.9L422.6 185.3L425.4 184.7L428.1 184.1L430.9 183.5L433.7 183L436.5 182.5L439.3 182L442.1 181.6L444.8 181.2L447.6 180.8L450.4 180.5L453.2 180.1L456 179.8L458.8 179.5L461.6 179.2L464.3 178.9L467.1 178.6L469.9 178.3L472.7 177.9M495 174.4 L497.8 173.8L500.5 173.3L503.3 172.8L506.1 172.4M343.8 194.3 L346.6 193.8M357.8 192.1 L360.5 191.8L363.3 191.6L366.1 191.3L368.9 191.1M419 184.3 L421.8 183.7L424.6 183.1L427.4 182.6M463.6 177.7 L466.4 177.4L469.2 177.2L471.9 176.9M240 210.4 L242.8 210.2M415.5 183.3 L418.3 182.9L421.1 182.5L423.8 182.1L426.6 181.6M460 176.7 L462.8 176.3L465.6 175.9M233.7 208.8 L236.5 208.9L239.3 208.9L242.1 208.8M306.1 199 L308.9 198.3M398 183.2 L400.8 182.9L403.6 182.7L406.4 182.4L409.2 182.2L411.9 182L414.7 181.8L417.5 181.5L420.3 181.3L423.1 181.1L425.9 180.8L428.6 180.5L431.4 180.2M230.2 207 L233 207.3M414 180.4 L416.8 180.2L419.5 180L422.3 179.7M393.7 181.1 L396.5 180.9L399.3 180.7L402.1 180.4L404.9 180.1L407.6 179.7L410.4 179.4L413.2 179L416 178.6M297.5 192.8 L300.3 191.9M282.8 195.2 L285.6 194.4L288.4 193.6L291.2 192.7L294 191.9M282.1 193.7 L284.9 193L287.7 192.3M355 181.2 L355.2 181.2M355.9 181 L356.4 180.8M356.7 180.7 L357.1 180.6M477 163.6 L479.8 163.2L482.6 162.8M281.3 192.5 L284.1 192M331.5 184.6 L334.2 184.2L337 183.7L339.8 183.2M462.9 164.7 L465.1 164.3L467.9 163.7L470.7 163.2L473.5 162.6L476.3 162.1L479 161.5M322.3 185 L325.1 184.4L327.9 183.8L330.7 183.1L333.5 182.5L336.3 181.9L339 181.3L341.8 180.8L344.6 180.2L347.4 179.6L350.2 179L353 178.4M464.4 163.1 L467.1 162.5L469.9 161.9L472.7 161.3M327.2 182.3 L329.9 181.7L332.7 181L335.5 180.4M430.2 166.1 L433 165.8L435.8 165.4L438.5 165.1L441.3 164.7M460.8 162 L463.6 161.6L466.4 161.2L469.2 160.8L472 160.4M326.4 180.9 L329.2 180.4L332 179.9M414.8 167.5 L415.5 167.4L418.3 166.9L421.1 166.4L423.9 165.8L426.6 165.3M283.9 186.3 L286.7 185.7L289.4 185L292.2 184.4L295 183.7L297.8 183.2L300.6 182.6L303.4 182.2L306.1 181.8L308.9 181.4L311.7 181L314.5 180.7L317.3 180.4L320.1 180.1L322.9 179.8L325.6 179.6L328.4 179.3M381.3 170.8 L384.1 170.4L386.9 170L389.7 169.6L392.5 169.2M417.5 165.7 L420.3 165.2L423.1 164.7L425.9 164.2M280.3 185.4 L283.1 184.8L285.9 184.2L288.7 183.5L291.5 182.9M425.1 163.3 L427.9 163L430.7 162.7L431.6 162.5M432 162.5 L433.5 162.3L433.7 162.3M434 162.2 L435.3 162.1M435.9 162 L436.3 161.9L437.2 161.8M437.6 161.7 L438.9 161.6M439.4 161.5 L440.7 161.3M441.3 161.2 L441.8 161.1M455.8 159.1 L458.5 158.7L461.3 158.3M271.2 185.4 L274 184.9L276.8 184.4L279.6 183.9L282.4 183.5M342.9 173 L345.6 172.3L348.4 171.4M295.3 158.3 L298.1 157L300.9 155.8"/>
<path class="f11" stroke="#3243ba" d="M347.4 195 L350.2 194.5L353 194.1M346.6 193.8 L349.4 193.3L352.2 192.9L355 192.5L357.8 192.1M389.7 184.1 L392.4 183.8L395.2 183.5L398 183.2M227.4 206.8 L230.2 207M383.3 182.9 L386.1 182.7L388.9 182.5L391.7 182.3M321.3 190 L324.1 189.1M377 181.5 L379.8 181.5L382.6 181.5L385.4 181.5L388.1 181.4L390.9 181.3L393.7 181.1M315 190 L317.8 189.3L320.6 188.6L323.3 187.8M379 179.9 L381.8 179.9M300.3 191.9 L303.1 191.2L305.9 190.4L308.7 189.8L311.4 189.2M357.6 180.4 L358.8 180.1M359.2 180 L360.1 179.7L362.8 178.8M362.1 177.8 L364.9 177L367.7 176.1L370.4 175.3M353 178.4 L355.8 177.8L358.5 177.1L361.3 176.5L364.1 175.9M301.6 156.7 L304.4 154.9"/>
<path class="f11" stroke="#2c4ac7" d="M221.1 204.8 L223.9 204.9M324.1 189.1 L326.9 188.3L329.7 187.5M357.5 182.5 L360.3 182.2L363.1 182L365.9 181.8L368.7 181.7L371.4 181.6L374.2 181.6L377 181.5M376.3 179.9 L379 179.9M378.3 178 L381.1 177.8"/>
<path class="f11" stroke="#2053d4" d="M354.7 182.8 L357.5 182.5"/>
<path class="f11" stroke="#1389d3" d="M280.9 120.3 L281.2 122.7"/>
<path class="f11" stroke="#87bf77" d="M271 74.7 L273.8 85.4"/>
<path class="f11" stroke="#f5de21" d="M207.5 41.2 L210.3 40.8L213 40.4L215.8 39.9L218.6 39.5L221.4 39.1L224.2 38.7L227 38.3L229.8 37.8L232.5 37.4L235.3 37L238.1 36.6L240.9 36.2L243.7 35.7L246.5 35.3L249.2 34.9L252 34.5L254.8 34.1L257.6 33.7L260.4 33.2"/>
<path class="f11" stroke="#f5e41d" d="M76.6 58.8 L79.4 58"/>
<path class="f11" stroke="#f9fb0e" d="M96.1 48.7 L98.9 47.9"/>
<path class="f12" stroke="#363093" d="M246.6 219.6 L249.4 219.1L252.2 218.7L255 218.3L257.8 217.9L260.5 217.5L263.3 217.1L266.1 216.6L268.9 216.2L271.7 215.8L274.5 215.4L277.3 215L280 214.6L282.8 214.1L285.6 213.7L288.4 213.3L291.2 212.9L294 212.5L296.7 212L299.5 211.6L302.3 211.2L305.1 210.8L307.9 210.4L310.7 209.9L313.5 209.5L316.2 209L319 208.6L321.8 208.1L324.6 207.6L327.4 207.2L330.2 206.8L332.9 206.3L335.7 205.9L338.5 205.5L341.3 205.1L344.1 204.7L346.9 204.3L349.7 203.8L352.4 203.3L355.2 202.8L358 202.2L360.8 201.7L363.6 201.1L366.4 200.5M424.8 192 L427.6 191.8L430.4 191.5L433.2 191.2L436 190.9L438.8 190.5L441.5 190.1L444.3 189.6L447.1 189.2L449.9 188.7L452.7 188.1L455.5 187.6L458.3 187.1L461 186.5L463.8 185.9L466.6 185.4M243.1 218.1 L245.9 217.6L248.6 217.2L251.4 216.8L254.2 216.4L257 216L259.8 215.6L262.6 215.2L265.4 214.8L268.1 214.4L270.9 213.9L273.7 213.5L276.5 213.1L279.3 212.7L282.1 212.3L284.8 211.8L287.6 211.4L290.4 211L293.2 210.6L296 210.2L298.8 209.7L301.6 209.3L304.3 208.9L307.1 208.5L309.9 208.1L312.7 207.6L315.5 207.2L318.3 206.7L321 206.2L323.8 205.7L326.6 205.2L329.4 204.7M429.7 189.7 L432.4 189.4L435.2 189L438 188.7L440.8 188.3L443.6 187.8L446.4 187.3L449.1 186.8L451.9 186.3L454.7 185.7M290.9 152.2 L292.2 152M292.6 152 L292.8 152L295.6 151.2L298.3 150.1"/>
<path class="f12" stroke="#3637a0" d="M366.4 200.5 L369.1 199.9L371.9 199.3L374.7 198.7L377.5 198.1L380.3 197.5L383.1 196.9M466.6 185.4 L469.4 184.8L472.2 184.3L475 183.8L477.8 183.3L480.5 182.8L483.3 182.3L486.1 181.9L488.9 181.5L491.7 181L494.5 180.6L497.2 180.2L500 179.8L502.8 179.4L505.6 179.1L508.4 178.7L511.2 178.2L514 177.8L516.7 177.4M329.4 204.7 L332.2 204.1L335 203.6L337.8 203L340.5 202.5L343.3 201.9L346.1 201.4L348.9 200.9L351.7 200.4L354.5 199.9L357.3 199.4L360 199L362.8 198.5L365.6 198.1L368.4 197.7L371.2 197.2L374 196.8L376.7 196.3L379.5 195.9L382.3 195.4L385.1 195M415.7 191.1 L418.5 190.8L421.3 190.5L424.1 190.3L426.9 190L429.7 189.7M454.7 185.7 L457.5 185.1L460.3 184.5L463.1 183.9L465.9 183.2L468.6 182.6L471.4 182L474.2 181.4L477 180.8L479.8 180.3L482.6 179.8L485.3 179.3L488.1 178.9L490.9 178.5L493.7 178.1L496.5 177.8L499.3 177.5L502.1 177.2L504.8 176.9L507.6 176.7L510.4 176.4L513.2 176.2L516 175.9L518.8 175.7L521.5 175.4M239.5 216 L242.3 215.6L245.1 215.2L247.9 214.8L250.7 214.4L253.5 214L256.2 213.6L259 213.2L261.8 212.8L264.6 212.4L267.4 212L270.2 211.6L273 211.2L275.7 210.8L278.5 210.3L281.3 209.9L284.1 209.5L286.9 209.1L289.7 208.7L292.4 208.2L295.2 207.8L298 207.4L300.8 207L303.6 206.6L306.4 206.1L309.2 205.7L311.9 205.3L314.7 204.8L317.5 204.3L320.3 203.8L323.1 203.2L325.9 202.6L328.6 202L331.4 201.3L334.2 200.7L337 200M376 194.3 L378.8 194.1L381.6 193.8L384.3 193.5M415 188.9 L417.8 188.5L420.5 188L423.3 187.6L426.1 187.1L428.9 186.7L431.7 186.3L434.5 185.8L437.2 185.4L440 185L442.8 184.5L445.6 184.1L448.4 183.7L451.2 183.2L454 182.7L456.7 182.3L459.5 181.8L462.3 181.3L465.1 180.8M512.4 173.8 L515.2 173.5L518 173.3M236 214.3 L238.8 213.9L241.6 213.5M316.7 202.3 L319.5 201.7L322.3 201.1L325.1 200.5L327.9 199.8M380.8 192.2 L383.6 192L386.4 191.7L389.2 191.5L391.9 191.1L394.7 190.8L397.5 190.4L400.3 189.9L403.1 189.4L405.9 188.9L408.6 188.3L411.4 187.7L414.2 187.1M235.2 212.5 L238 212.2L240.8 212M313.2 201.1 L316 200.5L318.8 200M388.4 189.5 L391.2 189.2L394 188.8L396.7 188.5L399.5 188L402.3 187.6L405.1 187.1L407.9 186.6L410.7 186M474.7 176.5 L477.5 176.2L480.3 175.8L483.1 175.3L485.9 174.8M299.8 198.8 L302.6 198.1L305.4 197.3M430.7 178.9 L433.5 178.6L436.2 178.2L439 177.7L441.8 177.2L444.6 176.6M293.5 198.4 L296.3 197.7L299 197M287.1 197.9 L289.9 197.2L292.7 196.5M283.6 196.9 L286.4 196.1M293.7 188.4 L296.5 188L299.3 187.6L302.1 187.2L304.9 186.8L307.7 186.3L310.4 185.8L313.2 185.3L316 184.8L318.8 184.2L321.6 183.6M263.6 188.7 L266.4 188.2L269.2 187.7L272 187.2L274.8 186.6L277.5 186L280.3 185.4M347.2 176.3 L349.9 175.9L352.7 175.4L355.5 174.9L358.3 174.4L361.1 173.8L363.9 173.2L366.7 172.6L369.4 172M340.8 175.4 L343.6 175L346.4 174.6L349.2 174.1L352 173.6L354.8 173L357.5 172.4M438.3 160.4 L441.1 160.1L443.9 159.7L446.6 159.3L449.4 158.8L452.2 158.3L455 157.8M335.8 172.1 L338.6 170.7M329.4 171.8 L332.2 171L335 169.3M325.9 170.9 L328.7 170L331.5 167.9M322.4 170 L325.1 169L327.9 166.6M318.8 169.1 L321.6 168.1L324.4 165.4M315.3 168.2 L318.1 167.1L320.8 164.4M311.7 167.3 L314.5 166.2L317.3 163.5M308.2 166.4 L311 165.4L313.8 162.8M304.7 165.5 L307.4 164.5L310.2 162.1M301.1 164.6 L303.9 163.7L306.7 161.6M297.6 163.7 L300.4 162.9L303.1 161M296.8 162 L299.6 160.5M293.3 161.2 L296.1 160M289.7 160.4 L292.5 159.5L295.3 158.3M104.9 181.1 L107.7 180.6L110.5 180.2L113.3 179.8L116.1 179.4L118.9 179L121.6 178.5L124.4 178.1L127.2 177.7L130 177.3L132.8 176.9L135.6 176.4L138.3 176L141.1 175.6L143.9 175.2L146.7 174.8L149.5 174.3L152.3 173.9L155.1 173.5L157.8 173.1L160.6 172.7L163.4 172.3L166.2 171.8L169 171.4L171.8 171L174.5 170.6L177.3 170.2L180.1 169.7L182.9 169.3L185.7 168.9L188.5 168.5L191.3 168.1L194 167.6L196.8 167.2L199.6 166.8L202.4 166.4L205.2 166L208 165.6L210.8 165.1L213.5 164.7L216.3 164.3L219.1 163.9L221.9 163.5L224.7 163L227.5 162.6L230.2 162.2L233 161.8L235.8 161.4L238.6 160.9L241.4 160.5L244.2 160.1L247 159.7L249.7 159.3L252.5 158.9L255.3 158.4L258.1 158L260.9 157.6L263.7 157.2L266.4 156.8L269.2 156.3L272 155.9L274.8 155.5L277.6 155.1L280.4 154.7L283.2 154.2L285.9 153.8L288.7 153.4L291.5 153L294.3 152.6M293.2 152.3 L293.5 152.3M298.3 150.1 L301.1 149.4L303.9 148.9L306.7 148.5L309.5 148.1L312.3 147.6L315.1 147.2L317.8 146.8L320.6 146.4L322.1 146.2M288.7 149.6 L289.2 149.5L292 147.8L294.8 145.7"/>
<path class="f12" stroke="#353dad" d="M337 200 L339.8 199.3L342.6 198.6L345.4 198L348.1 197.4L350.9 196.9L353.7 196.4L356.5 196.1L359.3 195.7L362.1 195.5L364.8 195.2L367.6 195L370.4 194.8L373.2 194.5L376 194.3M465.1 180.8 L467.9 180.2L470.7 179.7M506.9 174.3 L509.7 174.1L512.4 173.8M327.9 199.8 L330.7 199.1L333.5 198.4L336.2 197.7M378 192.3 L380.8 192.2M506.1 172.4 L508.9 171.9L511.7 171.5L514.5 171M232.5 212.9 L235.2 212.5M318.8 200 L321.6 199.4L324.3 198.7L327.1 198.1L329.9 197.5L332.7 196.8L335.5 196.2L338.3 195.5L341.1 194.9L343.8 194.3M368.9 191.1 L371.7 190.9L374.5 190.7L377.3 190.5L380 190.3L382.8 190L385.6 189.8L388.4 189.5M410.7 186 L413.5 185.5L416.2 184.9L419 184.3M471.9 176.9 L474.7 176.5M485.9 174.8 L488.6 174.2L491.4 173.7L494.2 173L497 172.4L499.8 171.7L502.6 171.1L505.4 170.4L508.1 169.8L510.9 169.2M228.9 211.2 L231.7 210.9L234.5 210.6L237.3 210.5L240 210.4M312.4 199.3 L315.2 198.7L318 198L320.8 197.4L323.6 196.7L326.4 196.1L329.2 195.4L331.9 194.8L334.7 194.2L337.5 193.7M368.1 189.1 L370.9 188.8L373.7 188.5L376.5 188.1L379.3 187.8L382.1 187.5L384.9 187.2L387.6 186.8L390.4 186.5L393.2 186.2L396 185.8L398.8 185.5L401.6 185.1L404.3 184.8L407.1 184.4L409.9 184L412.7 183.7L415.5 183.3M465.6 175.9 L468.4 175.4L471.2 175L474 174.5L476.7 174L479.5 173.4L482.3 172.8L485.1 172.2L487.9 171.6L490.7 171L493.5 170.3L496.2 169.7M225.4 209.2 L228.2 208.9L230.9 208.8L233.7 208.8M308.9 198.3 L311.7 197.5L314.5 196.7L317.3 195.9L320 195.2L322.8 194.4M450.9 177.1 L453.7 176.5L456.5 175.8L459.3 175.1L462.1 174.4L464.9 173.7L467.6 172.9L470.4 172.2M305.4 197.3 L308.2 196.5L310.9 195.7L313.7 194.8L316.5 193.8M422.3 179.7 L425.1 179.5L427.9 179.2L430.7 178.9M444.6 176.6 L447.4 176L450.2 175.2L453 174.5L455.7 173.6L458.5 172.7L461.3 171.8M299 197 L301.8 196.3L304.6 195.4L307.4 194.6L310.2 193.7L313 192.7M416 178.6 L418.8 178.2L421.6 177.8L424.4 177.4L427.1 176.9L429.9 176.4L432.7 175.9L435.5 175.4L438.3 174.8L441.1 174.1L443.8 173.5L446.6 172.7M292.7 196.5 L295.5 195.7L298.3 194.9L301.1 194.1L303.9 193.2L306.6 192.4M393 179.8 L395.7 179.6L398.5 179.3L401.3 179L404.1 178.6L406.9 178.2L409.7 177.7L412.5 177.1L415.2 176.6L418 175.9L420.8 175.3M286.4 196.1 L289.2 195.3L292 194.5L294.7 193.6L297.5 192.8M339.8 183.2 L342.6 182.7L345.4 182.1L348.2 181.5L350.9 180.9L353.7 180.2L356.5 179.4L359.3 178.7M454.3 165 L456 164.7L458.8 164.2L461.6 163.7L464.4 163.1M321.6 183.6 L324.4 182.9L327.2 182.3M441.3 164.7 L444.1 164.3L446.9 164L449.7 163.6L452.5 163.2L455.2 162.8L458 162.4L460.8 162M290.2 186.9 L293 186.4L295.8 185.9L298.5 185.4L301.3 184.9L304.1 184.5L306.9 184L309.7 183.6L312.5 183.2L315.3 182.7L318 182.3L320.8 181.8L323.6 181.4L326.4 180.9M392.5 169.2 L395.3 168.8L398 168.5L400.8 168.1L403.6 167.8L406.4 167.4L409.2 167L412 166.6L414.7 166.1L417.5 165.7M369.4 172 L372.2 171.3L375 170.7L377.8 170L380.6 169.4L383.4 168.9L386.1 168.3L388.9 167.8L391.7 167.3L394.5 166.9L397.3 166.5L400.1 166.1L402.9 165.8L405.6 165.5L408.4 165.2L411.2 164.9L414 164.6L416.8 164.3L419.6 164L422.3 163.7L425.1 163.3M357.5 172.4 L360.3 171.7L363.1 171.1L365.9 170.5L368.7 169.9L371.5 169.3L374.2 168.7L377 168.1L379.8 167.5L382.6 166.9L385.4 166.4L388.2 165.9M407.7 163.1 L410.4 162.8L413.2 162.6L416 162.4L418.8 162.2L421.6 162L424.4 161.8L427.2 161.6L429.9 161.3L432.7 161.1L435.5 160.8L438.3 160.4M455 157.8 L457.8 157.2M348.4 171.4 L351.2 170.5L354 169.6M432 157.9 L434.8 157.6L437.5 157.2L440.3 156.8L443.1 156.4L445.9 156L448.7 155.6L451.5 155.1L454.2 154.6M342.1 171.5 L344.9 170.1L347.7 168.6M338.6 170.7 L341.3 168.8L344.1 166.7M335 169.3 L337.8 166.8M331.5 167.9 L334.3 164.9M327.9 166.6 L330.7 163.1M313.8 162.8 L316.5 159.1M310.2 162.1 L313 158.8M306.7 161.6 L309.5 158.6M303.1 161 L305.9 158.5M299.6 160.5 L302.4 158.5M296.1 160 L298.8 158.4L301.6 156.7M294.8 145.7 L297.6 144.5M41.2 163.6 L44 163.1L46.7 162.7L49.5 162.2L52.3 161.8L55.1 161.3L57.9 160.9L60.7 160.4L63.5 160L66.2 159.6L69 159.2L71.8 158.7L74.6 158.3L77.4 157.9L80.2 157.5L82.9 157.1L85.7 156.7L88.5 156.2L91.3 155.8L94.1 155.4L96.9 155"/>
<path class="f12" stroke="#3243ba" d="M337.5 193.7 L340.3 193.2L343.1 192.7L345.9 192.3L348.7 191.8L351.4 191.4L354.2 191L357 190.6L359.8 190.2L362.6 189.9L365.4 189.5L368.1 189.1M496.2 169.7 L499 169L501.8 168.4L504.6 167.7L507.4 167.1M322.8 194.4 L325.6 193.6L328.4 192.9L331.2 192.3L334 191.7L336.8 191.1L339.5 190.7L342.3 190.3L345.1 189.9L347.9 189.5L350.7 189.1L353.5 188.7L356.2 188.3L359 187.9L361.8 187.5L364.6 187.2L367.4 186.8L370.2 186.4L373 186.1L375.7 185.7L378.5 185.4L381.3 185.1L384.1 184.7L386.9 184.4L389.7 184.1M470.4 172.2 L473.2 171.4L476 170.6L478.8 169.9L481.6 169.2L484.3 168.5L487.1 167.9L489.9 167.2M221.8 207 L224.6 206.8L227.4 206.8M316.5 193.8 L319.3 192.9L322.1 192L324.9 191.1L327.6 190.3M372.2 183.7 L375 183.5L377.8 183.3L380.6 183.1L383.3 182.9M461.3 171.8 L464.1 170.9L466.9 169.9L469.7 169L472.4 168.1M313 192.7 L315.7 191.8L318.5 190.9L321.3 190M446.6 172.7 L449.4 172L452.2 171.2L455 170.4L457.8 169.5L460.6 168.7M306.6 192.4 L309.4 191.6L312.2 190.8L315 190M381.8 179.9 L384.6 179.9L387.4 179.9L390.2 179.9L393 179.8M420.8 175.3 L423.6 174.6L426.4 173.9L429.2 173.2L431.9 172.5L434.7 171.7L437.5 171L440.3 170.3M383.8 177.7 L386.6 177.6L389.4 177.5L392.2 177.3L395 177.1L397.8 176.8L400.6 176.5L403.3 176.1L406.1 175.6L408.9 175.1L411.7 174.5L414.5 173.9L417.3 173.2L420.1 172.5L422.8 171.7L425.6 170.9M359.3 178.7 L362.1 177.8M388.2 165.9 L391 165.4L393.7 164.9L396.5 164.5L399.3 164.1L402.1 163.7L404.9 163.4L407.7 163.1M354 169.6 L356.8 168.8L359.6 168.1L362.4 167.6L365.1 167.2L367.9 166.8L370.7 166.3L373.5 165.9L376.3 165.5L379.1 165.1L381.8 164.6L384.6 164.2L387.4 163.8L390.2 163.4L393 162.9L395.8 162.5L398.6 162.1L401.3 161.7L404.1 161.3L406.9 161L409.7 160.6L412.5 160.2L415.3 159.9L418 159.6L420.8 159.2L423.6 158.9L426.4 158.6L429.2 158.3L432 157.9M347.7 168.6 L350.5 167.1L353.2 165.8M344.1 166.7 L346.9 164.5M337.8 166.8 L340.6 164.1M334.3 164.9 L337 161.5M324.4 165.4 L327.2 161.6M320.8 164.4 L323.6 160.5M317.3 163.5 L320.1 159.7M309.5 158.6 L312.2 155.2M305.9 158.5 L308.7 155.7M302.4 158.5 L305.2 156.2M288 149.2 L288.7 150M297.6 144.5 L300.4 144L303.2 143.5L305.9 143.1L308.7 142.7L311.5 142.3L314.3 141.9L317.1 141.4L319.9 141L322.7 140.6L325.4 140.2L328.2 139.8L331 139.3L333.8 138.9L336.6 138.5L339.4 138.1L342.1 137.7L344.9 137.3L347.7 136.8L350.5 136.4L353.3 136L356.1 135.6L358.9 135.2L361.6 134.7L364.4 134.3L367.2 133.9L370 133.5L372.8 133.1M286.5 143.5 L288.5 141.4"/>
<path class="f12" stroke="#2c4ac7" d="M489.9 167.2 L492.7 166.7L495.5 166.1L498.3 165.6L501.1 165.2L503.8 164.7M327.6 190.3 L330.4 189.5L333.2 188.9L336 188.3L338.8 187.8L341.6 187.4L344.4 187L347.1 186.5L349.9 186.2L352.7 185.8L355.5 185.4L358.3 185.1L361.1 184.7L363.8 184.5L366.6 184.2L369.4 183.9L372.2 183.7M472.4 168.1 L475.2 167.2M218.3 205 L221.1 204.8M460.6 168.7 L463.3 167.9M440.3 170.3 L443.1 169.6L445.9 168.9M381.1 177.8 L383.8 177.7M425.6 170.9 L428.4 170.1M399.8 173.2 L402.6 172.8L405.4 172.4L408.2 171.9L410.9 171.5M353.2 165.8 L356 164.8M305.2 156.2 L307.9 153.9M101.4 175 L104.2 174.5L107 174.1L109.7 173.6L112.5 173.1L115.3 172.6L118.1 172.1L120.9 171.6L123.7 171.2L126.5 170.8L129.2 170.4L132 169.9L134.8 169.5L137.6 169.1L140.4 168.7L143.2 168.3L145.9 167.9L148.7 167.4L151.5 167L154.3 166.6L157.1 166.2L159.9 165.8L162.7 165.4L165.4 165L168.2 164.6L171 164.2L173.8 163.8L176.6 163.4L179.4 163L182.1 162.6L184.9 162.2L187.7 161.8L190.5 161.4L193.3 161L196.1 160.6L198.9 160.2L201.6 159.8L204.4 159.4L207.2 159L210 158.6L212.8 158.2L215.6 157.8L218.3 157.4L221.1 157L223.9 156.6L226.7 156.2L229.5 155.8L232.3 155.4L235.1 155L237.8 154.5L240.6 154.1L243.4 153.7L246.2 153.3L249 152.9L251.8 152.4L254.5 152L257.3 151.6L260.1 151.2L262.9 150.8L265.7 150.3L268.5 149.9L271.3 149.5L274 149.1L276.8 148.7L279.6 148.3L282.4 147.9L285.2 147.6L288 149.2M288.5 141.4 L291.3 138"/>
<path class="f12" stroke="#0f5cdd" d="M291.3 138 L294 136.4L296.8 135.7L299.6 135.3L302.4 134.9L305.2 134.4L308 134L310.8 133.6L313.5 133.2L316.3 132.8L319.1 132.3L321.9 131.9L324.7 131.5L327.5 131.1L330.2 130.7L333 130.2L335.8 129.8L338.6 129.4L341.4 129L344.2 128.6L347 128.1L349.7 127.7L352.5 127.3L355.3 126.9L358.1 126.5L360.9 126.1L363.7 125.6L366.4 125.2L369.2 124.8"/>
<path class="f12" stroke="#0363e1" d="M283.8 133.3 L284.9 131.5M44.7 154.6 L47.5 154.2L50.3 153.7L53.1 153.1L55.9 152.5L58.6 152L61.4 151.4L64.2 150.9L67 150.4L69.8 150L72.6 149.6L75.3 149.2L78.1 148.8L80.9 148.3L83.7 147.9L86.5 147.5L89.3 147.1L92.1 146.7L94.8 146.3L95.4 146.2"/>
<path class="f12" stroke="#046de0" d="M284.9 131.5 L287.7 126.9"/>
<path class="f12" stroke="#0d75dc" d="M97.8 159 L100.6 158.5L103.4 157.9L106.2 157.3L109 156.6M187 145.1 L189.7 144.8L192.5 144.5L195.3 144.1L198.1 143.8L200.9 143.4L203.7 143.1L206.5 142.7L209.2 142.4L212 142L214.8 141.6L217.6 141.3L220.4 140.9L223.2 140.5L225.9 140.1L228.7 139.7L231.5 139.3L234.3 138.8L237.1 138.4L239.9 138L242.7 137.6L245.4 137.2L248.2 136.8L251 136.3L253.8 135.9L256.6 135.5L259.4 135.1L262.1 134.7L264.9 134.2L267.7 133.8L270.5 133.4L273.3 133L276.1 132.6L278.9 132.2L281.6 132.1L284.4 136.9M287.7 126.9 L290.5 124.7"/>
<path class="f12" stroke="#1079da" d="M109 156.6 L111.8 155.9L114.6 155.2L117.3 154.7L120.1 154.2L122.9 153.8L125.7 153.3L128.5 152.9L131.3 152.5L134 152.1L136.8 151.7L139.6 151.3L142.4 150.9L145.2 150.5L148 150.1L150.8 149.7L153.5 149.3L156.3 148.9L159.1 148.6L161.9 148.2L164.7 147.9L167.5 147.5L170.2 147.2L173 146.8L175.8 146.5L178.6 146.1L181.4 145.8L184.2 145.5L187 145.1M290.5 124.7 L293.3 124L296.1 123.6L298.9 123.1L301.6 122.7L304.4 122.3L307.2 121.9L310 121.5L312.8 121L315.6 120.6L318.4 120.2L321.1 119.8L323.9 119.4L326.7 118.9L329.5 118.5L332.3 118.1L335.1 117.7L337.8 117.3L340.6 116.9L343.4 116.4L346.2 116L349 115.6L351.8 115.2L354.6 114.8L357.3 114.3L360.1 113.9L362.9 113.5L365.7 113.1M280.8 119.6 L281.4 118.4"/>
<path class="f12" stroke="#127dd8" d="M48.3 142.6 L51 142.1L53.8 141.5L56.6 140.8L59.4 140"/>
<path class="f12" stroke="#1481d6" d="M59.4 140 L62.2 139.3L65 138.6L67.7 138L70.5 137.5L73.3 137.1L76.1 136.7L78.9 136.3L81.7 135.9L84.5 135.4L87.2 135L90 134.6L92.8 134.2L93.2 134.1"/>
<path class="f12" stroke="#1485d4" d="M281.4 118.4 L284.2 112.6"/>
<path class="f12" stroke="#0c93d2" d="M284.2 112.6 L287 110.2"/>
<path class="f12" stroke="#0998d1" d="M287 110.2 L289.7 109.4L292.5 108.9L295.3 108.5L298.1 108.1L300.9 107.6L303.7 107.2L306.5 106.8L309.2 106.4L312 106L314.8 105.5L317.6 105.1L320.4 104.7L323.2 104.3L325.9 103.9L328.7 103.4L331.5 103L334.3 102.6L337.1 102.2L339.9 101.8L342.7 101.4L345.4 100.9L348.2 100.5L351 100.1L353.8 99.7L356.6 99.3L359.4 98.8L362.1 98.4M277.5 103.5 L277.9 102.7"/>
<path class="f12" stroke="#079ccf" d="M202.9 123.3 L205.7 123L208.5 122.7L211.3 122.4L214 122L216.8 121.7L219.6 121.3L222.4 121L225.2 120.6L228 120.1L230.8 119.7L233.5 119.3L236.3 118.9L239.1 118.5L241.9 118.1L244.7 117.6L247.5 117.2L250.2 116.8L253 116.4L255.8 116L258.6 115.5L261.4 115.1L264.2 114.7L267 114.3L269.7 113.9L272.5 113.4L275.3 113L278.1 112.9L280.9 120.3M51.8 130.5 L54.6 129.9L57.4 129.2L60.2 128.4L62.9 127.5L65.7 126.7L68.5 125.8"/>
<path class="f12" stroke="#06a0cd" d="M94.3 139.5 L97.1 139L99.9 138.3L102.7 137.4L105.4 136.5L108.2 135.6L111 134.8M163.9 127.2 L166.7 127L169.5 126.7L172.3 126.4L175.1 126.1L177.8 125.9L180.6 125.6L183.4 125.3L186.2 125L189 124.8L191.8 124.5L194.6 124.2L197.3 123.9L200.1 123.6L202.9 123.3M68.5 125.8 L71.3 125.1L74.1 124.6L76.9 124.2L79.6 123.8L82.4 123.4L85.2 122.9L88 122.5L90.8 122.1L91 122.1"/>
<path class="f12" stroke="#06a4ca" d="M111 134.8 L113.8 134.1L116.6 133.5L119.4 133.1L122.2 132.7L124.9 132.3L127.7 131.9L130.5 131.4L133.3 131L136.1 130.6L138.9 130.2L141.6 129.8L144.4 129.5L147.2 129.1L150 128.8L152.8 128.5L155.6 128.1L158.4 127.8L161.1 127.5L163.9 127.2M277.9 102.7 L280.6 96.4"/>
<path class="f12" stroke="#07a9c2" d="M277.3 103.2 L277.5 104.7M277.5 105.1 L277.5 105.4"/>
<path class="f12" stroke="#0aacbe" d="M280.6 96.4 L283.4 93.7"/>
<path class="f12" stroke="#0faeb9" d="M283.4 93.7 L286.2 92.9M55.3 118.4 L58.1 117.8L60.9 117L63.7 116.1"/>
<path class="f12" stroke="#15b1b4" d="M286.2 92.9 L289 92.4L291.8 92L294.6 91.6L297.3 91.2L300.1 90.7L302.9 90.3L305.7 89.9L308.5 89.5L311.3 89.1L314.1 88.7L316.8 88.2L319.6 87.8L322.4 87.4L325.2 87L328 86.6L330.8 86.1L333.5 85.7L336.3 85.3L339.1 84.9L341.9 84.5L344.7 84L347.5 83.6L350.3 83.2L353 82.8L355.8 82.4L358.6 81.9M274 86.6 L274.3 86M63.7 116.1 L66.5 115L69.3 114L72 113.1"/>
<path class="f12" stroke="#1db3af" d="M72 113.1 L74.8 112.3L77.6 111.7L80.4 111.3L83.2 110.9L86 110.5L88.8 110L88.9 110"/>
<path class="f12" stroke="#25b5a9" d="M210.5 102.8 L213.3 102.5L216.1 102.2L218.9 101.8L221.6 101.4L224.4 101L227.2 100.6L230 100.2L232.8 99.8L235.6 99.4L238.4 98.9L241.1 98.5L243.9 98.1L246.7 97.7L249.5 97.3L252.3 96.8L255.1 96.4L257.8 96L260.6 95.6L263.4 95.2L266.2 94.7L269 94.3L271.8 93.9L274.6 93.8L277.3 103.2"/>
<path class="f12" stroke="#2eb7a4" d="M90.8 120.1 L93.5 119.5L96.3 118.6L99.1 117.6L101.9 116.5M179.9 105.5 L182.7 105.3L185.4 105.1L188.2 104.9L191 104.7L193.8 104.4L196.6 104.2L199.4 104L202.2 103.7L204.9 103.4L207.7 103.1L210.5 102.8M274.3 86 L277.1 79.7"/>
<path class="f12" stroke="#38b99e" d="M101.9 116.5 L104.7 115.4L107.5 114.3L110.3 113.5M149.2 108 L152 107.7L154.8 107.5L157.6 107.2L160.4 107L163.2 106.8L166 106.5L168.7 106.3L171.5 106.1L174.3 105.9L177.1 105.7L179.9 105.5"/>
<path class="f12" stroke="#42bb98" d="M110.3 113.5 L113 112.9L115.8 112.5L118.6 112.1L121.4 111.6L124.2 111.2L127 110.8L129.7 110.4L132.5 110L135.3 109.6L138.1 109.2L140.9 108.9L143.7 108.6L146.5 108.3L149.2 108"/>
<path class="f12" stroke="#4dbc92" d="M273.8 85.4 L273.9 86.6M277.1 79.7 L279.9 77.1M58.9 106.3 L61.7 105.7L64.5 104.8L67.2 103.7L70 102.6"/>
<path class="f12" stroke="#59bd8c" d="M279.9 77.1 L282.7 76.3L285.4 75.9L288.2 75.4L291 75L293.8 74.6L296.6 74.2L299.4 73.8L302.2 73.3L304.9 72.9L307.7 72.5L310.5 72.1L313.3 71.7L316.1 71.2L318.9 70.8L321.6 70.4L324.4 70L327.2 69.6L330 69.2L332.8 68.7L335.6 68.3L338.4 67.9L341.1 67.5L343.9 67.1L346.7 66.6L349.5 66.2L352.3 65.8L355.1 65.4M70 102.6 L72.8 101.4L75.6 100.3L78.4 99.4"/>
<path class="f12" stroke="#65be86" d="M78.4 99.4 L81.2 98.8L83.9 98.4L86.7 98"/>
<path class="f12" stroke="#87bf77" d="M212.5 83 L215.3 82.7L218.1 82.3L220.9 81.9L223.7 81.5L226.5 81.1L229.2 80.6L232 80.2L234.8 79.8L237.6 79.4L240.4 79L243.2 78.6L245.9 78.1L248.7 77.7L251.5 77.3L254.3 76.9L257.1 76.5L259.9 76L262.7 75.6L265.4 75.2L268.2 74.8L271 74.7M270.9 69.7 L273.6 64.6"/>
<path class="f12" stroke="#92bf73" d="M87.2 100.6 L90 100L92.8 99M184.7 85.3 L187.5 85.1L190.3 84.9L193 84.8L195.8 84.6L198.6 84.4L201.4 84.1L204.2 83.9L207 83.6L209.7 83.3L212.5 83M62.4 94.2 L65.2 93.6L68 92.6"/>
<path class="f12" stroke="#9cbf6f" d="M92.8 99 L95.6 97.8L98.4 96.4L101.1 95.1M165.2 86.2 L168 86.1L170.8 86L173.5 85.8L176.3 85.7L179.1 85.6L181.9 85.4L184.7 85.3M273.6 64.6 L276.3 62.5M68 92.6 L70.8 91.4L73.6 90.1L76.3 88.7"/>
<path class="f12" stroke="#a5be6b" d="M101.1 95.1 L103.9 93.9L106.7 92.9M140.1 88 L142.9 87.8L145.7 87.5L148.5 87.3L151.3 87.1L154.1 86.9L156.8 86.7L159.6 86.6L162.4 86.4L165.2 86.2M270.3 67.1 L270.4 68.5M276.3 62.5 L279.1 61.8L281.9 61.3L284.7 60.9L287.5 60.5L290.3 60L293 59.6L295.8 59.2L298.6 58.8L301.4 58.4L304.2 58L307 57.5L309.8 57.1L312.5 56.7L315.3 56.3L318.1 55.9L320.9 55.4L323.7 55L326.5 54.6L329.2 54.2L332 53.8L334.8 53.3L337.6 52.9L340.4 52.5L343.2 52.1L346 51.7L348.7 51.2L351.5 50.8M76.3 88.7 L79.1 87.5L81.9 86.5"/>
<path class="f12" stroke="#aebe67" d="M106.7 92.9 L109.5 92.3L112.3 91.8L115.1 91.4L117.9 91L120.6 90.6L123.4 90.2L126.2 89.7L129 89.3L131.8 89L134.6 88.6L137.3 88.3L140.1 88M81.9 86.5 L84.4 86"/>
<path class="f12" stroke="#c0bc60" d="M268.1 56 L270 53.4"/>
<path class="f12" stroke="#c8bc5d" d="M270 53.4 L272.8 52"/>
<path class="f12" stroke="#d1bb59" d="M272.8 52 L275.6 51.4L278.4 50.9L281.1 50.5L283.9 50.1L286.7 49.7L289.5 49.2L292.3 48.8L295.1 48.4L297.9 48L300.6 47.6L303.4 47.2L306.2 46.7L309 46.3L311.8 45.9L314.6 45.5L317.3 45.1L320.1 44.6L322.9 44.2L325.7 43.8L328.5 43.4L331.3 43L334.1 42.5L336.8 42.1L339.6 41.7L342.4 41.3L345.2 40.9L348 40.4M66 82.1 L68.8 81.5L71.5 80.4L74.3 79"/>
<path class="f12" stroke="#d9ba56" d="M74.3 79 L77.1 77.6L79.9 76.1M266.3 48 L266.5 47.9"/>
<path class="f12" stroke="#e1b952" d="M83.7 81.1 L86.5 80.5M189.5 65.3 L192.3 65.2L195.1 65L197.9 64.9L200.6 64.6L203.4 64.4L206.2 64.2L209 63.9L211.8 63.5L214.6 63.2L217.3 62.8L220.1 62.4L222.9 61.9L225.7 61.5L228.5 61.1L231.3 60.7L234.1 60.3L236.8 59.9L239.6 59.4L242.4 59L245.2 58.6L248 58.2L250.8 57.8L253.5 57.3L256.3 56.9L259.1 56.5L261.9 56.1L264.7 55.7L267.5 55.6M79.9 76.1 L82.2 75"/>
<path class="f12" stroke="#e9b94e" d="M86.5 80.5 L89.2 79.3L92 77.9L94.8 76.4M172.8 65.9 L175.6 65.8L178.4 65.7L181.1 65.6L183.9 65.6L186.7 65.4L189.5 65.3M266.8 50.9 L266.8 51.2"/>
<path class="f12" stroke="#f1b94a" d="M94.8 76.4 L97.6 74.8M156.1 66.3 L158.9 66.3L161.7 66.2L164.4 66.1L167.2 66L170 65.9L172.8 65.9"/>
<path class="f12" stroke="#f8bb44" d="M97.6 74.8 L100.4 73.4L103.2 72.3L106 71.6M128.2 68.3 L131 68L133.8 67.7L136.6 67.5L139.4 67.2L142.2 67L144.9 66.9L147.7 66.7L150.5 66.6L153.3 66.5L156.1 66.3"/>
<path class="f12" stroke="#fdbe3d" d="M106 71.6 L108.7 71.2L111.5 70.8L114.3 70.4L117.1 69.9L119.9 69.5L122.7 69.1L125.4 68.7L128.2 68.3M69.5 70.1 L72.3 69.4L75.1 68.2"/>
<path class="f12" stroke="#ffc337" d="M75.1 68.2 L77.9 66.7L80.2 65.3"/>
<path class="f12" stroke="#fcce2e" d="M197.1 48.5 L199.9 48.3L202.7 48.1L205.4 47.8L208.2 47.5L211 47.2L213.8 46.8L216.6 46.4L219.4 46L222.2 45.5L224.9 45.1L227.7 44.7L230.5 44.3L233.3 43.9L236.1 43.4L238.9 43L241.6 42.6L244.4 42.2L247.2 41.8L250 41.3L252.8 40.9L255.6 40.5L258.4 40.1L261.1 39.7L263.9 39.4L264.7 42.4M264.8 42.8 L265 43.4M265 43.8 L266.7 50.2"/>
<path class="f12" stroke="#fad32a" d="M80.1 64.9 L82.9 64.1L85.7 62.9M180.4 49.2 L183.2 49.1L186 49.1L188.7 49L191.5 48.9L194.3 48.7L197.1 48.5"/>
<path class="f12" stroke="#f7d826" d="M85.7 62.9 L88.5 61.3L91.3 59.6M166.5 49.3 L169.2 49.3L172 49.3L174.8 49.3L177.6 49.2L180.4 49.2M73.1 61.1 L75.8 60.4L77.1 59.8"/>
<path class="f12" stroke="#f5de21" d="M91.3 59.6 L94.1 57.9M152.5 49.4 L155.3 49.4L158.1 49.4L160.9 49.4L163.7 49.3L166.5 49.3M188 42.8 L190.8 42.7L193.6 42.5L196.3 42.3L199.1 42.1L201.9 41.8L204.7 41.5L207.5 41.2M260.4 33.2 L260.8 34.4"/>
<path class="f12" stroke="#f5e41d" d="M94.1 57.9 L96.8 56.3L99.6 55.1M133 50.3 L135.8 50.1L138.6 49.9L141.4 49.8L144.2 49.7L147 49.6L149.8 49.5L152.5 49.4M171.3 43.1 L174.1 43.1L176.8 43.1L179.6 43L182.4 43L185.2 42.9L188 42.8"/>
<path class="f12" stroke="#f5eb18" d="M99.6 55.1 L102.4 54.4L105.2 53.9L108 53.5L110.8 53.1L113.6 52.7L116.3 52.3L119.1 51.9L121.9 51.5L124.7 51.1L127.5 50.8L130.3 50.5L133 50.3M160.1 43.1 L162.9 43.1L165.7 43.1L168.5 43.1L171.3 43.1"/>
<path class="f12" stroke="#f6f313" d="M143.4 43.2 L146.2 43.2L149 43.1L151.8 43.1L154.6 43.1L157.4 43.1L160.1 43.1"/>
<path class="f12" stroke="#f9fb0e" d="M98.9 47.9 L101.7 47.5L104.4 47.1L107.2 46.7L110 46.2L112.8 45.8L115.6 45.4L118.4 45L121.1 44.7L123.9 44.4L126.7 44.1L129.5 43.9L132.3 43.7L135.1 43.5L137.9 43.4L140.6 43.3L143.4 43.2"/>
<path class="f13" stroke="#2c4ac7" d="M475.2 167.2 L478 166.5L480.8 165.7L483.6 165.1L486.4 164.5L489.2 164M497.5 162.8 L500.3 162.5M463.3 167.9 L466.1 167.1L468.9 166.4L471.7 165.7L474.5 165L477.3 164.4L480 163.9M445.9 168.9 L448.7 168.2L451.4 167.6L454.2 167L457 166.5L459.8 166L462.6 165.6L465.4 165.3L468.1 165L470.9 164.7L473.7 164.4L474.8 164.3M475.6 164.2 L476.5 164.2L477.1 164.1M478.2 164 L479.3 163.9L479.5 163.9M480.6 163.7 L481.1 163.7M428.4 170.1 L431.2 169.4L434 168.6L436.8 167.9L439.5 167.2L442.3 166.6M453.5 165.1 L456.3 164.9L459 164.8L461.8 164.8L464.6 164.8M374.7 176.6 L377.5 176L380.3 175.6L383.1 175.2L385.9 174.8L388.7 174.5L391.4 174.2L394.2 173.8L397 173.5L399.8 173.2M410.9 171.5 L413.7 171L416.5 170.4L419.3 169.9L422.1 169.3L424.9 168.7L427.6 168.1L430.4 167.5L433.2 167L436 166.5L438.8 166.1L441.6 165.8L444.4 165.5L447.1 165.3M448.4 165.2 L449.9 165.2L451.4 165.1M374 175.3 L376.8 174.5L379.5 173.8L382.3 173.2L385.1 172.6L387.9 172M404.6 169.6 L407.4 169.2L410.2 168.9L413 168.6L415.8 168.3L418.5 168L421.3 167.8L424.1 167.5L426.9 167.3L427.4 167.3M427.8 167.2 L429.7 167.1L430.2 167.1M431.7 167 L432.5 167M376 173.7 L378.8 172.9L381.6 172.2L384.4 171.5L387.1 170.9L389.9 170.4L392.7 169.8M403.9 168.3 L406.6 168L409.4 167.8L412.2 167.6L415 167.5L417.8 167.4L420.6 167.3M356 164.8 L358.8 164.2L361.6 163.8L364.4 163.5L367.2 163.1L369.9 162.7L372.7 162.3L375.5 162L378.3 161.6L381.1 161.2L383.9 160.8L386.7 160.4L389.4 160L392.2 159.6L395 159.2L397.8 158.8L400.6 158.4L403.4 158L406.1 157.5L408.9 157.1L411.7 156.7L414.5 156.2L417.3 155.8L420.1 155.4L422.9 154.9L425.6 154.5L428.4 154L431.2 153.6L434 153.2L436.8 152.8L439.6 152.3L442.3 151.9L445.1 151.5L447.9 151.1L450.7 150.6M346.9 164.5 L349.7 162.6M340.6 164.1 L343.4 161.3M330.7 163.1 L333.5 159.1M327.2 161.6 L330 157.2M323.6 160.5 L326.4 156M320.1 159.7 L322.9 155.3M316.5 159.1 L319.3 155M313 158.8 L315.8 155M308.7 155.7 L311.5 152.8M307.9 153.9 L310.7 151.8M307.2 153.3 L307.7 153.1M308 153 L308.2 152.9M309.2 152.5 L309.5 152.3M309.8 152.2 L310 152.1"/>
<path class="f13" stroke="#2053d4" d="M489.2 164 L491.9 163.6L494.7 163.2L497.5 162.8M480 163.9 L482.8 163.4L485.6 163L488.4 162.6L491.2 162.2L494 161.9L496.8 161.5M442.3 166.6 L445.1 166.1L447.9 165.7L450.7 165.3L453.5 165.1M387.9 172 L390.7 171.5L393.5 171.1L396.3 170.6L399 170.3L401.8 169.9L404.6 169.6M392.7 169.8 L395.5 169.4L398.3 169L401.1 168.6L403.9 168.3M349.7 162.6 L352.5 161.2L355.3 160.6L358.1 160.1L360.8 159.7L363.6 159.3L366.4 158.9L369.2 158.5L372 158L374.8 157.6L377.5 157.2L380.3 156.8L383.1 156.4L385.9 155.9L388.7 155.5L391.5 155.1L394.3 154.7L397 154.3L399.8 153.9L402.6 153.4L405.4 153L408.2 152.6L411 152.2L413.7 151.8L416.5 151.3L419.3 150.9L422.1 150.5L424.9 150.1L427.7 149.7L430.5 149.2L433.2 148.8L436 148.4L438.8 148L441.6 147.6L444.4 147.1L447.2 146.7M343.4 161.3 L346.2 158.9M337 161.5 L339.8 158.1M315.8 155 L318.6 151.1M312.2 155.2 L315 151.8M311.5 152.8 L314.3 150.3M310.7 151.8 L312.9 150.7"/>
<path class="f13" stroke="#0f5cdd" d="M346.2 158.9 L348.9 157.1M339.8 158.1 L342.6 155.1M333.5 159.1 L336.3 155.1M330 157.2 L332.7 152.9M326.4 156 L329.2 151.5M322.9 155.3 L325.7 150.9M319.3 155 L322.1 150.8M315 151.8 L317.8 148.9"/>
<path class="f13" stroke="#0363e1" d="M348.9 157.1 L351.7 156.3L354.5 155.9L357.3 155.5L360.1 155.1L362.9 154.6L365.6 154.2L368.4 153.8L371.2 153.4L374 153L376.8 152.5L379.6 152.1L382.4 151.7L385.1 151.3L387.9 150.9L390.7 150.4L393.5 150L396.3 149.6L399.1 149.2L401.8 148.8L404.6 148.3L407.4 147.9L410.2 147.5L413 147.1L415.8 146.7L418.6 146.3L421.3 145.8L424.1 145.4L426.9 145L429.7 144.6L432.5 144.2L435.3 143.7L438.1 143.3L440.8 142.9L443.6 142.5M318.6 151.1 L321.4 147.8M314.3 150.3 L317.1 148.5L317.4 148.4"/>
<path class="f13" stroke="#0268e1" d="M342.6 155.1 L345.4 153M336.3 155.1 L339.1 151.6M332.7 152.9 L335.5 149.1M329.2 151.5 L332 147.6M325.7 150.9 L328.4 147.1M322.1 150.8 L324.9 147.1M317.8 148.9 L320.6 146.8"/>
<path class="f13" stroke="#046de0" d="M345.4 153 L348.2 152.1L351 151.6L353.8 151.2L356.5 150.8L359.3 150.4L362.1 150L364.9 149.5L367.7 149.1L370.5 148.7L373.2 148.3L376 147.9L378.8 147.5L381.6 147L384.4 146.6L387.2 146.2L390 145.8L392.7 145.4L395.5 144.9L398.3 144.5L401.1 144.1L403.9 143.7L406.7 143.3L409.4 142.8L412.2 142.4L415 142L417.8 141.6L420.6 141.2L423.4 140.7L426.2 140.3L428.9 139.9L431.7 139.5L434.5 139.1L437.3 138.7L440.1 138.2M339.1 151.6 L341.9 149.1M324.9 147.1 L327.7 144.6M321.4 147.8 L324.1 145.4M320.6 146.8 L321.1 146.6"/>
<path class="f13" stroke="#0871de" d="M341.9 149.1 L344.6 148.1L347.4 147.7L350.2 147.3L353 146.9L355.8 146.4L358.6 146L361.3 145.6L364.1 145.2L366.9 144.8L369.7 144.3L372.5 143.9L375.3 143.5L378.1 143.1L380.8 142.7L383.6 142.3L386.4 141.8L389.2 141.4L392 141L394.8 140.6L397.5 140.2L400.3 139.7L403.1 139.3L405.9 138.9L408.7 138.5L411.5 138.1L414.3 137.6L417 137.2L419.8 136.8L422.6 136.4L425.4 136L428.2 135.5L431 135.1L433.8 134.7L436.5 134.3M335.5 149.1 L338.3 146.4M332 147.6 L334.8 144.9M328.4 147.1 L331.2 144.4M324.1 145.4 L326.4 144.6M326.8 144.5 L326.9 144.4L327.1 144.4"/>
<path class="f13" stroke="#0d75dc" d="M338.3 146.4 L341.1 145.4L343.9 144.9L346.7 144.5L349.5 144.1L352.2 143.7L355 143.3L357.8 142.8L360.6 142.4L363.4 142L366.2 141.6L368.9 141.2L371.7 140.7L374.5 140.3L377.3 139.9L380.1 139.5L382.9 139.1L385.7 138.7L388.4 138.2L391.2 137.8L394 137.4L396.8 137L399.6 136.6L402.4 136.1L405.1 135.7L407.9 135.3L410.7 134.9L413.5 134.5L416.3 134L419.1 133.6L421.9 133.2L424.6 132.8L427.4 132.4L430.2 131.9L433 131.5M334.8 144.9 L337.6 143.8M331.2 144.4 L334 143.3L336.8 142.9L339.6 142.5L342.4 142.1L345.2 141.6L347.9 141.2L350.7 140.8L353.5 140.4L356.3 140L359.1 139.5L361.9 139.1L364.6 138.7L367.4 138.3L370.2 137.9L373 137.4L375.8 137L378.6 136.6L381.4 136.2L384.1 135.8L386.9 135.3L389.7 134.9L392.5 134.5L395.3 134.1L398.1 133.7L400.8 133.3L403.6 132.8L406.4 132.4L409.2 132L412 131.6L414.8 131.2L417.6 130.7L420.3 130.3L423.1 129.9L425.9 129.5M327.7 144.6 L330.5 143.5L332 143.3M332.5 143.2 L333.3 143.1L333.6 143.1M334.2 143 L335.1 142.8M335.9 142.7 L336 142.7L337 142.6M337.5 142.5 L338.5 142.3M339.2 142.2 L340.1 142.1M340.9 142 L341.6 141.9L342 141.8M342.5 141.7 L343.5 141.6M344.2 141.5 L344.4 141.4L345.1 141.3M345.7 141.2 L347 141.1M347.4 141 L348.5 140.8M349 140.7 L350 140.6L350.1 140.6M350.7 140.5 L351.8 140.3M352.4 140.2 L352.7 140.2L353.5 140.1M354 140 L355.2 139.8M355.7 139.7 L356.8 139.6M357.4 139.5 L358.3 139.4M359.1 139.2 L360.2 139.1M360.7 139 L361.1 138.9L361.8 138.8M362.4 138.7 L363.3 138.6M364.1 138.5 L365.2 138.3M365.7 138.2 L366.7 138.1M367.4 138 L368.3 137.8M369.1 137.7 L369.5 137.7L370.2 137.6M370.8 137.5 L371.7 137.3M372.4 137.2 L373.4 137.1M374.1 137 L375 136.8L375.2 136.8M375.8 136.7 L376.7 136.6M377.4 136.5 L377.8 136.4L378.4 136.3M378.9 136.2 L380.2 136.1M380.6 136 L381.7 135.8M382.3 135.7 L383.4 135.6M383.9 135.5 L385.1 135.3M385.6 135.2 L386.2 135.2L386.7 135.1M387.3 135 L388.4 134.8M388.9 134.7 L390.1 134.6M390.6 134.5 L391.7 134.3M392.3 134.2 L393.4 134.1M394 134 L394.5 133.9L394.9 133.8M395.6 133.7 L396.7 133.6M397.3 133.5 L398.4 133.3M399 133.2 L399.9 133.1M400.6 133 L401.6 132.8M402.3 132.7 L402.9 132.6L403.4 132.6M404 132.5 L404.9 132.3M405.7 132.2 L406.6 132.1M407.3 132 L408.4 131.8M409 131.7 L409.9 131.6M410.7 131.5 L411.2 131.4L411.6 131.3M412.2 131.2 L413.3 131.1M413.8 131 L414 131L414.9 130.8M415.5 130.7 L416.6 130.6M417.2 130.5 L418.3 130.3M418.8 130.2 L419.6 130.1L420 130.1M420.5 130 L421.6 129.8M422.2 129.7 L422.4 129.7"/>
<path class="f13" stroke="#1079da" d="M337.6 143.8 L340.3 143.4L343.1 143L345.9 142.6L348.7 142.2L351.5 141.7L354.3 141.3L357 140.9L359.8 140.5L362.6 140.1L365.4 139.6L368.2 139.2L371 138.8L373.8 138.4L376.5 138L379.3 137.5L382.1 137.1L384.9 136.7L387.7 136.3L390.5 135.9L393.2 135.4L396 135L398.8 134.6L401.6 134.2L404.4 133.8L407.2 133.4L410 132.9L412.7 132.5L415.5 132.1L418.3 131.7L421.1 131.3L423.9 130.8L426.7 130.4L429.5 130"/>
</g>
<path fill="none" stroke="#8c8c8c" stroke-width="0.75" d="M34.09 165.03 L34.09 44.87M246.62 219.58 L525.09 177.68M246.62 219.58 L34.09 165.03M246.62 219.58 L253.4 221.32M274.47 215.39 L281.25 217.13M302.31 211.2 L309.09 212.94M330.16 207.01 L336.94 208.75M358.01 202.82 L364.79 204.56M385.86 198.63 L392.64 200.37M413.7 194.44 L420.48 196.18M441.55 190.25 L448.33 191.99M469.4 186.06 L476.18 187.8M497.24 181.87 L504.02 183.61M525.09 177.68 L531.87 179.42M246.62 219.58 L239.7 220.62M175.78 201.4 L168.85 202.44M104.93 183.21 L98.01 184.25M34.09 165.03 L27.17 166.07M34.09 165.03 L27.31 163.29M34.09 134.99 L27.31 133.25M34.09 104.95 L27.31 103.21M34.09 74.91 L27.31 73.17M34.09 44.87 L27.31 43.13"/>
<text x="257.02" y="234.44" font-size="11.6">0</text>
<text x="284.87" y="230.25" font-size="11.6">5</text>
<text x="312.71" y="226.06" font-size="11.6">10</text>
<text x="340.56" y="221.87" font-size="11.6">15</text>
<text x="368.41" y="217.68" font-size="11.6">20</text>
<text x="396.25" y="213.49" font-size="11.6">25</text>
<text x="424.1" y="209.3" font-size="11.6">30</text>
<text x="451.95" y="205.11" font-size="11.6">35</text>
<text x="479.8" y="200.92" font-size="11.6">40</text>
<text x="507.64" y="196.73" font-size="11.6">45</text>
<text x="535.49" y="192.54" font-size="11.6">50</text>
<text x="237.02" y="232.94" font-size="11.6" text-anchor="end">0</text>
<text x="166.18" y="214.76" font-size="11.6" text-anchor="end">20</text>
<text x="95.33" y="196.57" font-size="11.6" text-anchor="end">40</text>
<text x="24.49" y="178.39" font-size="11.6" text-anchor="end">60</text>
<text x="24" y="167.79" font-size="11.6" text-anchor="end">0</text>
<text x="24" y="137.75" font-size="11.6" text-anchor="end">1</text>
<text x="24" y="107.71" font-size="11.6" text-anchor="end">2</text>
<text x="24" y="77.67" font-size="11.6" text-anchor="end">3</text>
<text x="24" y="47.63" font-size="11.6" text-anchor="end">4</text>
<text x="63.4" y="220" font-size="12.4">sample value</text>
<text x="373.2" y="235.3" font-size="12.4">time t/s</text>
<text transform="translate(13.1 140.6) rotate(-90)" font-size="12.4">output PDFs</text>
</svg>
</body></html>
